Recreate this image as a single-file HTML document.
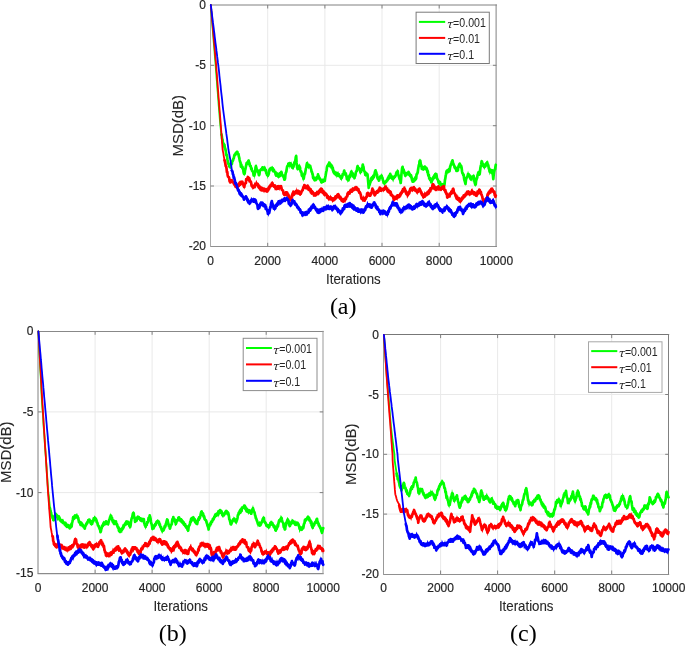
<!DOCTYPE html>
<html><head><meta charset="utf-8"><style>
html,body{margin:0;padding:0;background:#fff;width:685px;height:647px;overflow:hidden}
svg{display:block}
.g{stroke:#e9e9e9;stroke-width:1;fill:none}
.ax{fill:none;stroke:#707070;stroke-width:1}
.t{stroke:#808080;stroke-width:1}
.n{font-family:"Liberation Sans",Arial,sans-serif;font-size:13.2px;fill:#262626;stroke:#262626;stroke-width:0.2}
.xl{font-family:"Liberation Sans",Arial,sans-serif;font-size:14.6px;fill:#262626;stroke:#262626;stroke-width:0.1}
.l{font-family:"Liberation Sans",Arial,sans-serif;font-size:12.2px;fill:#262626}
.tau{font-family:"DejaVu Serif",serif;font-style:italic;font-size:11.5px;fill:#262626}
.p{font-family:"Liberation Serif","Times New Roman",serif;font-size:24px;fill:#000}
.lg{fill:#fff;stroke-width:1}
</style></head><body>
<svg width="685" height="647" viewBox="0 0 685 647">
<line x1="267.7" y1="5" x2="267.7" y2="246.3" class="g"/>
<line x1="324.9" y1="5" x2="324.9" y2="246.3" class="g"/>
<line x1="382" y1="5" x2="382" y2="246.3" class="g"/>
<line x1="439.2" y1="5" x2="439.2" y2="246.3" class="g"/>
<line x1="210.5" y1="65.3" x2="496.4" y2="65.3" class="g"/>
<line x1="210.5" y1="125.7" x2="496.4" y2="125.7" class="g"/>
<line x1="210.5" y1="186" x2="496.4" y2="186" class="g"/>
<line x1="210" y1="5" x2="496.9" y2="5" stroke="#808080"/>
<line x1="210" y1="246.5" x2="496.9" y2="246.5" stroke="#909090"/>
<line x1="210.5" y1="4.5" x2="210.5" y2="246.8" stroke="#aaaaaa"/>
<line x1="496.1" y1="4.5" x2="496.1" y2="246.8" stroke="#808080"/>
<text transform="translate(210.5 264.6) scale(0.91 1)" class="n" text-anchor="middle">0</text>
<line x1="267.7" y1="246.3" x2="267.7" y2="242.8" class="t"/>
<line x1="267.7" y1="5" x2="267.7" y2="8.5" class="t"/>
<text transform="translate(267.7 264.6) scale(0.91 1)" class="n" text-anchor="middle">2000</text>
<line x1="324.9" y1="246.3" x2="324.9" y2="242.8" class="t"/>
<line x1="324.9" y1="5" x2="324.9" y2="8.5" class="t"/>
<text transform="translate(324.9 264.6) scale(0.91 1)" class="n" text-anchor="middle">4000</text>
<line x1="382" y1="246.3" x2="382" y2="242.8" class="t"/>
<line x1="382" y1="5" x2="382" y2="8.5" class="t"/>
<text transform="translate(382 264.6) scale(0.91 1)" class="n" text-anchor="middle">6000</text>
<line x1="439.2" y1="246.3" x2="439.2" y2="242.8" class="t"/>
<line x1="439.2" y1="5" x2="439.2" y2="8.5" class="t"/>
<text transform="translate(439.2 264.6) scale(0.91 1)" class="n" text-anchor="middle">8000</text>
<text transform="translate(496.4 264.6) scale(0.91 1)" class="n" text-anchor="middle">10000</text>
<text transform="translate(206 9.1) scale(0.91 1)" class="n" text-anchor="end">0</text>
<line x1="210.5" y1="65.3" x2="214" y2="65.3" class="t"/>
<line x1="496.4" y1="65.3" x2="492.9" y2="65.3" class="t"/>
<text transform="translate(206 69.4) scale(0.91 1)" class="n" text-anchor="end">-5</text>
<line x1="210.5" y1="125.7" x2="214" y2="125.7" class="t"/>
<line x1="496.4" y1="125.7" x2="492.9" y2="125.7" class="t"/>
<text transform="translate(206 129.8) scale(0.91 1)" class="n" text-anchor="end">-10</text>
<line x1="210.5" y1="186" x2="214" y2="186" class="t"/>
<line x1="496.4" y1="186" x2="492.9" y2="186" class="t"/>
<text transform="translate(206 190.1) scale(0.91 1)" class="n" text-anchor="end">-15</text>
<text transform="translate(206 250.4) scale(0.91 1)" class="n" text-anchor="end">-20</text>
<path d="M210.8 5 L211.2 9.6 L211.5 14.2 L211.9 18.8 L212.3 23.3 L212.6 27.9 L213 32.5 L213.4 37.1 L213.7 41.7 L214.1 46.2 L214.5 50.8 L214.8 55.4 L215.2 60 L215.6 64.5 L215.9 69.1 L216.3 73.6 L216.6 78.2 L217 82.7 L217.3 87.3 L217.7 91.8 L218 96.4 L218.4 100.9 L218.7 105.5 L219.1 110 L219.5 115 L219.9 120 L220.3 125 L220.7 128.3 L221 131.7 L221.4 135" fill="none" stroke="#00ff00" stroke-width="1.8" stroke-linejoin="round" stroke-linecap="round"/>
<path d="M221.4 134.5 L221.8 135.8 L222.1 139.1 L222.5 139.2 L222.8 142.5 L223.2 143.8 L223.6 143.5 L224 145.4 L224.4 144.6 L224.8 147.6 L225.2 148.2 L225.6 149.9 L226 152.4 L226.3 155.2 L226.7 154.7 L227.1 156.6 L227.5 159.9 L228 163.1 L228.4 164.1 L228.8 164.1 L229.2 166.4 L229.6 164.2 L230 167.1 L230.4 166 L230.8 164.6 L231.1 163.6 L231.5 163.2 L231.9 163.8 L232.3 160.9 L232.6 161.2 L233 160.4 L233.4 158.7 L233.8 158.3 L234.2 155.9 L234.5 154.9 L234.9 154.4 L235.3 154.9 L235.7 153.2 L236.1 152.6 L236.5 153.1 L236.9 152.5 L237.3 151.8 L237.7 153 L238.1 154 L238.5 154 L238.8 156.3 L239.2 157.5 L239.6 159.8 L240 161.6 L240.5 162.5 L240.9 166.7 L241.3 164.5 L241.6 165.7 L242 167.1 L242.4 166.5 L242.8 168.8 L243.2 168.8 L243.5 171.9 L243.9 173.5 L244.3 174.2 L244.7 173.3 L245.1 169.8 L245.4 169.2 L245.8 167.1 L246.2 165.2 L246.6 163.1 L247 164 L247.4 164 L247.8 162.4 L248.2 162.7 L248.6 160.6 L249 162.3 L249.4 163.3 L249.8 165.5 L250.1 166.1 L250.5 165.7 L250.9 167.1 L251.2 169.1 L251.6 168.3 L252 170.8 L252.4 170.8 L252.8 171.6 L253.2 172.3 L253.6 175.3 L254 174.3 L254.4 175.5 L254.8 173.5 L255.2 172.4 L255.5 167.5 L255.9 166.1 L256.3 167.4 L256.7 169.4 L257.1 170.1 L257.4 171.2 L257.8 170.4 L258.2 171.8 L258.6 172.6 L259 175.2 L259.4 174.6 L259.8 171.4 L260.1 170.7 L260.5 170.1 L260.9 169.4 L261.3 169.4 L261.7 169.5 L262.1 168.3 L262.5 167.3 L262.9 168.4 L263.2 168 L263.6 168.4 L264 169.4 L264.4 168.4 L264.8 168.7 L265.1 169.8 L265.5 170.8 L265.8 169.7 L266.2 173 L266.6 173.5 L266.9 174.6 L267.3 175.2 L267.6 174.8 L268 175.6 L268.4 173.5 L268.8 173.8 L269.1 170.9 L269.5 169.6 L269.9 168.8 L270.3 168.6 L270.6 169 L271 168.1 L271.3 167.9 L271.7 168.2 L272 168 L272.4 168.7 L272.8 168.2 L273.1 171.2 L273.5 170.9 L273.9 170 L274.2 170.8 L274.6 171.6 L275 172.1 L275.4 171.9 L275.7 174.6 L276.1 175.5 L276.5 174.2 L276.8 174.5 L277.2 173.6 L277.5 173.9 L277.9 174.9 L278.2 174.9 L278.6 176.9 L279 174.5 L279.4 173.7 L279.8 176.1 L280.1 174.4 L280.5 172.9 L280.9 173.7 L281.3 171.8 L281.7 172.9 L282.1 175.1 L282.4 175.6 L282.8 175.9 L283.2 175.5 L283.6 176.7 L283.9 176.9 L284.3 179.6 L284.7 179.7 L285.1 178.4 L285.4 175 L285.8 172.7 L286.1 172.4 L286.5 170.9 L286.8 168.5 L287.2 166.3 L287.6 166.2 L287.9 165.9 L288.3 164.2 L288.7 164.9 L289 164.3 L289.4 163.2 L289.8 163.1 L290.2 163.7 L290.5 163.5 L290.9 164.7 L291.3 166 L291.6 165 L292 167 L292.3 167.7 L292.7 168.1 L293 166.9 L293.4 167 L293.8 165.4 L294.1 163.8 L294.4 162.3 L294.8 162 L295.1 161.3 L295.5 159.6 L295.8 157 L296.2 156 L296.6 162.9 L297.1 167.3 L297.5 168.7 L297.8 169.2 L298.2 168.5 L298.5 168.2 L298.9 167.1 L299.2 165.9 L299.6 167.5 L300 167.3 L300.3 170 L300.7 171.7 L301.1 171.2 L301.5 172.5 L301.8 175.4 L302.2 176 L302.6 175.5 L302.9 176.6 L303.3 178 L303.7 178.8 L304 177.1 L304.4 173.6 L304.8 174.3 L305.1 173.3 L305.5 170.9 L305.9 168.5 L306.3 167.7 L306.6 165 L307 163.2 L307.4 166.4 L307.8 165.6 L308.2 165.5 L308.6 167 L308.9 165.7 L309.3 167.2 L309.7 167.3 L310.1 165.7 L310.5 167.1 L310.8 168.5 L311.2 169.5 L311.6 171.8 L312 172.1 L312.3 173.8 L312.7 174.2 L313.1 177.8 L313.4 177.3 L313.8 178.9 L314.2 179.2 L314.5 180.1 L314.9 178.6 L315.3 180 L315.6 178.7 L316 178.7 L316.4 178.7 L316.8 177.1 L317.1 178.3 L317.5 177.4 L318 174.4 L318.4 177.4 L318.7 176.2 L319.1 177.7 L319.5 179.1 L319.9 179.2 L320.2 179.1 L320.6 180.3 L321 181 L321.3 182.3 L321.7 180.9 L322.1 182 L322.5 180.7 L322.9 180.5 L323.2 181.7 L323.6 180.6 L324 180.4 L324.4 180.7 L324.8 180.8 L325.2 177.5 L325.5 176.1 L325.9 173.8 L326.2 171.9 L326.6 170.5 L326.9 167.8 L327.3 166.1 L327.7 165.3 L328 166.1 L328.4 164.7 L328.7 164.6 L329.1 164.2 L329.5 162.7 L329.8 164.1 L330.2 165.8 L330.5 166 L330.9 164.5 L331.2 164.9 L331.6 166.4 L332 166.2 L332.4 167.5 L332.8 167.9 L333.1 170.5 L333.5 171.7 L333.9 172.9 L334.3 171.5 L334.7 174 L335.1 174 L335.5 172.5 L335.9 174.8 L336.2 175.1 L336.6 172.9 L337 175.2 L337.4 173.6 L337.8 174 L338.2 175.9 L338.5 175.9 L338.9 174.3 L339.3 175.6 L339.6 176.2 L340 176.2 L340.4 176.2 L340.8 177 L341.1 178.6 L341.5 177 L341.9 177.6 L342.3 176.3 L342.7 174.1 L343.1 174.1 L343.4 174.1 L343.8 172.8 L344.2 170.5 L344.6 172.4 L345 173 L345.4 174.8 L345.8 173.4 L346.1 175.1 L346.5 175.7 L346.9 179.2 L347.3 178.9 L347.7 179.7 L348.1 179.8 L348.4 180.4 L348.8 179.4 L349.2 176.9 L349.5 175.7 L349.9 177.3 L350.3 175.4 L350.7 175 L351 172.4 L351.4 171.5 L351.8 173.9 L352.2 173.7 L352.6 173.1 L352.9 176.3 L353.3 175.9 L353.7 176.9 L354.1 175.3 L354.5 178.2 L354.9 174.6 L355.3 175.7 L355.7 173.2 L356.1 171.7 L356.4 171.1 L356.8 171 L357.2 167.7 L357.6 166.1 L358 167.9 L358.4 167.7 L358.8 167.9 L359.1 168.7 L359.5 169 L359.9 170.1 L360.3 171 L360.7 171.6 L361.1 171.9 L361.4 169.5 L361.8 169.1 L362.1 167.1 L362.4 166.6 L362.8 164.6 L363.2 166.5 L363.5 167 L363.9 170.4 L364.3 171.1 L364.6 171.2 L365 173.3 L365.4 174.9 L365.7 172.6 L366.1 174.9 L366.4 173.9 L366.8 174.2 L367.1 175.4 L367.5 174.3 L367.9 178.6 L368.3 183 L368.7 187.8 L369.1 185 L369.4 185.5 L369.8 184.1 L370.1 182.9 L370.5 181.3 L370.8 180.1 L371.2 178.3 L371.6 178 L371.9 177.4 L372.3 179 L372.6 177.1 L373 176.4 L373.3 175.7 L373.7 177.5 L374.1 176.5 L374.4 174.8 L374.8 172.5 L375.1 171.2 L375.5 170.3 L375.9 171.9 L376.2 172 L376.6 174 L377 174.5 L377.4 177.7 L377.8 178.8 L378.1 178.7 L378.5 178.8 L378.9 180.6 L379.3 178.3 L379.7 178 L380.1 176.6 L380.4 177.3 L380.8 177.2 L381.2 176.9 L381.6 175.6 L382 177.8 L382.4 177.7 L382.8 179.8 L383.2 180.6 L383.6 182.9 L384 183.1 L384.4 182.5 L384.8 182.7 L385.2 181.9 L385.6 182.3 L385.9 181.5 L386.3 181.6 L386.7 180.7 L387.1 180.2 L387.5 180.2 L387.9 178.2 L388.3 177.5 L388.6 178.9 L389 175.9 L389.4 177 L389.8 176.3 L390.2 173.9 L390.6 176.7 L390.9 177.4 L391.3 177 L391.6 177.8 L392 178.5 L392.3 176.9 L392.7 178.5 L393.1 177.9 L393.5 178.5 L393.9 177.9 L394.2 177.5 L394.6 176.3 L395 176.7 L395.4 175.6 L395.8 175.2 L396.2 173.3 L396.6 172.2 L396.9 172.1 L397.3 172.3 L397.7 171 L398.1 174.4 L398.4 174.9 L398.8 176.3 L399.2 177.5 L399.6 178.9 L399.9 179.6 L400.3 179.4 L400.7 183 L401.1 179.1 L401.4 174.7 L401.8 171 L402.2 167.7 L402.6 166.8 L402.9 169.8 L403.3 169.2 L403.6 169.6 L404 171.1 L404.4 173.4 L404.7 172.8 L405.1 175.3 L405.5 175.8 L405.9 174.1 L406.3 173.6 L406.6 173.6 L407 174 L407.4 174.1 L407.8 173.4 L408.2 173.2 L408.6 172 L409 172.8 L409.4 173.6 L409.8 175.6 L410.2 174.8 L410.6 176.1 L411 175.3 L411.3 176.4 L411.7 177.9 L412 180 L412.4 180.9 L412.7 181.7 L413.1 181.5 L413.5 181.5 L413.9 180.7 L414.3 180.1 L414.6 178.5 L415 180.2 L415.4 177.4 L415.8 179.2 L416.2 178.4 L416.6 174.2 L417 174 L417.3 173.6 L417.7 172.6 L418.1 169.5 L418.5 167.1 L418.8 165.1 L419.2 165.5 L419.5 161.4 L419.9 160.6 L420.3 160.8 L420.7 163.4 L421 166.2 L421.4 165.2 L421.8 168.8 L422.2 167.9 L422.6 169.1 L423 168.7 L423.4 167.3 L423.7 169.4 L424.1 168.3 L424.5 167 L424.9 167 L425.3 168.6 L425.6 168.6 L426 168.3 L426.3 167.9 L426.7 168.6 L427.1 169.7 L427.4 172.4 L427.8 171 L428.1 174.4 L428.5 175.8 L428.8 174.8 L429.2 178.4 L429.6 178.4 L429.9 179.5 L430.3 178.3 L430.6 179.2 L431 179.9 L431.3 182.3 L431.7 181.7 L432.1 180.3 L432.5 179.8 L432.9 178.6 L433.3 177.2 L433.7 176.6 L434.1 178.1 L434.5 175.8 L434.8 177.2 L435.2 174.5 L435.5 173.9 L435.9 174 L436.3 174.1 L436.6 175.6 L437 178.4 L437.4 179.2 L437.8 179.9 L438.1 180.4 L438.5 182.2 L438.9 183.3 L439.3 182.6 L439.6 183.5 L440 182 L440.3 184.5 L440.7 184.1 L441 185.4 L441.4 185.5 L441.8 184.6 L442.1 184.1 L442.5 186.9 L442.8 184.7 L443.2 185.9 L443.5 185.7 L443.9 185.8 L444.3 185.1 L444.6 183.7 L445 179.6 L445.3 178.7 L445.7 175.6 L446 174.3 L446.4 171.8 L446.8 170.8 L447.2 170.5 L447.6 170.3 L447.9 172.1 L448.3 170.6 L448.7 169.5 L449.1 171.2 L449.5 171.2 L449.9 168.5 L450.2 166.4 L450.6 165.5 L451 164.1 L451.4 163.8 L451.8 161.9 L452.1 161.3 L452.5 160.3 L452.9 162.3 L453.2 164.3 L453.6 164.9 L453.9 165 L454.3 166 L454.6 167.4 L455 168 L455.4 168.2 L455.7 167.6 L456.1 168.5 L456.4 170.9 L456.8 168.6 L457.1 170 L457.5 170.7 L457.9 170.3 L458.2 167.3 L458.6 166.4 L458.9 165.3 L459.3 164.7 L459.6 163.8 L460 164.3 L460.4 165.5 L460.8 167.1 L461.2 166.1 L461.6 167.6 L462 171.2 L462.4 173.3 L462.8 173.3 L463.2 175 L463.6 174.5 L463.9 177 L464.3 179.9 L464.7 181 L465.1 182.4 L465.5 184 L465.9 180.5 L466.2 178.8 L466.6 177.6 L466.9 177.4 L467.3 176.6 L467.6 176 L468 174.1 L468.4 174.5 L468.7 175.6 L469.1 175.4 L469.4 176.4 L469.8 175.5 L470.1 178.4 L470.5 177.5 L470.9 179.4 L471.3 178.4 L471.7 177.3 L472.1 176.6 L472.4 176.8 L472.8 177.8 L473.2 177.8 L473.6 175.9 L474 177.5 L474.3 180.6 L474.7 182.5 L475 183.6 L475.4 184.9 L475.8 184.2 L476.1 180.5 L476.5 179.6 L476.8 178.2 L477.2 177.9 L477.5 175.1 L477.9 174 L478.3 172.8 L478.6 172.2 L479 172.4 L479.3 174.7 L479.7 174 L480.1 170.5 L480.5 167.2 L480.8 166.3 L481.2 164.5 L481.6 161.4 L482 161.7 L482.3 163.7 L482.7 165.3 L483 164 L483.4 164.2 L483.7 165.9 L484.1 167 L484.5 167.2 L484.9 165.2 L485.3 166.5 L485.6 165.8 L486 164.5 L486.4 163.1 L486.8 164.8 L487.2 162.3 L487.6 165.1 L488 164.6 L488.4 165.8 L488.8 168.6 L489.2 168.5 L489.6 171.7 L490 170.5 L490.3 169.7 L490.7 170 L491 170.7 L491.4 171.7 L491.7 172.7 L492.1 170.4 L492.5 173.2 L492.9 174.8 L493.3 179.1 L493.7 174.7 L494 172.5 L494.4 170.6 L494.7 169.6 L495.1 169.2 L495.4 167.2 L495.8 164.8" fill="none" stroke="#00ff00" stroke-width="2.7" stroke-linejoin="round" stroke-linecap="round"/>
<path d="M221.4 134.9 L222 136.6 L222.6 139.8 L223.2 142.7 L223.8 143.2 L224.4 144 L225.2 148.1 L225.8 150.5 L226.5 153.1 L227.1 155.2 L227.8 158.7 L228.4 161.9 L228.9 162.9 L229.4 163.4 L229.9 164.4 L230.4 166 L230.9 164.7 L231.4 163.7 L232 161.9 L232.5 159.8 L233 158.5 L233.5 155.9 L234.1 154.9 L234.6 153.4 L235.2 152.4 L235.7 151.9 L236.2 151.2 L236.7 150.3 L237.2 150.9 L237.7 150.6 L238.3 153.7 L239 155.7 L239.6 156.5 L240.2 160 L240.9 163.1 L241.4 164.9 L242 166 L242.6 167.5 L243.2 168.5 L243.7 171.1 L244.3 172.3 L244.9 169.7 L245.4 166.8 L246 164.5 L246.6 161.3 L247.2 160.6 L247.8 160.3 L248.4 159.9 L249 159 L249.5 160.9 L250 162 L250.5 163 L251 164.4 L251.5 166.1 L252 168.6 L252.6 169.5 L253.2 171 L253.8 172.6 L254.4 174.8 L254.9 171.3 L255.4 168.6 L255.9 163.8 L256.4 164.8 L256.9 167 L257.4 169.3 L258 169.8 L258.5 170.9 L259 171.5 L259.6 170 L260.1 168.9 L260.7 168.3 L261.3 167.4 L261.8 167.4 L262.3 166.8 L262.9 168 L263.4 166.5 L263.9 165.9 L264.4 165.5 L264.9 166.6 L265.4 166.3 L265.9 168.6 L266.5 171.1 L267 172 L267.5 174.3 L268 173.7 L268.6 172.2 L269.3 170.2 L269.9 167.9 L270.4 167.7 L270.9 167.3 L271.4 167 L271.9 166.5 L272.4 165.6 L272.9 167.8 L273.5 167.5 L274 167.8 L274.5 169.4 L275 171.1 L275.6 172.1 L276.1 173 L276.6 173.1 L277.1 172.5 L277.6 173.1 L278.1 173.8 L278.6 174.6 L279.1 174.4 L279.6 173 L280.1 172.6 L280.7 171.7 L281.2 171.5 L281.7 171.1 L282.2 172.4 L282.7 174.1 L283.2 175.2 L283.7 176 L284.2 176.7 L284.7 177.3 L285.2 173.9 L285.7 169.6 L286.2 169.6 L286.7 166.2 L287.2 162.8 L287.7 162.4 L288.3 162.7 L288.8 162.1 L289.3 161.8 L289.8 163.4 L290.4 163.3 L290.9 161.8 L291.4 161.5 L291.9 163.6 L292.4 163.7 L292.9 163.7 L293.4 166.4 L294 162.7 L294.5 161.2 L295.1 158.4 L295.6 156.3 L296.2 154.1 L297.1 165.7 L297.6 166.6 L298.1 166 L298.6 165.8 L299.1 163.3 L299.6 164.5 L300.1 165.4 L300.7 168.2 L301.2 170.4 L301.7 172.1 L302.2 174 L302.8 176.6 L303.3 176 L303.8 174.3 L304.4 171.8 L304.9 170.9 L305.4 169.4 L305.9 167.8 L306.5 165.1 L307 162 L307.5 161 L308 161.7 L308.6 163.9 L309.1 163.3 L309.6 164 L310.1 165.2 L310.6 167.4 L311.2 168.9 L311.7 170.4 L312.2 171.3 L312.7 170.5 L313.3 174 L313.8 175.5 L314.3 177.6 L314.9 175.5 L315.4 177.5 L315.9 177.6 L316.4 177.6 L317 176.5 L317.5 176.2 L318 173.9 L318.5 174.6 L319.1 175.5 L319.6 175.8 L320.1 177.4 L320.6 177 L321.2 178.4 L321.7 179.3 L322.2 177.7 L322.7 179.2 L323.2 178.7 L323.8 178.2 L324.3 176.9 L324.8 177.2 L325.3 175 L325.8 173.1 L326.3 169.9 L326.8 167.3 L327.3 163.8 L327.9 162.6 L328.5 161.2 L329.1 161.5 L329.6 162.9 L330.1 164.1 L330.6 165.2 L331.1 165.3 L331.6 165.6 L332.1 166.5 L332.6 167 L333.1 167.8 L333.7 168.7 L334.2 169.6 L334.7 171 L335.2 172.1 L335.7 172.2 L336.2 173.1 L336.8 172.6 L337.3 171.8 L337.8 172.1 L338.3 171.1 L338.9 173.3 L339.4 173.9 L339.9 174.6 L340.4 175.9 L341 175.8 L341.5 177.2 L342 175.8 L342.5 174 L343.1 170.3 L343.6 170.2 L344.1 170.1 L344.6 169.4 L345.1 171.6 L345.6 173.3 L346.1 173.7 L346.7 175.3 L347.2 176.5 L347.7 179.4 L348.2 176.9 L348.8 176.3 L349.3 173 L349.8 174 L350.3 172.5 L350.9 172.2 L351.4 170.6 L351.9 169.1 L352.4 171.5 L352.9 173.4 L353.5 174.2 L354 174.8 L354.5 175.2 L355 173.6 L355.5 172.7 L356.1 171 L356.6 169 L357.1 167.4 L357.6 164.5 L358.1 165.6 L358.6 167.3 L359.1 168.5 L359.7 169.4 L360.2 170.5 L360.7 170.7 L361.2 169 L361.8 167.2 L362.3 164.9 L362.8 164.5 L363.4 166.3 L363.9 168.7 L364.4 170.7 L365 173.4 L365.5 172.6 L366 172.4 L366.5 171.9 L367 172.5 L367.5 172 L368.1 180.2 L368.7 184.6 L369.2 184 L369.7 180.5 L370.2 179.5 L370.7 180.1 L371.2 177.1 L371.7 176.9 L372.2 174.9 L372.7 177 L373.2 176.6 L373.7 175.2 L374.3 171.8 L374.9 171.5 L375.5 170.3 L376 171.1 L376.5 172.3 L377 173.1 L377.5 175.6 L378 176.6 L378.5 177.7 L379 178 L379.5 177.9 L380.1 176.7 L380.6 176.2 L381.1 172.9 L381.6 174.1 L382.2 176.4 L382.8 176 L383.4 179.7 L384 182.2 L384.5 182.2 L385 181 L385.6 180.3 L386.1 179 L386.6 178.7 L387.1 177.8 L387.6 177.3 L388.1 176.1 L388.6 175.5 L389.2 173.4 L389.7 173.5 L390.2 174.3 L390.7 174.8 L391.2 173.8 L391.7 174.7 L392.2 174.7 L392.7 176.4 L393.2 176.8 L393.7 176.7 L394.2 175.2 L394.8 175.2 L395.3 174.7 L395.8 173.7 L396.4 172.6 L397.1 171.1 L397.7 168.6 L398.2 172.1 L398.7 173.9 L399.2 174.6 L399.7 176.9 L400.2 179.2 L400.7 179.6 L401.2 175.1 L401.7 170.9 L402.2 165.5 L402.8 166.9 L403.4 169.2 L403.9 169.5 L404.5 171 L405.1 171.1 L405.6 173 L406.1 172.1 L406.6 171.8 L407.2 171.4 L407.7 171.7 L408.2 171.1 L408.8 170.9 L409.4 172.2 L410 173.2 L410.6 173.8 L411.1 175.9 L411.6 176.1 L412.1 176.9 L412.6 178.7 L413.1 178.1 L413.6 178.9 L414.1 178.5 L414.6 176.9 L415.2 175.9 L415.7 175.3 L416.2 174.4 L416.8 171.8 L417.5 170.1 L418.1 167.5 L418.7 165 L419.3 162 L419.9 158.2 L420.5 159.6 L421.2 162.5 L421.8 166 L422.3 166.2 L422.8 166.8 L423.4 166.6 L423.9 165.3 L424.4 165.3 L424.9 165.5 L425.5 165 L426.1 167.4 L426.7 166.3 L427.2 167.7 L427.7 169.8 L428.2 171.5 L428.7 173.6 L429.2 175 L429.7 176.6 L430.2 177.1 L430.7 177.9 L431.2 178.6 L431.7 178.8 L432.3 178.4 L432.9 177.1 L433.5 174.3 L434.1 173.7 L434.7 172.9 L435.3 173 L435.9 172.6 L436.4 174.2 L436.9 174.8 L437.4 176.3 L437.9 178.3 L438.4 178.4 L438.9 180 L439.4 180.4 L439.9 181.5 L440.4 182.1 L440.9 182.8 L441.4 183 L441.9 182.9 L442.4 183.5 L442.9 183.5 L443.4 182.6 L443.9 183.7 L444.4 182.4 L444.9 180.3 L445.4 175.8 L445.9 172.8 L446.4 170.6 L446.9 171 L447.4 170.5 L447.9 169.4 L448.5 169.1 L449 167.2 L449.5 168.9 L450 167.1 L450.5 164.6 L451 163.6 L451.5 161.1 L452 159.8 L452.5 159.1 L453 161.3 L453.5 160.3 L454 163.8 L454.5 162.7 L455 164.7 L455.5 166.3 L456 166.3 L456.5 167.7 L457 167.8 L457.5 168.2 L458 167.2 L458.5 165.4 L459 164.5 L459.5 162.5 L460 161.9 L460.6 163.1 L461.2 164.6 L461.8 168.3 L462.4 170.4 L462.9 171.4 L463.4 174 L463.9 174.6 L464.5 176.6 L465 177.5 L465.5 180 L466 177.9 L466.5 177.2 L467 174.9 L467.5 172.9 L468 170.6 L468.5 172.5 L469 173.5 L469.5 172.8 L470 174.5 L470.5 176.6 L471 176.4 L471.5 176.8 L472.1 176.8 L472.6 176.2 L473.1 175.8 L473.6 173.4 L474.2 177.2 L474.8 180.8 L475.4 183 L475.9 182.4 L476.4 179.8 L476.9 176.9 L477.4 173.7 L477.9 171.6 L478.5 171.4 L479.1 170.9 L479.7 172.3 L480.3 167.7 L481 163.8 L481.6 159 L482.1 161.4 L482.6 159.8 L483.1 162.7 L483.6 163.2 L484.1 164.8 L484.6 164.6 L485.1 163.8 L485.6 162.9 L486.2 162.9 L486.7 161.2 L487.2 159.7 L487.8 162.1 L488.4 163.9 L489 168.3 L489.6 169.7 L490.1 169 L490.6 169.5 L491.1 168.8 L491.6 170 L492.1 170.6 L492.7 172.8 L493.3 175.6 L493.8 171.6 L494.3 170.4 L494.8 166.1 L495.3 164.4 L495.8 161.9 L495.8 164.7 L495.3 167.7 L494.8 172.7 L494.3 173.6 L493.8 176.2 L493.3 179.4 L492.7 178.6 L492.1 174.6 L491.6 173.4 L491.1 174.4 L490.6 173.3 L490.1 173.8 L489.6 175.5 L489 171.9 L488.4 168.6 L487.8 166.1 L487.2 164.4 L486.7 165.2 L486.2 165.9 L485.6 166.3 L485.1 167.2 L484.6 169.7 L484.1 169.5 L483.6 167 L483.1 167.3 L482.6 167 L482.1 164.9 L481.6 162.7 L481 167.7 L480.3 171.3 L479.7 175.6 L479.1 175.6 L478.5 175.3 L477.9 176.4 L477.4 178.4 L476.9 180.2 L476.4 183.8 L475.9 185.3 L475.4 187.1 L474.8 185.1 L474.2 180.7 L473.6 178.4 L473.1 178.6 L472.6 179.9 L472.1 182.1 L471.5 180.8 L471 180.1 L470.5 180.7 L470 178.2 L469.5 178.4 L469 176.9 L468.5 177.4 L468 174.6 L467.5 176.8 L467 179.8 L466.5 181 L466 183.7 L465.5 183.9 L465 181.7 L464.5 180.1 L463.9 178.7 L463.4 178.1 L462.9 176.7 L462.4 174.6 L461.8 171.2 L461.2 170 L460.6 167.7 L460 165.2 L459.5 166.7 L459 168.5 L458.5 169.2 L458 170.4 L457.5 172.4 L457 171.9 L456.5 171.4 L456 170.6 L455.5 169.3 L455 170.4 L454.5 168.8 L454 167 L453.5 165.4 L453 165.6 L452.5 162.6 L452 164 L451.5 165.1 L451 168.8 L450.5 168.9 L450 170.4 L449.5 172.8 L449 172.7 L448.5 172.5 L447.9 172.4 L447.4 173.6 L446.9 175.3 L446.4 176 L445.9 178.1 L445.4 180.9 L444.9 183.9 L444.4 185.2 L443.9 188 L443.4 187.2 L442.9 186.8 L442.4 187.5 L441.9 186.3 L441.4 186.8 L440.9 186.7 L440.4 185.4 L439.9 185.3 L439.4 183.6 L438.9 184.2 L438.4 181.6 L437.9 181.1 L437.4 180.2 L436.9 179.4 L436.4 179.4 L435.9 176.2 L435.3 177.4 L434.7 176.8 L434.1 178.4 L433.5 179.7 L432.9 180.5 L432.3 182.4 L431.7 183.2 L431.2 182.8 L430.7 181.8 L430.2 183.1 L429.7 181 L429.2 180.9 L428.7 179.3 L428.2 175.2 L427.7 172.5 L427.2 171.9 L426.7 170.4 L426.1 171.3 L425.5 170.5 L424.9 169.7 L424.4 169.4 L423.9 169.3 L423.4 171 L422.8 170.5 L422.3 169.8 L421.8 169.4 L421.2 167.3 L420.5 164.7 L419.9 161.7 L419.3 165.1 L418.7 168.3 L418.1 171.1 L417.5 173.5 L416.8 176.1 L416.2 178.5 L415.7 179.3 L415.2 180.3 L414.6 182.7 L414.1 182.1 L413.6 182.6 L413.1 182.7 L412.6 181.7 L412.1 180.6 L411.6 180.9 L411.1 178.8 L410.6 178.5 L410 177.2 L409.4 177.2 L408.8 175.8 L408.2 175.6 L407.7 175.8 L407.2 174.6 L406.6 175.9 L406.1 176 L405.6 176.6 L405.1 177.8 L404.5 175.3 L403.9 173 L403.4 172.4 L402.8 171.7 L402.2 170 L401.7 173.8 L401.2 180.2 L400.7 184.3 L400.2 182.4 L399.7 183.1 L399.2 179.8 L398.7 179 L398.2 175.1 L397.7 173.8 L397.1 174.2 L396.4 176.4 L395.8 177.4 L395.3 177.9 L394.8 178.6 L394.2 179 L393.7 180.8 L393.2 182.6 L392.7 181.2 L392.2 180.2 L391.7 178.2 L391.2 177.8 L390.7 178.6 L390.2 177.9 L389.7 179.5 L389.2 178.7 L388.6 178.7 L388.1 181.7 L387.6 180.7 L387.1 182.5 L386.6 183.6 L386.1 182.5 L385.6 184.3 L385 184.8 L384.5 186 L384 185.8 L383.4 183.4 L382.8 182 L382.2 180.2 L381.6 178 L381.1 178.3 L380.6 179.3 L380.1 181.5 L379.5 180.8 L379 181.2 L378.5 181.9 L378 180.1 L377.5 178.7 L377 177.2 L376.5 175.8 L376 174.9 L375.5 173.4 L374.9 175.9 L374.3 177 L373.7 179.8 L373.2 179.8 L372.7 181.2 L372.2 181.3 L371.7 180.7 L371.2 182.9 L370.7 183.1 L370.2 184.6 L369.7 185.9 L369.2 187.6 L368.7 189 L368.1 183.6 L367.5 176.4 L367 176 L366.5 175.4 L366 176.8 L365.5 176.5 L365 176.2 L364.4 175.4 L363.9 171.7 L363.4 170.9 L362.8 167.6 L362.3 169.3 L361.8 170.9 L361.2 172.4 L360.7 174.9 L360.2 174.3 L359.7 174 L359.1 172.3 L358.6 170.6 L358.1 169.6 L357.6 168.6 L357.1 170.3 L356.6 174.1 L356.1 174.3 L355.5 177.1 L355 178.9 L354.5 179.4 L354 178.2 L353.5 178 L352.9 176.9 L352.4 175.8 L351.9 174.7 L351.4 174.1 L350.9 175.6 L350.3 176.4 L349.8 177 L349.3 178.9 L348.8 179.7 L348.2 181.5 L347.7 183.1 L347.2 180.4 L346.7 178.8 L346.1 178.1 L345.6 176.3 L345.1 176.8 L344.6 173.2 L344.1 173.6 L343.6 174.1 L343.1 176.4 L342.5 178.4 L342 179.3 L341.5 181.6 L341 180.2 L340.4 179.1 L339.9 178.4 L339.4 177.7 L338.9 177.2 L338.3 176.8 L337.8 175.2 L337.3 176.5 L336.8 178.4 L336.2 176.1 L335.7 176.4 L335.2 175.6 L334.7 175 L334.2 173.9 L333.7 172.6 L333.1 173.8 L332.6 171.7 L332.1 170.9 L331.6 169.9 L331.1 168.5 L330.6 169.1 L330.1 167.3 L329.6 168.2 L329.1 164.8 L328.5 165.6 L327.9 165.6 L327.3 167 L326.8 171.2 L326.3 173.4 L325.8 176.8 L325.3 178.2 L324.8 180.6 L324.3 181 L323.8 181.3 L323.2 183.1 L322.7 183.2 L322.2 183.3 L321.7 183.9 L321.2 183.3 L320.6 181.5 L320.1 181.4 L319.6 179.9 L319.1 179.1 L318.5 178.7 L318 177.7 L317.5 180.3 L317 180.6 L316.4 181.3 L315.9 181.4 L315.4 181.1 L314.9 180.7 L314.3 181.7 L313.8 180.4 L313.3 178.2 L312.7 176 L312.2 175.1 L311.7 174.3 L311.2 172.4 L310.6 171.1 L310.1 168.3 L309.6 167.5 L309.1 167.2 L308.6 169.7 L308 167.8 L307.5 166.8 L307 165.8 L306.5 168.8 L305.9 172.6 L305.4 173.1 L304.9 175.3 L304.4 177.1 L303.8 179.4 L303.3 182 L302.8 180.4 L302.2 178.3 L301.7 175.6 L301.2 173.8 L300.7 171.4 L300.1 169.2 L299.6 167.7 L299.1 168.4 L298.6 169.4 L298.1 170.1 L297.6 170.3 L297.1 169.5 L296.2 157 L295.6 162 L295.1 161.8 L294.5 164.2 L294 166.8 L293.4 170 L292.9 169.5 L292.4 168.4 L291.9 168.1 L291.4 165.8 L290.9 166 L290.4 166.4 L289.8 169.2 L289.3 167 L288.8 166.3 L288.3 166.6 L287.7 167.1 L287.2 167.2 L286.7 170.7 L286.2 173.9 L285.7 175 L285.2 177.1 L284.7 180.5 L284.2 180.1 L283.7 180.3 L283.2 178.9 L282.7 178 L282.2 176.3 L281.7 175.1 L281.2 176.5 L280.7 176.2 L280.1 176.9 L279.6 176.7 L279.1 177.5 L278.6 178.9 L278.1 177.4 L277.6 177.6 L277.1 176.4 L276.6 176.5 L276.1 177.2 L275.6 175.9 L275 174.4 L274.5 174.3 L274 172.2 L273.5 172.3 L272.9 171.5 L272.4 170.9 L271.9 170.8 L271.4 170.6 L270.9 172.3 L270.4 170.5 L269.9 171.9 L269.3 175.4 L268.6 176.7 L268 177.4 L267.5 179.3 L267 175.5 L266.5 174.4 L265.9 172.9 L265.4 172 L264.9 171.6 L264.4 169.7 L263.9 170.1 L263.4 171 L262.9 171.7 L262.3 170.5 L261.8 170.8 L261.3 170.8 L260.7 172.3 L260.1 173.1 L259.6 174.1 L259 175 L258.5 174.3 L258 175.8 L257.4 172.9 L256.9 170.5 L256.4 170.7 L255.9 167.6 L255.4 171.8 L254.9 175.1 L254.4 179.9 L253.8 176.2 L253.2 174.8 L252.6 173.2 L252 172.7 L251.5 170 L251 167.7 L250.5 166.5 L250 166.6 L249.5 164.8 L249 162.8 L248.4 163.8 L247.8 163.6 L247.2 163.7 L246.6 165.4 L246 168.7 L245.4 171 L244.9 173 L244.3 176.5 L243.7 174.3 L243.2 172.5 L242.6 170.7 L242 169.1 L241.4 169.5 L240.9 166.3 L240.2 163.3 L239.6 160.7 L239 159.1 L238.3 157.7 L237.7 153.9 L237.2 154.6 L236.7 154.5 L236.2 155 L235.7 155.6 L235.2 156.2 L234.6 158 L234.1 158.9 L233.5 160.3 L233 161.8 L232.5 164 L232 166.7 L231.4 166.7 L230.9 169.3 L230.4 168.8 L229.9 168.6 L229.4 167 L228.9 166.5 L228.4 165.8 L227.8 162.4 L227.1 158.8 L226.5 156.3 L225.8 154.7 L225.2 151.4 L224.4 149.2 L223.8 149.4 L223.2 146.6 L222.6 143.3 L222 140.2 L221.4 138.2Z" fill="#00ff00"/>
<path d="M210.8 5 L211.2 9.2 L211.6 13.5 L211.9 17.7 L212.3 21.9 L212.7 26.2 L213.1 30.4 L213.4 34.6 L213.8 38.8 L214.2 43.1 L214.6 47.3 L214.9 51.5 L215.3 55.8 L215.7 60 L216.1 64.5 L216.4 69.1 L216.8 73.6 L217.1 78.2 L217.5 82.7 L217.8 87.3 L218.2 91.8 L218.5 96.4 L218.9 100.9 L219.2 105.5 L219.6 110 L220 115 L220.4 120.1 L220.8 125.1 L221.2 130.7 L221.7 136.3 L222.1 142.9 L222.6 149.5 L223 151.6 L223.4 153.7 L223.7 155.8 L224.1 157.9 L224.5 160" fill="none" stroke="#ff0000" stroke-width="1.8" stroke-linejoin="round" stroke-linecap="round"/>
<path d="M224.5 160.2 L224.9 161.4 L225.3 163.3 L225.7 166 L226.1 166.4 L226.5 168.2 L226.9 172.1 L227.3 171.9 L227.6 175 L228 176.6 L228.4 177 L228.8 177.1 L229.2 178 L229.6 181.4 L230 180.2 L230.4 182.4 L230.8 182.2 L231.2 180.7 L231.6 181.5 L232 180.4 L232.4 181.2 L232.8 181.9 L233.2 182.3 L233.6 182.5 L234 183.9 L234.4 184.1 L234.8 184.1 L235.1 184.6 L235.5 186.7 L235.9 185.7 L236.3 187.1 L236.6 184.7 L237 187.6 L237.4 185.9 L237.7 186.4 L238.1 185.4 L238.5 185.4 L238.9 183.6 L239.2 184.8 L239.6 182.7 L240 182.8 L240.4 181.9 L240.8 182.7 L241.2 182.9 L241.6 182 L242 183.6 L242.4 181.8 L242.8 184 L243.2 183.6 L243.5 185.4 L243.9 186.6 L244.3 187 L244.7 183.9 L245.1 183.3 L245.5 183.2 L245.9 183.2 L246.2 179.2 L246.6 179.8 L247 178.8 L247.4 178 L247.8 177.1 L248.2 179.1 L248.6 178.5 L248.9 180.4 L249.3 178.2 L249.7 181.5 L250.1 180.9 L250.5 181.8 L250.9 181.9 L251.2 183.3 L251.6 185.7 L252 186.5 L252.4 185.9 L252.8 187.4 L253.2 186.4 L253.5 186.2 L253.9 185.8 L254.2 185.7 L254.6 187.2 L254.9 186.9 L255.3 185.8 L255.6 184.5 L256 184.1 L256.3 184.6 L256.7 184.5 L257.1 184.6 L257.4 184.8 L257.8 184 L258.2 185.9 L258.5 187.1 L258.9 187.4 L259.3 185.9 L259.6 188.3 L260 187.7 L260.4 187.3 L260.7 189.9 L261.1 189.1 L261.5 189.5 L261.9 187.8 L262.2 190 L262.6 190.4 L263 190.5 L263.3 190.1 L263.7 190.5 L264.1 190.5 L264.4 189.9 L264.8 189.5 L265.2 190.7 L265.5 190.7 L265.9 191 L266.3 189.3 L266.7 191.4 L267 190.1 L267.4 191.4 L267.8 188.5 L268.1 190.5 L268.5 189.5 L268.8 187.4 L269.2 188.7 L269.5 186.4 L269.9 185.8 L270.3 186.1 L270.6 184.9 L271 185.2 L271.3 186 L271.7 184.8 L272 184.4 L272.4 183 L272.8 184.6 L273.1 185.2 L273.5 185.3 L273.9 186.6 L274.2 186.7 L274.6 186 L275 185.5 L275.4 187.7 L275.7 188.7 L276.1 187.7 L276.5 188.4 L276.9 189 L277.2 188.8 L277.6 186.3 L278 187.7 L278.4 186.2 L278.7 186.4 L279.1 188.4 L279.5 187.1 L279.9 187.6 L280.2 187.1 L280.6 186.6 L281 186.1 L281.4 187.5 L281.8 189.9 L282.2 190.1 L282.6 190.1 L282.9 190.4 L283.3 191.9 L283.7 194.1 L284.1 194.2 L284.5 194.7 L284.9 195 L285.3 192.8 L285.6 194.3 L286 192.3 L286.4 194.5 L286.8 192.4 L287.2 192.5 L287.6 195.3 L288 194.3 L288.4 194.7 L288.8 197.5 L289.1 197.4 L289.5 199 L289.9 198.3 L290.3 199.4 L290.7 200 L291.1 197.9 L291.5 198.5 L291.9 195.4 L292.2 196.5 L292.6 193.7 L293 194.1 L293.4 191.7 L293.8 192.1 L294.1 194.3 L294.5 192.7 L294.9 193.6 L295.2 191.9 L295.6 192 L296 191.2 L296.4 192.4 L296.7 193.2 L297.1 192 L297.5 191.8 L297.8 193.5 L298.2 193.5 L298.6 193 L299 191.3 L299.3 193.1 L299.7 192.7 L300.1 194.3 L300.4 192.7 L300.8 193.7 L301.2 192.7 L301.6 191.1 L302 190.7 L302.4 190.3 L302.7 190.2 L303.1 188.1 L303.5 186.8 L303.9 187.8 L304.3 185.1 L304.6 187.5 L305 187.1 L305.4 186.8 L305.8 186.5 L306.1 187.5 L306.5 188 L306.9 187.6 L307.2 187.7 L307.6 185.6 L308 186.9 L308.4 186.8 L308.8 189.7 L309.1 190 L309.5 188.2 L309.9 190 L310.3 190.5 L310.7 189.3 L311.1 190.7 L311.4 192.2 L311.8 192.2 L312.2 191.5 L312.5 193.3 L312.9 192.3 L313.3 193.4 L313.7 193.4 L314 195.5 L314.4 194.8 L314.8 195.2 L315.1 194.7 L315.5 193.7 L315.8 195.3 L316.2 194.4 L316.6 194.3 L316.9 192.9 L317.3 192.4 L317.6 193.5 L318 194.2 L318.4 193.6 L318.8 191.8 L319.2 190.7 L319.6 191.4 L319.9 192 L320.3 189.4 L320.7 190.7 L321.1 188.5 L321.5 189.3 L321.8 189 L322.2 190.1 L322.5 190.8 L322.9 192.9 L323.2 193.3 L323.6 191.4 L324 192.2 L324.3 194.5 L324.7 192.7 L325 193.5 L325.4 194.2 L325.8 193.6 L326.1 194.4 L326.5 195.2 L326.9 195.5 L327.2 197.6 L327.6 195.9 L328 196.1 L328.4 198.6 L328.7 197.6 L329.1 199.1 L329.5 198.6 L329.8 199.1 L330.2 197.8 L330.5 197.4 L330.9 199.3 L331.2 198.6 L331.6 198.9 L332 199.4 L332.3 199.7 L332.7 198.4 L333 198.7 L333.4 200.5 L333.7 199.4 L334.1 198.8 L334.5 199.4 L334.8 197.8 L335.2 198.9 L335.6 196.3 L336 198.2 L336.3 197 L336.7 196 L337.1 197.3 L337.4 194.8 L337.8 194.3 L338.2 194.2 L338.6 196.1 L338.9 197.1 L339.3 197.3 L339.7 197 L340.1 198.6 L340.4 196.9 L340.8 197.9 L341.2 199.3 L341.6 200.7 L341.9 200.2 L342.3 200.8 L342.7 201.4 L343.1 200.1 L343.4 201.6 L343.8 200.8 L344.1 199.4 L344.5 199.4 L344.8 200.5 L345.2 198.9 L345.6 197.7 L345.9 199.1 L346.3 197.4 L346.6 196.6 L347 196.3 L347.3 196.3 L347.7 193.3 L348.1 193.5 L348.4 192.4 L348.8 193 L349.2 192.9 L349.5 193.6 L349.9 192.7 L350.3 192 L350.7 191.2 L351 191.3 L351.4 190 L351.8 191.5 L352.1 191 L352.5 190.9 L352.8 188.6 L353.2 189.9 L353.5 189.9 L353.9 188.9 L354.3 189.8 L354.6 189.6 L355 188.8 L355.3 188.8 L355.7 188 L356.1 189.1 L356.5 187.3 L356.9 189.4 L357.2 189.8 L357.6 189.9 L358 189.3 L358.4 189 L358.8 191 L359.2 192.6 L359.6 191.9 L360 192.6 L360.4 193.6 L360.7 194.1 L361.1 196.8 L361.5 198.6 L361.9 199 L362.3 198 L362.7 199.3 L363.1 197.8 L363.4 200.4 L363.8 199.1 L364.2 198.5 L364.6 200.7 L365 199.5 L365.4 199 L365.7 197.3 L366.1 197.5 L366.4 196.9 L366.8 196.7 L367.1 193.4 L367.5 194.8 L367.9 192.9 L368.2 193.5 L368.6 195 L368.9 194.4 L369.3 194.7 L369.6 195.6 L370 194.9 L370.4 195.6 L370.8 193 L371.2 193.9 L371.6 192.9 L372 191.1 L372.4 188.7 L372.8 191.5 L373.1 189.9 L373.5 192 L373.8 192.3 L374.2 191.9 L374.5 194.2 L374.9 195.1 L375.3 194.2 L375.7 193.2 L376.1 193 L376.4 192.8 L376.8 191.3 L377.2 192.7 L377.6 192.6 L378 191.6 L378.4 191.6 L378.9 189.3 L379.3 190.8 L379.7 187.6 L380.1 189 L380.4 188 L380.8 189.1 L381.2 189.9 L381.5 190.1 L381.9 189.5 L382.3 189.3 L382.7 188.9 L383 189.7 L383.4 189.4 L383.8 188.7 L384.2 189.8 L384.5 188.6 L384.9 187.9 L385.3 186.7 L385.7 188.6 L386.1 187.5 L386.5 188.1 L386.9 189.3 L387.2 190.1 L387.6 191.3 L388 191.1 L388.4 192 L388.8 192.4 L389.2 192.3 L389.6 192.7 L389.9 191.2 L390.3 192.1 L390.7 192 L391.1 195 L391.5 195.1 L391.9 195.5 L392.3 195.2 L392.7 196.2 L393.1 196.3 L393.5 198.5 L393.9 200.3 L394.3 198 L394.7 197 L395.1 197.1 L395.4 197.4 L395.8 198.8 L396.2 198.3 L396.6 197 L397 195.7 L397.4 195.5 L397.7 195.4 L398.1 197 L398.5 195.8 L398.9 197.1 L399.2 196.6 L399.6 196 L400 194.8 L400.3 195.6 L400.7 193.3 L401.1 192.6 L401.5 193.4 L401.8 192.6 L402.2 191 L402.6 190.6 L403 189.2 L403.4 191.3 L403.7 190.1 L404.1 190.2 L404.5 189.6 L404.9 188.9 L405.2 190.8 L405.6 190.7 L406 192.9 L406.4 193.9 L406.8 192.7 L407.1 193.3 L407.5 194.8 L407.9 195.2 L408.3 193.8 L408.7 191.9 L409.1 193.6 L409.4 192.7 L409.8 190.9 L410.2 188.9 L410.6 190.7 L411 189.4 L411.4 187.9 L411.8 188.5 L412.1 189.2 L412.5 189.8 L412.9 188.5 L413.3 188.8 L413.7 187.3 L414.1 187.9 L414.5 190.4 L414.9 189.3 L415.2 188.9 L415.6 190.8 L416 189.9 L416.4 190.6 L416.8 191.9 L417.2 191.9 L417.6 191.8 L418 191.7 L418.4 190.6 L418.7 189.1 L419.1 190.8 L419.5 188.5 L419.9 189.4 L420.3 190.1 L420.7 191.7 L421.1 192.7 L421.4 192.1 L421.8 194.2 L422.2 195.2 L422.6 195.4 L423 195.2 L423.4 197.3 L423.8 196.1 L424.2 194.3 L424.6 194.6 L424.9 196.6 L425.3 194.1 L425.7 194.3 L426.1 195.3 L426.5 195.1 L426.9 194.2 L427.3 194.2 L427.6 191.8 L428 191.7 L428.4 194 L428.8 193.2 L429.2 190.6 L429.6 190 L429.9 189.9 L430.3 191.3 L430.7 188.4 L431 189.1 L431.4 189.2 L431.8 187.7 L432.2 187.8 L432.5 185.2 L432.9 184.2 L433.3 184.3 L433.7 187 L434.1 185.6 L434.4 188.8 L434.8 188.5 L435.2 187.5 L435.6 189.9 L436 188.5 L436.4 189.1 L436.9 187.4 L437.3 188.9 L437.7 188.8 L438.1 189 L438.4 186.3 L438.8 189 L439.2 188.2 L439.5 189.2 L439.9 188.3 L440.3 188.8 L440.7 188.8 L441 189.6 L441.4 187.5 L441.8 187.3 L442.1 188.6 L442.5 187.7 L442.8 187.8 L443.2 186.5 L443.5 188.5 L443.9 186.2 L444.3 189.5 L444.6 190.4 L445 190.3 L445.4 190.2 L445.8 192.7 L446.1 192.3 L446.5 193.9 L446.9 193.9 L447.2 197.4 L447.6 197 L448 196.1 L448.3 195 L448.7 196.5 L449 196.5 L449.4 196.2 L449.7 193.6 L450.1 194 L450.5 193.3 L450.9 194.1 L451.3 191.7 L451.6 192.6 L452 193.1 L452.4 192 L452.8 189.2 L453.2 188.8 L453.6 189.8 L453.9 192.4 L454.3 192.9 L454.7 193.6 L455.1 194.2 L455.4 194.9 L455.8 196.4 L456.2 197.3 L456.6 198.5 L457 198.3 L457.3 198.9 L457.7 199.6 L458.1 199.8 L458.5 199.8 L458.9 198.1 L459.2 200.4 L459.6 201.3 L460 200.4 L460.4 201.3 L460.8 198.9 L461.1 200.8 L461.5 198.9 L461.9 199.3 L462.2 197.5 L462.6 197.3 L463 197 L463.4 196.5 L463.8 195.3 L464.1 195.8 L464.5 196.9 L464.9 195.5 L465.3 195.8 L465.7 194.8 L466 194.5 L466.4 194.5 L466.8 193.3 L467.2 191.9 L467.6 191.9 L467.9 192.5 L468.3 191.4 L468.7 192.1 L469.1 194.2 L469.4 194.4 L469.8 192.7 L470.2 193.8 L470.5 193.7 L470.9 193.8 L471.2 193.3 L471.6 192.4 L471.9 190.9 L472.3 192.9 L472.7 191.6 L473 192.8 L473.4 192.3 L473.8 193 L474.1 194.5 L474.5 192.4 L474.9 193.7 L475.3 194.3 L475.6 194.3 L476 195.7 L476.4 193.8 L476.7 194.9 L477.1 193.9 L477.5 194.3 L477.9 191.3 L478.2 191.3 L478.6 191.2 L479 192.7 L479.3 189.6 L479.7 190 L480.1 192 L480.4 193.6 L480.8 191.8 L481.1 193.3 L481.5 194.8 L481.8 195.5 L482.2 196.3 L482.6 198.6 L483 199.4 L483.4 201.7 L483.8 200.5 L484.1 202.1 L484.5 200.2 L484.8 199.9 L485.2 201.6 L485.5 200.2 L485.9 199.6 L486.3 199 L486.7 198.1 L487.1 197.6 L487.4 195.7 L487.8 194.2 L488.2 193.4 L488.6 192.5 L489 192.8 L489.4 191.6 L489.7 191 L490.1 191.6 L490.4 192.4 L490.8 191 L491.1 189.3 L491.5 190.2 L491.9 188.8 L492.2 188.9 L492.6 189.9 L492.9 190.6 L493.3 191.8 L493.6 191.4 L494 192.6 L494.4 191.7 L494.7 195.2 L495.1 194.4 L495.4 196.9 L495.8 195.5" fill="none" stroke="#ff0000" stroke-width="2.7" stroke-linejoin="round" stroke-linecap="round"/>
<path d="M224.5 157.8 L225 160.8 L225.5 163.3 L226 165 L226.5 166.5 L227.1 169.1 L227.8 172 L228.4 174.8 L228.9 176.5 L229.4 178.1 L229.9 178.5 L230.4 179.5 L230.9 179.1 L231.4 178.9 L231.9 178.7 L232.4 178.7 L232.9 180.4 L233.4 181.4 L233.9 182.1 L234.4 182.4 L234.9 182.3 L235.4 182.9 L236 184.2 L236.5 184.6 L237 186 L237.5 185.6 L238 183.9 L238.6 183.9 L239.1 182.7 L239.6 182.8 L240.2 182.8 L240.8 181.2 L241.4 181 L242 180.3 L242.6 181.4 L243.2 183.4 L243.7 184 L244.3 184.8 L244.8 183.6 L245.3 182 L245.9 179.9 L246.4 178.5 L246.9 177.4 L247.4 175.2 L248 176 L248.6 175.9 L249.1 176.7 L249.7 177.5 L250.2 179.7 L250.7 178.8 L251.2 180.8 L251.8 182.8 L252.3 184.5 L252.8 186.1 L253.4 185 L253.9 184.1 L254.5 182 L255 182.7 L255.6 182.2 L256.1 180 L256.7 180.8 L257.2 182.3 L257.8 182.8 L258.4 184.2 L258.9 184.5 L259.4 185 L260 187.1 L260.5 187.4 L261.1 186.8 L261.6 187.6 L262.1 187.4 L262.6 187 L263.2 187.5 L263.7 186.9 L264.2 187.7 L264.8 186.9 L265.3 187.7 L265.8 188.3 L266.3 187.9 L266.9 188 L267.4 188.4 L267.9 188 L268.4 186.7 L268.9 185.9 L269.4 186.7 L269.9 185.6 L270.4 184.6 L270.9 181.8 L271.4 182.6 L271.9 181.2 L272.4 181 L272.9 182.3 L273.5 183.7 L274 183.9 L274.5 184.7 L275 184.1 L275.6 186.5 L276.1 186.1 L276.6 186.4 L277.2 185.5 L277.7 185.7 L278.3 186.2 L278.8 185.7 L279.4 185.2 L279.9 184.7 L280.5 184.9 L281 184.9 L281.5 186.5 L282 187.4 L282.6 189.8 L283.1 190.8 L283.6 192.2 L284.1 192.1 L284.6 192 L285.1 191.7 L285.6 191.5 L286.2 191.3 L286.7 191.3 L287.2 192.4 L287.7 192.3 L288.2 194 L288.8 194.7 L289.3 194.9 L289.8 195.5 L290.3 195.6 L290.8 197.5 L291.3 196 L291.9 192.1 L292.4 191.7 L292.9 191.7 L293.4 191.9 L293.9 192.7 L294.5 191.5 L295 191.2 L295.5 189.5 L296 190.3 L296.6 187.1 L297.1 189.4 L297.6 189.1 L298.2 190.7 L298.7 188.8 L299.2 190 L299.7 191.5 L300.3 191.7 L300.8 191.6 L301.3 189.8 L301.8 189.6 L302.4 189 L302.9 187.2 L303.4 186.6 L303.9 185.2 L304.4 185.1 L305 184 L305.5 184.3 L306 186.2 L306.5 185.5 L307.1 185.9 L307.6 184.9 L308.1 186 L308.6 185.7 L309.1 186.2 L309.7 188.3 L310.2 189 L310.7 190.6 L311.2 190 L311.8 190.9 L312.3 190.1 L312.8 190.5 L313.3 191.2 L313.9 192.3 L314.4 192.6 L314.9 192.7 L315.4 192 L315.9 191.8 L316.5 190.3 L317 191.3 L317.5 190.6 L318 190.4 L318.5 189.8 L319 190.2 L319.6 189.4 L320.1 189.4 L320.6 189.3 L321.1 187.9 L321.6 189.3 L322.2 189.6 L322.7 189.7 L323.2 190.7 L323.8 189.6 L324.3 192.4 L324.9 192.6 L325.4 192 L325.9 191.6 L326.5 193.2 L327 193.6 L327.5 193.4 L328 195.1 L328.6 195.2 L329.1 195.9 L329.6 196.4 L330.1 195.7 L330.6 194.6 L331.1 196.1 L331.6 196.8 L332.1 197.2 L332.6 198.6 L333.1 198.1 L333.6 197.4 L334.1 197.1 L334.6 196 L335.2 195.9 L335.7 195.9 L336.2 195.1 L336.7 194.3 L337.3 194.1 L337.8 194 L338.3 193.9 L338.9 193.2 L339.4 194.2 L340 194.4 L340.5 196.3 L341.1 197 L341.6 197.5 L342.2 197.4 L342.7 198.2 L343.2 197.4 L343.7 198.1 L344.2 198.8 L344.7 198.5 L345.2 197.7 L345.7 196.7 L346.2 196.4 L346.7 192.8 L347.2 193.6 L347.7 191.9 L348.2 192.6 L348.8 191.1 L349.3 188.4 L349.8 190.2 L350.3 188.8 L350.9 188.4 L351.4 188.8 L351.9 189 L352.5 186.8 L353 188.5 L353.5 187.8 L354.1 186.8 L354.6 186.2 L355.2 185.4 L355.7 186.4 L356.2 185.4 L356.7 187.1 L357.2 187.4 L357.8 187.3 L358.3 188.6 L358.8 189.5 L359.3 190.3 L359.8 191.3 L360.4 192 L360.9 194 L361.4 194.5 L361.9 196.4 L362.4 196.7 L362.9 197.5 L363.4 194.7 L364 197.1 L364.5 197.7 L365 196.9 L365.5 197 L366 195.5 L366.5 193.5 L367 194.2 L367.5 192.3 L368 192.3 L368.5 193 L369 192.4 L369.5 193.6 L370 193.5 L370.6 192.5 L371.2 191.1 L371.8 189.8 L372.4 187.8 L372.9 189 L373.4 189.3 L373.9 189.1 L374.4 192.7 L374.9 193.9 L375.4 192.7 L375.9 191.7 L376.4 190.8 L377 189.3 L377.5 189.7 L378 189.5 L378.6 189.2 L379.1 188.4 L379.7 188.2 L380.2 186.9 L380.8 187.5 L381.3 188 L381.8 188.6 L382.3 188.1 L382.9 188.6 L383.4 187.7 L384 187.5 L384.7 187.2 L385.3 186.2 L385.8 184.2 L386.3 184.8 L386.9 186.6 L387.4 187.5 L387.9 188.4 L388.4 188.9 L388.9 187 L389.4 189.9 L389.9 189.2 L390.5 191.3 L391 192.4 L391.5 192.3 L392.1 193.7 L392.7 194 L393.3 195.6 L393.9 195.9 L394.4 196.5 L394.9 195.2 L395.4 196.3 L396 196.2 L396.5 195.7 L397 196.2 L397.5 195.7 L398.1 195 L398.6 194.2 L399.1 193.2 L399.6 193.3 L400.2 192 L400.7 191.8 L401.2 191.5 L401.8 190.6 L402.3 189.7 L402.9 188.8 L403.4 186.5 L404 186.6 L404.5 186.5 L405 185.8 L405.5 188 L406 190.1 L406.5 191.5 L407 193.6 L407.5 192.9 L408 192.3 L408.5 191.5 L409.1 189.4 L409.6 188.6 L410.1 187 L410.6 186.9 L411.1 188.2 L411.6 187.6 L412.1 186.8 L412.7 186.7 L413.2 186.3 L413.7 185.8 L414.2 185.7 L414.7 186.2 L415.2 187.2 L415.8 187.7 L416.3 189 L416.8 190.1 L417.3 189.9 L417.8 190.9 L418.4 189.2 L418.9 188.5 L419.4 187.9 L419.9 187.8 L420.4 188.8 L420.9 189.7 L421.4 190.6 L422 191.6 L422.5 193.8 L423 194.9 L423.5 194.8 L424 193.2 L424.6 191.1 L425.1 192.3 L425.6 192.6 L426.1 191.7 L426.6 192.5 L427.1 191.6 L427.6 191.3 L428.2 191 L428.7 190.2 L429.2 188.7 L429.7 186.9 L430.3 187.2 L430.8 187.3 L431.3 185.5 L431.8 184.1 L432.4 184 L432.9 184.3 L433.4 184.8 L433.9 184.9 L434.4 185.4 L435 185.6 L435.5 186 L436 187.1 L436.6 187.4 L437.1 187.2 L437.7 186.5 L438.2 186.6 L438.8 187.1 L439.3 186.1 L439.8 186.4 L440.3 187.2 L440.9 187.4 L441.4 187.5 L441.9 185.2 L442.4 186.5 L442.9 185.8 L443.4 187.4 L443.9 186.5 L444.4 187.6 L445 189.5 L445.5 190 L446 190.7 L446.5 192.5 L447.1 194 L447.6 193.7 L448.1 195.5 L448.6 194.7 L449.1 193.7 L449.6 193.6 L450.1 192.9 L450.6 191.9 L451.1 191.1 L451.6 190.1 L452.2 189.8 L452.7 189.6 L453.2 189.1 L453.7 189.7 L454.2 190.6 L454.7 193 L455.2 193.2 L455.7 192.9 L456.2 193.7 L456.7 194.8 L457.3 195.7 L457.8 194 L458.4 196.5 L458.9 197.5 L459.5 198.4 L460 197.7 L460.5 198.6 L461 199.8 L461.5 199.3 L462 197.7 L462.5 196.5 L463 195.2 L463.5 195.7 L464.1 195.2 L464.6 192.4 L465.2 193.3 L465.7 191.8 L466.3 191.3 L466.8 190.3 L467.3 191.8 L467.8 191.7 L468.3 190.7 L468.8 190.5 L469.3 190.7 L469.8 191.3 L470.3 192 L470.8 190.8 L471.3 188.6 L471.8 188.9 L472.3 187.9 L472.8 190.2 L473.4 191.8 L473.9 191.4 L474.4 190.9 L474.9 191.8 L475.5 191.9 L476 192.6 L476.5 191.3 L477.1 189.6 L477.6 190.7 L478.1 191.3 L478.6 190.7 L479.2 190.2 L479.7 188.6 L480.2 190.4 L480.7 191.3 L481.2 192.2 L481.7 193.5 L482.2 193.8 L482.8 196.6 L483.4 199.4 L483.9 199.1 L484.4 198.5 L484.9 198.2 L485.4 197.8 L485.9 197 L486.4 196.2 L486.9 193.3 L487.4 194 L488 192.6 L488.5 192.6 L489 191.8 L489.5 190.2 L490 189.3 L490.5 188.2 L491 187.1 L491.5 187.7 L492 188.6 L492.5 187.1 L493 189.2 L493.5 189.5 L494 190 L494.6 191.9 L495.2 192.8 L495.8 194.7 L495.8 198.2 L495.2 197.1 L494.6 195.4 L494 194.1 L493.5 194 L493 192.6 L492.5 191 L492 191.8 L491.5 192 L491 194.4 L490.5 191.9 L490 195 L489.5 194.2 L489 195.7 L488.5 196.3 L488 196.9 L487.4 197.1 L486.9 198.8 L486.4 199.4 L485.9 200.7 L485.4 201 L484.9 202.4 L484.4 202.5 L483.9 203.5 L483.4 202.2 L482.8 200.6 L482.2 198 L481.7 197.9 L481.2 196.2 L480.7 194.1 L480.2 195 L479.7 192.9 L479.2 193.9 L478.6 194 L478.1 195.1 L477.6 196.5 L477.1 197.5 L476.5 196.9 L476 196.2 L475.5 195.6 L474.9 196.2 L474.4 194.5 L473.9 194.6 L473.4 195.3 L472.8 194.4 L472.3 195 L471.8 193.1 L471.3 194.7 L470.8 195.2 L470.3 195.6 L469.8 194.9 L469.3 196.9 L468.8 194.5 L468.3 194.8 L467.8 195.1 L467.3 195.6 L466.8 194.5 L466.3 196.3 L465.7 196.3 L465.2 197.1 L464.6 197.9 L464.1 199 L463.5 199.7 L463 199.5 L462.5 200.6 L462 201.1 L461.5 202.1 L461 202.8 L460.5 204.7 L460 202.2 L459.5 202.4 L458.9 201.3 L458.4 200.8 L457.8 199 L457.3 199.9 L456.7 199.6 L456.2 197.3 L455.7 196.6 L455.2 197.4 L454.7 195.9 L454.2 194.2 L453.7 193.6 L453.2 192.2 L452.7 192.6 L452.2 194.3 L451.6 194.5 L451.1 195 L450.6 197.3 L450.1 198 L449.6 197.2 L449.1 197.4 L448.6 198.3 L448.1 198.6 L447.6 198.9 L447.1 198.8 L446.5 197.5 L446 195.2 L445.5 194.6 L445 192.9 L444.4 192.6 L443.9 190.5 L443.4 190.9 L442.9 190.1 L442.4 190.1 L441.9 190.3 L441.4 191 L440.9 191.5 L440.3 190.1 L439.8 190.4 L439.3 190.6 L438.8 190.7 L438.2 190.5 L437.7 189.8 L437.1 191.4 L436.6 190.7 L436 191.6 L435.5 190.1 L435 189.3 L434.4 189 L433.9 188.5 L433.4 189 L432.9 188 L432.4 187.2 L431.8 188 L431.3 190 L430.8 192.1 L430.3 192.4 L429.7 194.1 L429.2 193.2 L428.7 193.5 L428.2 195.6 L427.6 195.6 L427.1 195.5 L426.6 196.1 L426.1 196.2 L425.6 196.7 L425.1 196.8 L424.6 196.3 L424 197.2 L423.5 198.5 L423 199.2 L422.5 197 L422 195 L421.4 195.3 L420.9 195 L420.4 193 L419.9 191.1 L419.4 192.1 L418.9 192.7 L418.4 193.2 L417.8 193.6 L417.3 195.3 L416.8 193.9 L416.3 193.4 L415.8 191 L415.2 191.2 L414.7 189.9 L414.2 190.1 L413.7 190.3 L413.2 190.2 L412.7 192.1 L412.1 192.2 L411.6 190.7 L411.1 191.1 L410.6 191.4 L410.1 191.9 L409.6 191.5 L409.1 193.4 L408.5 195 L408 196.7 L407.5 198.6 L407 198.3 L406.5 195.2 L406 194.3 L405.5 191.9 L405 190.9 L404.5 190 L404 191 L403.4 192 L402.9 192.2 L402.3 194 L401.8 195 L401.2 195.2 L400.7 196.2 L400.2 197.9 L399.6 197.4 L399.1 196.7 L398.6 199.1 L398.1 197.9 L397.5 201.2 L397 199.1 L396.5 200.3 L396 199.7 L395.4 199.4 L394.9 199.6 L394.4 200.1 L393.9 199.8 L393.3 199.4 L392.7 198.1 L392.1 198.1 L391.5 196.2 L391 195.9 L390.5 196.2 L389.9 195.9 L389.4 193.6 L388.9 192.4 L388.4 192.9 L387.9 192.2 L387.4 192.3 L386.9 190 L386.3 190.2 L385.8 189.5 L385.3 189.9 L384.7 190.3 L384 191.1 L383.4 192.6 L382.9 191.8 L382.3 191 L381.8 191.9 L381.3 192.2 L380.8 192.1 L380.2 192.1 L379.7 191 L379.1 192.8 L378.6 192.5 L378 193.7 L377.5 193.4 L377 194 L376.4 194.5 L375.9 195.7 L375.4 196.1 L374.9 197 L374.4 196.1 L373.9 196.5 L373.4 195.2 L372.9 192.4 L372.4 191.3 L371.8 195.1 L371.2 195.3 L370.6 196.1 L370 196.9 L369.5 197.3 L369 196.3 L368.5 196.7 L368 196 L367.5 196.4 L367 199.8 L366.5 199.6 L366 199.3 L365.5 199.8 L365 200.6 L364.5 201.1 L364 199.9 L363.4 199.9 L362.9 201.2 L362.4 202.1 L361.9 200 L361.4 197.7 L360.9 197.4 L360.4 198.2 L359.8 195 L359.3 193.8 L358.8 193.3 L358.3 193.2 L357.8 191.7 L357.2 191.3 L356.7 190.5 L356.2 191.4 L355.7 190.2 L355.2 190.2 L354.6 190.6 L354.1 190.9 L353.5 191.1 L353 192.2 L352.5 192.8 L351.9 192.6 L351.4 192.1 L350.9 192.2 L350.3 193.1 L349.8 193.5 L349.3 194.4 L348.8 194.9 L348.2 196 L347.7 196.7 L347.2 196.7 L346.7 198.5 L346.2 199.6 L345.7 200.9 L345.2 203.5 L344.7 201.6 L344.2 202.6 L343.7 201.8 L343.2 201.4 L342.7 202.1 L342.2 201.5 L341.6 201.2 L341.1 200.1 L340.5 199.2 L340 198.1 L339.4 197.7 L338.9 198.2 L338.3 198.4 L337.8 198 L337.3 197.7 L336.7 197.8 L336.2 199.1 L335.7 201.1 L335.2 199.3 L334.6 200.1 L334.1 201.4 L333.6 200.8 L333.1 201.6 L332.6 202.6 L332.1 202.9 L331.6 200.4 L331.1 200.1 L330.6 199.7 L330.1 200.5 L329.6 200.1 L329.1 200.2 L328.6 201.6 L328 198.5 L327.5 197.4 L327 197 L326.5 197.1 L325.9 196.8 L325.4 195.6 L324.9 196.2 L324.3 197 L323.8 195.2 L323.2 193.9 L322.7 193.7 L322.2 193.5 L321.6 193.6 L321.1 192.7 L320.6 192.9 L320.1 193 L319.6 193.4 L319 193.5 L318.5 193.3 L318 194.8 L317.5 194.4 L317 194.8 L316.5 194.8 L315.9 195.4 L315.4 196.4 L314.9 196.5 L314.4 196 L313.9 195.7 L313.3 194.8 L312.8 194.4 L312.3 194.2 L311.8 194.8 L311.2 194.9 L310.7 194.2 L310.2 193.4 L309.7 193.2 L309.1 190.8 L308.6 190 L308.1 188.8 L307.6 190.9 L307.1 189.5 L306.5 189.3 L306 189.7 L305.5 189.1 L305 189.7 L304.4 188.8 L303.9 188.4 L303.4 190.5 L302.9 190.3 L302.4 192.2 L301.8 193.3 L301.3 194.5 L300.8 195.7 L300.3 195.9 L299.7 195.3 L299.2 193.9 L298.7 194 L298.2 195.1 L297.6 193 L297.1 193.3 L296.6 192 L296 193.4 L295.5 193.7 L295 195.1 L294.5 195.7 L293.9 195.7 L293.4 196.3 L292.9 195.2 L292.4 196.3 L291.9 197.2 L291.3 199.8 L290.8 200.9 L290.3 201.9 L289.8 200.7 L289.3 199.6 L288.8 197.6 L288.2 198.5 L287.7 196.8 L287.2 195.9 L286.7 195.3 L286.2 196.2 L285.6 195.6 L285.1 196.1 L284.6 196.1 L284.1 196.6 L283.6 195.7 L283.1 195.3 L282.6 193 L282 191.4 L281.5 189.8 L281 188.8 L280.5 189.6 L279.9 188.4 L279.4 190.9 L278.8 189.9 L278.3 189.8 L277.7 189.2 L277.2 188.9 L276.6 189.3 L276.1 190.6 L275.6 189.7 L275 191 L274.5 188.8 L274 187.4 L273.5 186.6 L272.9 186.1 L272.4 185.6 L271.9 185.6 L271.4 186.6 L270.9 186.6 L270.4 188.2 L269.9 188.8 L269.4 189.5 L268.9 190.1 L268.4 191.2 L267.9 191 L267.4 192.8 L266.9 192.3 L266.3 192.5 L265.8 191.6 L265.3 192.5 L264.8 191.2 L264.2 193.3 L263.7 192.7 L263.2 191 L262.6 191.1 L262.1 191.3 L261.6 191.2 L261.1 192.3 L260.5 190.4 L260 191.1 L259.4 189.3 L258.9 189 L258.4 189 L257.8 186.8 L257.2 187 L256.7 184.6 L256.1 185.4 L255.6 187 L255 187.8 L254.5 187.3 L253.9 189.1 L253.4 188.9 L252.8 190.3 L252.3 188.2 L251.8 186.6 L251.2 185.1 L250.7 183.7 L250.2 183.4 L249.7 181.7 L249.1 181.1 L248.6 180.1 L248 179.7 L247.4 179.1 L246.9 180.9 L246.4 182.6 L245.9 183.3 L245.3 185.9 L244.8 186.6 L244.3 189.7 L243.7 187.8 L243.2 187.8 L242.6 184.9 L242 184.1 L241.4 185.4 L240.8 185.9 L240.2 186 L239.6 187.2 L239.1 186.9 L238.6 187.8 L238 187.7 L237.5 190.1 L237 189.5 L236.5 188.9 L236 188 L235.4 187.8 L234.9 186 L234.4 186.7 L233.9 185.6 L233.4 185.9 L232.9 184.6 L232.4 182.8 L231.9 183 L231.4 182.6 L230.9 183.1 L230.4 183.1 L229.9 184.3 L229.4 182 L228.9 180.4 L228.4 179 L227.8 175.7 L227.1 173.2 L226.5 171 L226 168.4 L225.5 167.5 L225 163.5 L224.5 161.8Z" fill="#ff0000"/>
<path d="M210.8 5 L211.2 7.9 L211.5 10.7 L211.9 13.6 L212.2 16.5 L212.6 19.4 L212.9 22.2 L213.3 25.1 L213.7 28 L214 30.8 L214.4 33.7 L214.7 36.6 L215.1 39.5 L215.4 42.3 L215.8 45.2 L216.2 48.1 L216.5 50.9 L216.9 53.8 L217.2 56.7 L217.6 59.6 L217.9 62.4 L218.3 65.3 L218.7 68.7 L219.1 72.2 L219.4 75.6 L219.8 79.1 L220.2 82.5 L220.6 85.9 L220.9 89.4 L221.3 92.8 L221.7 96.2 L222.1 99.7 L222.4 103.1 L222.8 106.6 L223.2 110 L223.6 113 L224 116 L224.4 119.1 L224.8 122.1 L225.2 125.1 L225.6 127.9 L226 130.6 L226.3 133.4 L226.7 136.1 L227.1 138.9 L227.5 142.4 L228 146 L228.4 149.5 L228.8 151.6 L229.2 153.7 L229.6 155.8 L230 157.9 L230.4 160 L230.8 163.1 L231.3 166.1 L231.7 169.2" fill="none" stroke="#0000ff" stroke-width="1.8" stroke-linejoin="round" stroke-linecap="round"/>
<path d="M231.7 170.4 L232.1 170.8 L232.5 171.6 L232.9 174.2 L233.3 174.8 L233.7 177.9 L234.1 177.4 L234.5 179 L234.9 180.9 L235.3 183.6 L235.7 182.7 L236.1 183.8 L236.5 184.7 L236.9 186 L237.3 187.4 L237.7 188.6 L238.1 190.5 L238.5 190.2 L238.8 191.2 L239.2 191.8 L239.6 193.7 L240 194.4 L240.4 193.3 L240.8 195.2 L241.2 193.5 L241.6 196 L242 195 L242.4 196.4 L242.8 196.4 L243.1 197.1 L243.5 197.6 L243.9 199.6 L244.3 197.8 L244.7 198.5 L245.1 197.6 L245.5 197.5 L245.9 196.3 L246.3 197 L246.7 198.2 L247.1 200 L247.4 200.4 L247.8 199.5 L248.2 202.4 L248.6 202.3 L249 202 L249.4 202.2 L249.8 201.7 L250.1 203.1 L250.5 201.9 L250.9 200.8 L251.2 200.2 L251.6 200 L252 199.5 L252.4 199.8 L252.7 201.2 L253.1 201.3 L253.4 201.1 L253.8 201.7 L254.1 201.1 L254.5 199.5 L254.8 199.4 L255.2 199.8 L255.5 200.2 L255.9 201.1 L256.3 203.1 L256.7 203.6 L257.1 204.3 L257.4 204.9 L257.8 208.3 L258.2 208.8 L258.6 206.9 L259 205.5 L259.4 207.7 L259.8 204.9 L260.1 206.1 L260.5 203.3 L260.9 204.3 L261.3 202.9 L261.7 204.7 L262 203.2 L262.4 202.8 L262.7 203.3 L263.1 205.4 L263.5 206.1 L263.8 205.3 L264.2 205.7 L264.5 204.7 L264.9 204.9 L265.3 205.2 L265.7 208.8 L266 206.8 L266.4 209.4 L266.8 209.4 L267.2 209.8 L267.6 211.4 L267.9 213.8 L268.3 212.6 L268.7 213.2 L269.1 213.1 L269.5 211.6 L269.9 209.6 L270.2 207.1 L270.6 207.6 L271 203.8 L271.4 202.5 L271.8 201.1 L272.2 203.1 L272.6 204.1 L273 205.5 L273.4 207.1 L273.8 208.7 L274.2 208.6 L274.6 206.8 L274.9 208.7 L275.3 205.7 L275.7 206.1 L276 205 L276.4 205.9 L276.8 205.9 L277.1 203.5 L277.5 203.4 L277.9 204.6 L278.2 203.6 L278.6 201.3 L279 202.9 L279.3 203.1 L279.7 201.8 L280.1 200.9 L280.5 202.3 L280.8 201.2 L281.2 200.5 L281.6 200.5 L281.9 201 L282.3 200.1 L282.7 200.6 L283 200.8 L283.4 200.6 L283.7 199.9 L284.1 200.8 L284.5 198.4 L284.8 198.9 L285.2 200.4 L285.5 200 L285.9 199.9 L286.2 199.2 L286.6 198.2 L287 199.7 L287.3 199.8 L287.7 199.2 L288.1 200.4 L288.5 200.6 L288.8 203.7 L289.2 202.8 L289.6 203.8 L289.9 205 L290.3 204.4 L290.7 205.5 L291 205.1 L291.4 204.3 L291.7 203.9 L292.1 201.5 L292.4 200.3 L292.8 201.4 L293.2 201.6 L293.6 201.1 L294 201.5 L294.4 201.4 L294.7 203.9 L295.1 203.3 L295.5 204.8 L295.9 203.8 L296.3 204.3 L296.6 205.3 L297 206.5 L297.4 207.4 L297.8 206.4 L298.1 207.9 L298.5 207.5 L298.9 209.4 L299.2 209.6 L299.6 209.5 L300 209.6 L300.3 210 L300.7 212.6 L301 213 L301.4 212.2 L301.7 212.3 L302.1 213.3 L302.5 215.5 L302.8 212.7 L303.2 214.9 L303.6 214 L304 214.1 L304.3 214 L304.7 213.5 L305.1 213.9 L305.4 212.4 L305.8 214.9 L306.2 212.1 L306.5 211.9 L306.9 213.2 L307.3 212.8 L307.6 213 L308 212.3 L308.4 212.7 L308.8 209.8 L309.1 209.3 L309.5 209.7 L309.9 210.8 L310.2 208.4 L310.6 208.9 L311 209.1 L311.4 206.7 L311.7 207.3 L312.1 207.9 L312.5 206.8 L312.8 205.2 L313.2 204.9 L313.6 204.8 L313.9 207.4 L314.2 207.3 L314.6 207.5 L314.9 206.8 L315.3 208.6 L315.6 208.4 L316 209.8 L316.4 209 L316.7 211 L317.1 210.9 L317.4 210.7 L317.8 211.5 L318.1 212.7 L318.5 211.7 L318.8 212.8 L319.2 209.7 L319.6 212.2 L319.9 211.5 L320.3 210.6 L320.7 211.5 L321.1 209.2 L321.4 209.6 L321.8 210.5 L322.2 210.7 L322.5 209.1 L322.9 210.8 L323.3 209.6 L323.6 207.7 L324 207.8 L324.3 207.5 L324.7 208.8 L325 208 L325.4 207.6 L325.8 208.1 L326.1 206.8 L326.5 209.2 L326.8 208.8 L327.2 207.8 L327.5 207.4 L327.9 206.8 L328.3 207.8 L328.6 207.1 L329 209 L329.4 209 L329.8 208.4 L330.1 208.7 L330.5 206.5 L330.9 206.8 L331.2 207.5 L331.6 206.9 L332 207.7 L332.3 209.3 L332.7 208.8 L333.1 209.1 L333.5 206.9 L333.8 206.8 L334.2 206.2 L334.6 206.8 L334.9 206.1 L335.3 207.5 L335.7 207.2 L336 208.7 L336.4 208.8 L336.7 209.3 L337.1 208.8 L337.4 210.5 L337.8 210.8 L338.2 211.2 L338.5 210.9 L338.9 211.3 L339.2 211.2 L339.6 210.8 L339.9 212.5 L340.3 213.3 L340.7 211.5 L341.1 213 L341.4 212.6 L341.8 212 L342.2 211.3 L342.6 209.8 L342.9 208.4 L343.3 208.1 L343.7 209 L344.1 209.2 L344.4 206.1 L344.8 205.2 L345.2 205.8 L345.6 205.6 L345.9 206.2 L346.3 204.6 L346.6 206.7 L347 205 L347.3 206.6 L347.7 204.7 L348.1 204.5 L348.4 204 L348.8 206.2 L349.1 205 L349.5 205.5 L349.8 203.1 L350.2 204.4 L350.6 205.4 L350.9 206.5 L351.3 206.7 L351.7 204.6 L352 205.8 L352.4 208 L352.8 207 L353.2 208.6 L353.5 206.9 L353.9 206.6 L354.2 209.5 L354.6 207.6 L354.9 208.7 L355.3 208.3 L355.6 209.1 L356 210.4 L356.4 210.6 L356.7 210.6 L357.1 208.9 L357.4 210.7 L357.8 208.5 L358.1 209.9 L358.4 211.7 L358.8 209.8 L359.2 210.1 L359.5 210.8 L359.9 209.8 L360.2 211.3 L360.6 211.2 L360.9 209.5 L361.3 212.1 L361.7 209.6 L362 211.5 L362.4 210.5 L362.7 209.9 L363.1 209.7 L363.4 212.6 L363.8 212 L364.2 210.3 L364.5 210.6 L364.9 210.5 L365.3 209.7 L365.6 207.8 L366 206.3 L366.4 206.4 L366.8 207.1 L367.1 205.7 L367.5 204.8 L367.9 205.6 L368.2 204.5 L368.6 205.2 L369 206.3 L369.4 204.6 L369.7 206.9 L370.1 204.6 L370.5 206.4 L370.8 206.8 L371.2 205.7 L371.6 207.7 L372 205.8 L372.4 204.7 L372.8 205 L373.1 205.1 L373.5 204.3 L373.9 202.6 L374.3 202.5 L374.7 204.9 L375 203.7 L375.4 204.6 L375.8 206.9 L376.1 207.6 L376.5 208.2 L376.9 206.6 L377.3 206.7 L377.6 209.5 L378 209.6 L378.4 209.8 L378.9 209.7 L379.3 211.9 L379.7 212.2 L380.1 213.1 L380.4 214.2 L380.8 211.8 L381.2 211.2 L381.5 213 L381.9 211.1 L382.3 211.3 L382.7 211.9 L383 213.4 L383.4 211.3 L383.8 211.5 L384.1 212.2 L384.5 211.5 L384.9 212.5 L385.2 213.6 L385.6 212.7 L386 214.4 L386.4 212.8 L386.7 212.8 L387.1 214.6 L387.5 213.4 L387.8 214.1 L388.2 210.9 L388.5 212.1 L388.9 211.2 L389.2 209.6 L389.6 208.2 L390 208.9 L390.4 208.5 L390.8 206.9 L391.1 206.1 L391.5 206 L391.9 205 L392.3 203.6 L392.7 202.2 L393.1 203.1 L393.4 203.6 L393.8 204.8 L394.1 205.2 L394.5 204.1 L394.9 203.5 L395.2 203.4 L395.6 204.8 L395.9 205.2 L396.3 203.9 L396.6 205.4 L397 206.5 L397.4 205.4 L397.7 207.7 L398.1 206.8 L398.5 208.2 L398.9 209.5 L399.2 208.2 L399.6 209.3 L400 211.9 L400.3 209.8 L400.7 211.2 L401.1 211.4 L401.5 211.9 L401.8 211.3 L402.2 211.8 L402.6 210.8 L403 208.4 L403.4 208.3 L403.7 207.9 L404.1 208.8 L404.5 207.3 L404.9 208.5 L405.2 208.5 L405.6 206.9 L406 208.5 L406.4 206.9 L406.7 208.2 L407.1 206.1 L407.5 206.6 L407.8 206 L408.2 204.9 L408.6 206.7 L408.9 204.6 L409.3 205.6 L409.6 206.1 L410 208 L410.4 207.2 L410.7 206 L411.1 207.1 L411.4 208.3 L411.8 209.1 L412.1 207.3 L412.5 209.5 L412.9 208.1 L413.2 208.2 L413.6 207.5 L414 207.3 L414.4 208.6 L414.7 208.1 L415.1 207.8 L415.5 206.9 L415.8 206.5 L416.2 204.5 L416.6 204 L417 206.3 L417.4 205.6 L417.8 205.3 L418.1 204.2 L418.5 203.9 L418.9 205.7 L419.3 204.4 L419.7 202.6 L420.1 203.4 L420.5 203.2 L420.9 202.1 L421.2 204.6 L421.6 204.2 L422 203.7 L422.4 201 L422.8 202.6 L423.2 202.1 L423.6 204.3 L423.9 205 L424.3 205.3 L424.7 205.7 L425.1 204.1 L425.5 204.1 L425.9 204.1 L426.2 206.1 L426.6 205.8 L427 204.6 L427.4 203.6 L427.7 205.2 L428.1 202.7 L428.5 203.1 L428.8 201.9 L429.2 204.5 L429.6 203.3 L429.9 204.9 L430.3 205.5 L430.7 205.3 L431 207 L431.4 206.9 L431.8 207.8 L432.2 208.4 L432.5 206.3 L432.9 208.8 L433.3 206.8 L433.7 206.7 L434.1 206.4 L434.4 208 L434.8 204.8 L435.2 205.6 L435.6 204.3 L436 206.5 L436.4 204.8 L436.7 205.1 L437.1 204.4 L437.5 205.8 L437.9 205.2 L438.3 206.1 L438.6 207.8 L439 208.3 L439.4 209.6 L439.8 208.5 L440.2 210.8 L440.6 210.7 L441 210.5 L441.4 210.2 L441.8 211 L442.1 209.7 L442.5 210 L442.9 210.9 L443.3 210.6 L443.7 209.7 L444.1 211.1 L444.5 210.5 L444.9 209.5 L445.2 207.7 L445.6 208.6 L446 208.3 L446.4 207.1 L446.8 206.3 L447.1 207.7 L447.5 207.5 L447.9 207.5 L448.2 207.5 L448.6 210.1 L449 209.8 L449.4 211 L449.7 209.1 L450.1 209.8 L450.5 211 L450.8 210.2 L451.2 211.4 L451.6 212.6 L452 212.9 L452.3 214.7 L452.7 214.2 L453.1 214.8 L453.4 215.2 L453.8 216.3 L454.2 214.7 L454.6 213.3 L455 215.9 L455.4 215 L455.8 212.7 L456.2 212.3 L456.6 211.9 L457 212.4 L457.4 210.1 L457.8 209 L458.1 209.7 L458.5 207.4 L458.9 207.4 L459.3 207 L459.7 207.1 L460 207 L460.4 208.3 L460.8 208.8 L461.1 209.6 L461.5 210.4 L461.9 210.8 L462.3 211.3 L462.6 210.9 L463 213.9 L463.4 213 L463.8 211.7 L464.2 209.6 L464.6 209.6 L464.9 211 L465.3 209.1 L465.7 207.7 L466.1 209 L466.5 208.8 L466.8 206.1 L467.2 206.9 L467.6 206.7 L468 205 L468.3 205.2 L468.7 205.8 L469.1 205.6 L469.4 205.1 L469.8 204.7 L470.2 204.2 L470.6 203.5 L470.9 203.6 L471.3 206.3 L471.7 206.6 L472.1 207 L472.5 204.7 L472.8 207 L473.2 205.5 L473.6 206.2 L474 205.6 L474.3 207.3 L474.7 206.9 L475.1 206.7 L475.5 205.1 L475.8 206.6 L476.2 204.3 L476.6 205 L476.9 205.1 L477.3 203.5 L477.7 203.7 L478 202.6 L478.4 204.4 L478.8 202.4 L479.1 202 L479.5 202.1 L479.9 203 L480.3 202.7 L480.6 202.1 L481 202.9 L481.4 203.3 L481.8 202.4 L482.2 204.1 L482.6 203.7 L483 204.6 L483.4 205 L483.8 204.1 L484.2 204.2 L484.5 205 L484.9 203.6 L485.3 201.2 L485.7 200.8 L486.1 201.2 L486.4 200.3 L486.8 198 L487.2 197.5 L487.6 199.2 L487.9 199.6 L488.3 198.4 L488.7 200.8 L489 199.5 L489.4 200.8 L489.8 201 L490.2 200.7 L490.5 202.8 L490.9 201.5 L491.3 201.4 L491.7 201.5 L492.1 202.2 L492.5 202.5 L492.9 201.6 L493.3 200.7 L493.7 202.1 L494 202.8 L494.4 204.6 L494.7 205.5 L495.1 205.7 L495.4 205 L495.8 206.9" fill="none" stroke="#0000ff" stroke-width="2.7" stroke-linejoin="round" stroke-linecap="round"/>
<path d="M231.7 168.5 L232.2 169.7 L232.7 171.4 L233.2 173.1 L233.7 173.3 L234.2 176.2 L234.7 177.4 L235.2 179.6 L235.7 181.5 L236.2 182.6 L236.7 183.4 L237.2 185.7 L237.7 187.2 L238.3 188.6 L239 188.8 L239.6 189 L240.2 190.4 L240.8 191.6 L241.4 192.2 L242 192.7 L242.5 194.3 L243 195.2 L243.5 196.7 L244.1 197.2 L244.7 196.7 L245.3 196.2 L245.9 195.5 L246.4 196.8 L246.9 197.2 L247.4 198 L248 196.9 L248.5 200.7 L249 201.7 L249.5 199.8 L250 200.5 L250.5 199.5 L251 197.3 L251.5 197 L252 198.9 L252.6 198.6 L253.1 197.6 L253.7 197.8 L254.2 199.2 L254.8 199.4 L255.3 198.7 L255.9 199.1 L256.5 199.6 L257.1 203.3 L257.6 203.6 L258.2 206.4 L258.7 205.6 L259.2 203.4 L259.8 203.8 L260.3 201.5 L260.8 200.9 L261.3 201.3 L261.8 202.4 L262.3 202.8 L262.8 202.4 L263.4 202.7 L263.9 203.4 L264.4 203 L264.9 203.6 L265.4 204.5 L266 205.9 L266.5 207 L267.1 209 L267.6 210.8 L268.2 211.3 L268.7 213.6 L269.2 209.6 L269.7 208 L270.2 205.6 L270.8 204.9 L271.3 202.1 L271.8 200.6 L272.4 201.1 L273 202.6 L273.6 205.2 L274.2 206.2 L274.8 205.4 L275.3 205.5 L275.9 204.8 L276.4 204 L276.9 202.1 L277.5 201.8 L278.1 200.4 L278.6 200 L279.1 200.7 L279.7 200.7 L280.2 200.6 L280.7 200.9 L281.2 200 L281.8 197.7 L282.3 199.5 L282.8 198 L283.4 198.3 L283.9 198 L284.5 197.4 L285 198.4 L285.5 197.9 L286.1 197.5 L286.6 196.3 L287.1 196 L287.7 197.8 L288.2 199.6 L288.7 200 L289.2 198.9 L289.8 202.8 L290.3 203.6 L290.8 203.3 L291.3 201.3 L291.8 200.7 L292.3 199.5 L292.8 198.1 L293.3 198.6 L293.8 199.7 L294.4 199.9 L294.9 202.2 L295.4 202 L295.9 202 L296.4 203.2 L297 204.6 L297.5 203.7 L298 206 L298.5 205.7 L299.1 207.4 L299.6 206.9 L300.1 208 L300.6 208 L301.1 209.5 L301.6 211.6 L302.1 213.6 L302.6 212.8 L303.2 212.2 L303.7 211.5 L304.2 211.8 L304.7 211.4 L305.3 211.5 L305.8 211.2 L306.3 211.4 L306.9 211.4 L307.4 211.8 L307.9 211.2 L308.4 210.1 L309 209.9 L309.5 208.2 L310 208 L310.6 207.2 L311.1 207.5 L311.6 206.8 L312.1 205.7 L312.7 203.6 L313.2 202.4 L313.7 203.2 L314.3 204.2 L314.8 205.5 L315.4 207.2 L315.9 206.8 L316.5 208.2 L317 208.4 L317.6 207.4 L318.1 209.7 L318.6 209.5 L319.2 208.9 L319.7 209.5 L320.2 209.6 L320.8 208.8 L321.3 208.1 L321.8 206.5 L322.4 208.1 L322.9 208 L323.4 208.2 L323.9 207.6 L324.4 208.1 L324.9 206.3 L325.4 207 L325.9 206.1 L326.4 204.4 L326.9 204.3 L327.4 205.2 L327.9 204.2 L328.4 204 L329 205.3 L329.5 205.9 L330 205.3 L330.5 205.9 L331.1 205.3 L331.6 207 L332.1 207 L332.7 206.3 L333.2 204.7 L333.7 204.7 L334.2 205.8 L334.8 205.9 L335.3 204.3 L335.8 204.8 L336.3 205.7 L336.8 207.4 L337.3 206.1 L337.8 208.2 L338.3 207.6 L338.8 208.1 L339.3 209.3 L339.8 209.9 L340.3 211.4 L340.8 211.5 L341.4 209.8 L341.9 208.6 L342.5 209.1 L343 208.2 L343.6 206.7 L344.1 205.3 L344.7 205.7 L345.2 204.2 L345.7 204.9 L346.2 204 L346.7 204.6 L347.2 202.9 L347.7 202.8 L348.2 202.3 L348.7 203.8 L349.2 203.4 L349.7 202.2 L350.2 202.3 L350.7 204 L351.3 203.2 L351.8 203.6 L352.3 204.3 L352.8 204.9 L353.4 204.3 L353.9 203.9 L354.4 204.8 L355 206.5 L355.5 206 L356.1 207.9 L356.6 206.9 L357.2 207 L357.7 207.4 L358.3 208.4 L358.8 208.6 L359.3 209.4 L359.8 207.9 L360.3 209.7 L360.8 210.6 L361.3 209.3 L361.8 209.2 L362.3 208.4 L362.8 209.5 L363.3 209.4 L363.8 209.1 L364.3 208.2 L364.9 207 L365.4 205.8 L365.9 205.9 L366.4 204.4 L367 202.1 L367.5 200.7 L368 202.5 L368.6 203.4 L369.1 202.7 L369.6 203.7 L370.1 204.4 L370.7 204.5 L371.2 204.9 L371.7 204.1 L372.2 204 L372.8 203.3 L373.3 203.8 L373.8 202.8 L374.3 202.1 L374.8 201.9 L375.4 202.8 L375.9 203.1 L376.4 204.2 L376.9 206 L377.5 206.2 L378 206.9 L378.6 208.5 L379.1 209.8 L379.7 209.6 L380.2 209.2 L380.8 210.3 L381.3 210.7 L381.8 210.3 L382.3 210.2 L382.9 208.8 L383.4 209.5 L383.9 209.3 L384.5 209.7 L385 210.3 L385.5 210.3 L386 211.2 L386.6 211.8 L387.1 212.6 L387.6 212.5 L388.1 210.7 L388.6 209.4 L389.1 206.1 L389.6 206 L390.1 205.5 L390.6 204.7 L391.1 203.8 L391.7 202.9 L392.2 201 L392.7 200 L393.2 201 L393.8 201.6 L394.3 202.5 L394.9 202.1 L395.4 202.1 L395.9 202.1 L396.5 201.9 L397 202.3 L397.5 202.3 L398.1 203.2 L398.6 205.6 L399.1 207.2 L399.6 208.3 L400.2 209.3 L400.7 210.9 L401.2 210.3 L401.8 208.9 L402.3 209.7 L402.9 208 L403.4 204.9 L404 206.2 L404.5 206 L405 206.4 L405.6 205.7 L406.1 206 L406.6 203.9 L407.1 205.5 L407.7 204.5 L408.2 204.6 L408.7 206.2 L409.3 205.2 L409.8 204.4 L410.4 204 L410.9 205.3 L411.4 205.3 L412 205.8 L412.5 206.2 L413 205.4 L413.6 205.1 L414.1 205.6 L414.6 204.5 L415.1 205.1 L415.7 204.2 L416.2 204 L416.7 203 L417.2 203.5 L417.8 203.7 L418.3 202.8 L418.8 202.9 L419.3 201.7 L419.8 202.2 L420.3 202.3 L420.9 203 L421.4 200.9 L421.9 201.2 L422.4 201.2 L422.9 200.7 L423.4 201.3 L423.9 201.9 L424.5 202.2 L425 202.4 L425.5 204.5 L426 203.8 L426.6 203.4 L427.1 202.9 L427.6 201.5 L428.1 201.5 L428.7 201.1 L429.2 200.4 L429.7 199.6 L430.3 202.5 L430.8 203.2 L431.3 203.6 L431.8 203.1 L432.4 205.4 L432.9 207 L433.4 206.6 L433.9 204.3 L434.4 204.3 L435 203.7 L435.5 203.5 L436 202.8 L436.6 202 L437.1 200.9 L437.6 202.2 L438.1 204.3 L438.6 205.3 L439.2 206.1 L439.7 206.3 L440.2 206.9 L440.7 207.6 L441.2 208 L441.8 209 L442.3 209.1 L442.8 210.3 L443.3 207.9 L443.8 206.3 L444.3 206.9 L444.9 206.3 L445.4 206.2 L445.9 206 L446.4 204.4 L446.9 203.8 L447.5 205.5 L448 206 L448.5 207.5 L449 208.1 L449.6 206.7 L450.1 210 L450.6 209.8 L451.2 209.6 L451.7 209.9 L452.2 211.9 L452.7 213.2 L453.3 214 L453.8 213.9 L454.4 213.7 L455 212.6 L455.6 212 L456.2 211.1 L456.7 210.7 L457.2 210.4 L457.8 208.6 L458.3 206.2 L458.8 207.5 L459.3 205.6 L459.8 207.3 L460.4 207.2 L460.9 205 L461.4 208.3 L461.9 208.3 L462.5 207.6 L463 210.8 L463.5 210.7 L464 209.7 L464.6 208.7 L465.1 208.4 L465.6 206.8 L466.1 205.7 L466.6 204.9 L467.2 204 L467.7 204.2 L468.2 202.7 L468.7 202.7 L469.3 202.8 L469.8 203.2 L470.3 203.9 L470.9 204.4 L471.4 204.1 L472 203.5 L472.5 203 L473.1 203.1 L473.6 203 L474.1 203.7 L474.7 204.4 L475.2 203.4 L475.7 202.2 L476.2 201.7 L476.8 202.4 L477.3 201.6 L477.8 201.3 L478.4 201.5 L478.9 199.7 L479.4 201.1 L479.9 200.6 L480.5 200.5 L481 199.3 L481.6 200.8 L482.2 203.1 L482.8 203.9 L483.4 203.9 L483.9 202.9 L484.5 202.1 L485 201.5 L485.6 199.8 L486.1 198.3 L486.7 197.9 L487.2 196.8 L487.7 196.8 L488.3 197.5 L488.8 196.2 L489.3 198.8 L489.8 198.2 L490.4 197.9 L490.9 199.9 L491.5 200.4 L492.1 198.8 L492.7 198.7 L493.3 197.8 L493.8 198.6 L494.3 201 L494.8 200.8 L495.3 203.5 L495.8 204.4 L495.8 208.9 L495.3 209.6 L494.8 206.4 L494.3 204.8 L493.8 203.2 L493.3 202 L492.7 202.3 L492.1 203.2 L491.5 204 L490.9 203.8 L490.4 202.2 L489.8 203.7 L489.3 202.9 L488.8 203.1 L488.3 201.9 L487.7 202 L487.2 200.9 L486.7 200.8 L486.1 202.5 L485.6 202.9 L485 205.6 L484.5 206.6 L483.9 206.8 L483.4 208.3 L482.8 208.3 L482.2 207.2 L481.6 205.6 L481 203.4 L480.5 204.7 L479.9 205.5 L479.4 204.6 L478.9 204.4 L478.4 205 L477.8 205.3 L477.3 205.2 L476.8 205.9 L476.2 207.4 L475.7 206.8 L475.2 209.4 L474.7 207.8 L474.1 206.9 L473.6 207.5 L473.1 207.8 L472.5 207.7 L472 207.5 L471.4 209.6 L470.9 208.1 L470.3 207.3 L469.8 206.5 L469.3 206.4 L468.7 206.4 L468.2 207.3 L467.7 207.9 L467.2 209.2 L466.6 211.1 L466.1 209.2 L465.6 210.2 L465.1 212.1 L464.6 212.6 L464 213.7 L463.5 215 L463 215.5 L462.5 213.8 L461.9 211.9 L461.4 212.2 L460.9 210.9 L460.4 211.2 L459.8 211.3 L459.3 210.4 L458.8 210.7 L458.3 212 L457.8 213 L457.2 213.8 L456.7 214.1 L456.2 215.8 L455.6 216 L455 217.5 L454.4 218.4 L453.8 217.7 L453.3 217.6 L452.7 217 L452.2 215.3 L451.7 216 L451.2 213.8 L450.6 213.6 L450.1 213.2 L449.6 212.6 L449 210.9 L448.5 212.2 L448 210.5 L447.5 210.1 L446.9 208.7 L446.4 208.1 L445.9 210.4 L445.4 211.8 L444.9 210.2 L444.3 210.3 L443.8 211.2 L443.3 213.9 L442.8 214 L442.3 213.9 L441.8 213.4 L441.2 212.4 L440.7 212.2 L440.2 211.1 L439.7 212.2 L439.2 210.4 L438.6 209.4 L438.1 209.8 L437.6 205.7 L437.1 205.5 L436.6 205.6 L436 206.1 L435.5 208.4 L435 207.2 L434.4 208.7 L433.9 208 L433.4 210.1 L432.9 211 L432.4 209.5 L431.8 208.1 L431.3 207.8 L430.8 207.5 L430.3 205.9 L429.7 207.1 L429.2 203.8 L428.7 204.2 L428.1 205.3 L427.6 206.7 L427.1 206.8 L426.6 207.6 L426 208.3 L425.5 208.1 L425 206.1 L424.5 205.2 L423.9 206 L423.4 206.4 L422.9 205.3 L422.4 204.3 L421.9 204.6 L421.4 205.5 L420.9 206.2 L420.3 205.9 L419.8 206.2 L419.3 206 L418.8 206.6 L418.3 207.7 L417.8 207 L417.2 209.5 L416.7 206.8 L416.2 207.3 L415.7 207.4 L415.1 208.4 L414.6 208.6 L414.1 209.6 L413.6 208.7 L413 210.8 L412.5 209.4 L412 209.3 L411.4 209.1 L410.9 208.7 L410.4 208.1 L409.8 208.9 L409.3 209.6 L408.7 209.7 L408.2 208.1 L407.7 208 L407.1 209.2 L406.6 209.3 L406.1 209.1 L405.6 209.1 L405 211.9 L404.5 210.4 L404 209.5 L403.4 210.7 L402.9 211.9 L402.3 213.6 L401.8 213.4 L401.2 213.7 L400.7 214.7 L400.2 213.3 L399.6 212.7 L399.1 210.4 L398.6 209 L398.1 207.9 L397.5 206.8 L397 207.8 L396.5 206.2 L395.9 206.4 L395.4 206.4 L394.9 206.6 L394.3 206.1 L393.8 205.7 L393.2 206.6 L392.7 204.7 L392.2 207.3 L391.7 206.1 L391.1 208 L390.6 208.2 L390.1 209.4 L389.6 210.2 L389.1 211.7 L388.6 213.4 L388.1 216.1 L387.6 218.2 L387.1 215.9 L386.6 216.3 L386 215.5 L385.5 215.1 L385 213.8 L384.5 213.7 L383.9 213.1 L383.4 214.8 L382.9 215.8 L382.3 214.8 L381.8 214.2 L381.3 213.9 L380.8 214.5 L380.2 213.4 L379.7 213.1 L379.1 213.2 L378.6 212.8 L378 211 L377.5 209.7 L376.9 209.6 L376.4 210 L375.9 207.8 L375.4 206.1 L374.8 206.2 L374.3 205.2 L373.8 205.9 L373.3 207.2 L372.8 208.2 L372.2 207.4 L371.7 207.5 L371.2 208.5 L370.7 208.8 L370.1 208.1 L369.6 207 L369.1 207.2 L368.6 206.5 L368 206.6 L367.5 206.1 L367 207 L366.4 208.2 L365.9 208.6 L365.4 209.7 L364.9 210.3 L364.3 211.7 L363.8 212.8 L363.3 213.2 L362.8 214.6 L362.3 212.3 L361.8 212.9 L361.3 213.8 L360.8 213.6 L360.3 214.9 L359.8 212.5 L359.3 213.2 L358.8 212.3 L358.3 212.9 L357.7 211.9 L357.2 212.7 L356.6 210.8 L356.1 211.4 L355.5 210 L355 210 L354.4 208.4 L353.9 208.6 L353.4 208.9 L352.8 208 L352.3 207.4 L351.8 207.8 L351.3 208.3 L350.7 207.3 L350.2 206.5 L349.7 208.3 L349.2 207.6 L348.7 207.8 L348.2 207 L347.7 206.6 L347.2 206.3 L346.7 207.6 L346.2 207.9 L345.7 207.7 L345.2 208.7 L344.7 209.1 L344.1 209.7 L343.6 211.2 L343 211.2 L342.5 212.3 L341.9 213.1 L341.4 214.5 L340.8 215.9 L340.3 215.3 L339.8 214.6 L339.3 212.8 L338.8 211.7 L338.3 213.6 L337.8 212.7 L337.3 213.9 L336.8 211.1 L336.3 208.6 L335.8 208.8 L335.3 208.7 L334.8 209.1 L334.2 209.6 L333.7 210.5 L333.2 210.3 L332.7 211.5 L332.1 212 L331.6 211.6 L331.1 210.6 L330.5 208.5 L330 209.1 L329.5 209.7 L329 209.2 L328.4 208.7 L327.9 209.7 L327.4 208.5 L326.9 207.7 L326.4 208.4 L325.9 211.2 L325.4 210.5 L324.9 210.3 L324.4 211.3 L323.9 212.2 L323.4 212.2 L322.9 211.3 L322.4 211.9 L321.8 211.6 L321.3 211.9 L320.8 213.2 L320.2 213.3 L319.7 214.5 L319.2 212.6 L318.6 212.3 L318.1 213.6 L317.6 213.2 L317 212 L316.5 214.1 L315.9 210.7 L315.4 210.9 L314.8 208.2 L314.3 208 L313.7 209.2 L313.2 207.8 L312.7 208 L312.1 209.5 L311.6 210.4 L311.1 211.4 L310.6 210.2 L310 212.5 L309.5 212.8 L309 213.6 L308.4 213.8 L307.9 215 L307.4 215.9 L306.9 215.8 L306.3 214.5 L305.8 215.8 L305.3 215.4 L304.7 215.5 L304.2 216.6 L303.7 215.3 L303.2 216.4 L302.6 216.3 L302.1 217.8 L301.6 215.2 L301.1 214.4 L300.6 212.2 L300.1 212.4 L299.6 213 L299.1 210.2 L298.5 209.3 L298 210.7 L297.5 207.5 L297 208.6 L296.4 207.1 L295.9 206 L295.4 205.7 L294.9 205.2 L294.4 205.5 L293.8 204.2 L293.3 202.4 L292.8 201.4 L292.3 202.9 L291.8 204.8 L291.3 205.8 L290.8 207.8 L290.3 207.1 L289.8 206.2 L289.2 204.7 L288.7 204.1 L288.2 203.3 L287.7 201.7 L287.1 200.6 L286.6 199.6 L286.1 201.1 L285.5 202.6 L285 202.1 L284.5 201.5 L283.9 201.9 L283.4 201.9 L282.8 202.7 L282.3 203.6 L281.8 203.7 L281.2 204.5 L280.7 204.7 L280.2 205.1 L279.7 206 L279.1 203.6 L278.6 204.8 L278.1 204 L277.5 207.2 L276.9 206.1 L276.4 209.6 L275.9 208.5 L275.3 209.7 L274.8 211.5 L274.2 210.5 L273.6 208.2 L273 207 L272.4 205.3 L271.8 203.7 L271.3 207 L270.8 210 L270.2 208.7 L269.7 211.8 L269.2 213 L268.7 217 L268.2 215.8 L267.6 213.8 L267.1 212.7 L266.5 211.6 L266 211.3 L265.4 207.6 L264.9 207.5 L264.4 207.8 L263.9 206.2 L263.4 206.8 L262.8 205.8 L262.3 206.5 L261.8 205.8 L261.3 205.2 L260.8 205.5 L260.3 205.4 L259.8 208.1 L259.2 209.2 L258.7 209.6 L258.2 210.2 L257.6 207.6 L257.1 206.2 L256.5 203.5 L255.9 203.5 L255.3 202.8 L254.8 203.2 L254.2 203.2 L253.7 202.3 L253.1 202.2 L252.6 202.2 L252 201.8 L251.5 202.3 L251 203.6 L250.5 203.9 L250 205.1 L249.5 205.3 L249 205.2 L248.5 204.6 L248 202.4 L247.4 201.9 L246.9 201.1 L246.4 201.7 L245.9 198.8 L245.3 199.6 L244.7 200.1 L244.1 200.4 L243.5 200.3 L243 198.6 L242.5 198.1 L242 197.8 L241.4 196.9 L240.8 196.2 L240.2 193.9 L239.6 194.4 L239 193.3 L238.3 192.1 L237.7 191.3 L237.2 189.2 L236.7 187.3 L236.2 186.2 L235.7 186 L235.2 183.6 L234.7 181.6 L234.2 180 L233.7 179.2 L233.2 177.2 L232.7 174.6 L232.2 173.3 L231.7 171.8Z" fill="#0000ff"/>
<text x="353.4" y="283.7" class="xl" text-anchor="middle" textLength="54.6" lengthAdjust="spacingAndGlyphs">Iterations</text>
<text transform="translate(183 125.7) rotate(-90)" class="xl" text-anchor="middle" textLength="61.5" lengthAdjust="spacingAndGlyphs">MSD(dB)</text>
<text x="343.2" y="313.5" class="p" text-anchor="middle">(a)</text>
<rect x="416.1" y="12.2" width="73.2" height="51.3" class="lg" stroke="#7a7a7a"/>
<line x1="418.9" y1="21.9" x2="445.2" y2="21.9" stroke="#00ff00" stroke-width="2"/>
<text transform="translate(446.5 27.7) skewX(-6)" class="tau">τ</text>
<text transform="translate(453.1 26.7) scale(0.87 1)" class="l">=0.001</text>
<line x1="418.9" y1="37.9" x2="445.2" y2="37.9" stroke="#ff0000" stroke-width="2"/>
<text transform="translate(446.5 43.7) skewX(-6)" class="tau">τ</text>
<text transform="translate(453.1 42.7) scale(0.87 1)" class="l">=0.01</text>
<line x1="418.9" y1="53.8" x2="445.2" y2="53.8" stroke="#0000ff" stroke-width="2"/>
<text transform="translate(446.5 59.6) skewX(-6)" class="tau">τ</text>
<text transform="translate(453.1 58.6) scale(0.87 1)" class="l">=0.1</text>
<line x1="95.1" y1="331.3" x2="95.1" y2="573.2" class="g"/>
<line x1="152.1" y1="331.3" x2="152.1" y2="573.2" class="g"/>
<line x1="209.2" y1="331.3" x2="209.2" y2="573.2" class="g"/>
<line x1="266.2" y1="331.3" x2="266.2" y2="573.2" class="g"/>
<line x1="38.1" y1="411.9" x2="323.2" y2="411.9" class="g"/>
<line x1="38.1" y1="492.6" x2="323.2" y2="492.6" class="g"/>
<line x1="37.6" y1="331.5" x2="323.7" y2="331.5" stroke="#888888"/>
<line x1="37.6" y1="573.7" x2="323.7" y2="573.7" stroke="#707070"/>
<line x1="38" y1="330.8" x2="38" y2="573.7" stroke="#808080"/>
<line x1="323" y1="330.8" x2="323" y2="573.7" stroke="#999999"/>
<text transform="translate(38.1 591.9) scale(0.91 1)" class="n" text-anchor="middle">0</text>
<line x1="95.1" y1="573.2" x2="95.1" y2="569.7" class="t"/>
<line x1="95.1" y1="331.3" x2="95.1" y2="334.8" class="t"/>
<text transform="translate(95.1 591.9) scale(0.91 1)" class="n" text-anchor="middle">2000</text>
<line x1="152.1" y1="573.2" x2="152.1" y2="569.7" class="t"/>
<line x1="152.1" y1="331.3" x2="152.1" y2="334.8" class="t"/>
<text transform="translate(152.1 591.9) scale(0.91 1)" class="n" text-anchor="middle">4000</text>
<line x1="209.2" y1="573.2" x2="209.2" y2="569.7" class="t"/>
<line x1="209.2" y1="331.3" x2="209.2" y2="334.8" class="t"/>
<text transform="translate(209.2 591.9) scale(0.91 1)" class="n" text-anchor="middle">6000</text>
<line x1="266.2" y1="573.2" x2="266.2" y2="569.7" class="t"/>
<line x1="266.2" y1="331.3" x2="266.2" y2="334.8" class="t"/>
<text transform="translate(266.2 591.9) scale(0.91 1)" class="n" text-anchor="middle">8000</text>
<text transform="translate(323.2 591.9) scale(0.91 1)" class="n" text-anchor="middle">10000</text>
<text transform="translate(33.4 335.4) scale(0.91 1)" class="n" text-anchor="end">0</text>
<line x1="38.1" y1="411.9" x2="41.6" y2="411.9" class="t"/>
<line x1="323.2" y1="411.9" x2="319.7" y2="411.9" class="t"/>
<text transform="translate(33.4 416) scale(0.91 1)" class="n" text-anchor="end">-5</text>
<line x1="38.1" y1="492.6" x2="41.6" y2="492.6" class="t"/>
<line x1="323.2" y1="492.6" x2="319.7" y2="492.6" class="t"/>
<text transform="translate(33.4 496.7) scale(0.91 1)" class="n" text-anchor="end">-10</text>
<text transform="translate(33.4 577.3) scale(0.91 1)" class="n" text-anchor="end">-15</text>
<path d="M38.4 331.5 L38.8 338.4 L39.1 345.2 L39.4 352.1 L39.8 358.9 L40.1 365.8 L40.5 372.6 L40.9 379.4 L41.2 386.3 L41.5 393.1 L41.9 400 L42.2 405.1 L42.6 410.2 L43 415.3 L43.3 420.4 L43.6 425.6 L44 430.7 L44.4 435.8 L44.7 440.9 L45 446 L45.4 451.1 L45.8 456.2 L46.1 461.3 L46.5 466.4 L46.8 471.6 L47.2 476.7 L47.5 481.8 L47.9 486.9 L48.2 492 L48.8 496.2 L49.2 500.3 L49.6 504.4 L50 508.5" fill="none" stroke="#00ff00" stroke-width="1.8" stroke-linejoin="round" stroke-linecap="round"/>
<path d="M50 508.1 L50.4 510.6 L50.8 512.1 L51.1 512.7 L51.5 515.8 L51.9 515.7 L52.3 516.5 L52.6 518 L53 517.1 L53.3 520 L53.7 519.1 L54.1 519.8 L54.5 516.6 L54.8 515.5 L55.2 516 L55.6 513.9 L56 514.9 L56.4 514.6 L56.8 516.6 L57.2 517.1 L57.6 517.3 L58 516.1 L58.4 516.2 L58.7 518.1 L59.1 517 L59.4 519.2 L59.8 519.1 L60.1 520.6 L60.5 520.6 L60.9 520.6 L61.3 521.6 L61.6 521.1 L62 521 L62.4 520.8 L62.8 522.9 L63.2 523 L63.6 523.1 L64 522.9 L64.4 523 L64.8 524.6 L65.2 523.3 L65.5 522.9 L65.9 525.7 L66.2 525.5 L66.6 526.3 L66.9 526.9 L67.3 525.6 L67.7 524.9 L68 526.1 L68.4 526.3 L68.7 526.1 L69.1 527.5 L69.4 526.1 L69.8 528.4 L70.2 525.9 L70.5 525.9 L70.9 527.3 L71.2 525.2 L71.6 526.5 L72 523.1 L72.4 521.6 L72.8 519.8 L73.2 517.1 L73.6 518.7 L73.9 518.8 L74.3 518.5 L74.6 516 L75 515.4 L75.3 516.5 L75.7 517.2 L76 516.4 L76.4 517.4 L76.7 517.3 L77.1 516.1 L77.5 516.1 L77.9 517.6 L78.2 517.8 L78.6 519.9 L79 522.2 L79.4 522 L79.8 521.9 L80.2 523.3 L80.6 524.7 L81 524.2 L81.3 522.9 L81.7 524.1 L82.1 523.8 L82.5 525.8 L82.9 525 L83.3 525.5 L83.7 527.2 L84 525.8 L84.4 526.7 L84.8 528.6 L85.2 525.9 L85.5 525.9 L85.9 525.5 L86.2 523.9 L86.6 524.1 L86.9 522.8 L87.3 523.3 L87.6 521.8 L88 521.6 L88.3 520.4 L88.7 520.1 L89.1 519.7 L89.5 519.6 L89.9 520.8 L90.2 521.3 L90.6 520.9 L91 523.8 L91.4 523.6 L91.8 524 L92.2 523.9 L92.6 521.1 L93 520.4 L93.3 521.3 L93.7 518.4 L94.1 520 L94.5 518.1 L94.9 518.6 L95.3 519.1 L95.7 518.6 L96.1 519.3 L96.5 520.5 L96.8 522.3 L97.2 522.3 L97.6 523.9 L98 525.6 L98.4 525.8 L98.7 526.1 L99.1 527.7 L99.4 528 L99.8 529.2 L100.1 529.7 L100.5 532.2 L100.9 531.3 L101.3 529 L101.7 528 L102.1 525.6 L102.5 525.9 L102.9 526 L103.3 523.7 L103.7 525 L104.1 523.3 L104.5 524.4 L104.8 522.9 L105.2 523.6 L105.6 523.9 L106 521.4 L106.4 523.9 L106.7 523.1 L107.1 522.3 L107.4 522.6 L107.8 523.5 L108.1 524.1 L108.5 522.5 L108.9 520.8 L109.2 519.8 L109.6 519.6 L110 517.4 L110.3 517 L110.7 515.5 L111.1 515.8 L111.5 517.8 L112 517.8 L112.4 520.6 L112.8 522 L113.2 520.9 L113.6 522.2 L114 520.7 L114.3 523.3 L114.7 522.1 L115.1 523.3 L115.5 522.6 L115.9 521.3 L116.3 523.8 L116.7 524.3 L117 524.4 L117.4 526.3 L117.8 527.3 L118.2 528 L118.6 527.4 L118.9 530.6 L119.3 531.3 L119.7 530.7 L120.1 532 L120.5 531.9 L120.9 529.8 L121.3 529.1 L121.7 529 L122.1 529.6 L122.5 527.8 L122.8 527.4 L123.2 528.2 L123.5 525.4 L123.9 526.4 L124.2 525.1 L124.6 525.3 L125 523.7 L125.4 524 L125.8 522.9 L126.2 522 L126.5 524.2 L126.9 522.4 L127.3 521.9 L127.7 523.5 L128.1 522.3 L128.4 523.4 L128.8 522.7 L129.1 524 L129.5 526 L129.8 526.3 L130.2 526.9 L130.6 525.4 L131 521.7 L131.4 519.5 L131.8 518 L132.1 517.9 L132.5 515.8 L132.9 513.6 L133.3 512.9 L133.7 513.2 L134 516.1 L134.4 517.3 L134.7 518.2 L135.1 521.8 L135.5 519.6 L135.9 521 L136.3 520.4 L136.6 519 L137 518.5 L137.4 517.3 L137.8 516.7 L138.2 517.9 L138.6 517.3 L138.9 518.2 L139.3 517.9 L139.6 518 L140 518 L140.3 520.1 L140.7 519.5 L141.1 518.7 L141.5 521 L141.9 518.9 L142.2 519.2 L142.6 519.1 L143 520.4 L143.4 521.1 L143.8 519 L144.2 523 L144.5 523.7 L144.9 525.5 L145.2 525.6 L145.6 527 L146 524.9 L146.4 524.2 L146.7 525 L147.1 522.1 L147.5 522.8 L147.9 521.7 L148.2 521 L148.6 517.7 L149 517.6 L149.3 517.9 L149.7 515.4 L150.1 517 L150.5 518.1 L150.9 521.4 L151.2 523.2 L151.6 524 L152 525.9 L152.4 528.8 L152.8 527.1 L153.1 528.5 L153.5 528.4 L153.8 526.7 L154.2 525.5 L154.5 526.5 L154.9 525.3 L155.3 524 L155.6 525.1 L156 524 L156.3 522.4 L156.7 521.6 L157 522.4 L157.4 522.3 L157.8 521 L158.2 522.2 L158.7 521.5 L159.1 522.7 L159.5 524.1 L159.9 524.4 L160.3 526.4 L160.6 527.3 L161 526.9 L161.4 528.2 L161.8 530.2 L162.2 530.4 L162.6 531 L162.9 530.6 L163.3 530 L163.6 530.2 L164 528.8 L164.3 528.6 L164.7 526 L165.1 527.1 L165.5 526 L165.9 523.7 L166.3 523.2 L166.7 521.1 L167.1 519.5 L167.5 519.8 L167.9 521.8 L168.3 523.6 L168.6 524.9 L169 526.3 L169.4 526.3 L169.8 528.6 L170.2 528 L170.6 525.6 L171 525.6 L171.4 524.6 L171.8 524 L172.1 521 L172.5 519.1 L172.9 519.9 L173.3 517 L173.7 519.7 L174 519.5 L174.4 518.9 L174.7 520.8 L175.1 522.2 L175.4 521.3 L175.8 524.2 L176.2 520.9 L176.5 520.5 L176.9 521.2 L177.2 520.9 L177.6 520 L177.9 520.4 L178.3 517.6 L178.7 517.4 L179 519.1 L179.4 518.8 L179.8 519.2 L180.2 519.4 L180.5 521.1 L180.9 519.6 L181.3 521.1 L181.6 521 L182 520.4 L182.4 522.8 L182.8 521.3 L183.2 522 L183.6 522.2 L183.9 524.3 L184.3 524.8 L184.7 524.4 L185.1 524.2 L185.5 526.1 L185.9 525.9 L186.3 527.1 L186.6 527.9 L187 526.5 L187.4 527.2 L187.8 530 L188.2 530.7 L188.6 526.9 L189 525.9 L189.4 525.1 L189.8 524.9 L190.2 521.9 L190.6 522.4 L191 519.2 L191.3 521.2 L191.7 518.1 L192 519.2 L192.4 519.8 L192.7 518.5 L193.1 518.5 L193.5 517.5 L193.8 519.9 L194.2 520.4 L194.6 519.1 L194.9 521.2 L195.3 522.3 L195.7 520.8 L196.1 521.9 L196.4 523.7 L196.8 523.7 L197.2 524 L197.5 521.7 L197.9 520.9 L198.2 519.3 L198.6 518.8 L198.9 519.8 L199.3 517.2 L199.7 518.2 L200.1 517 L200.5 515.5 L200.8 513.8 L201.2 512 L201.6 511.4 L202 512.7 L202.4 513.9 L202.7 514.8 L203.1 513.6 L203.4 516.4 L203.8 515.8 L204.2 516.4 L204.5 518.9 L204.9 519.5 L205.3 520 L205.6 519.8 L206 520.3 L206.4 521.5 L206.8 522.7 L207.1 523.5 L207.5 525.6 L207.9 525.9 L208.2 526.6 L208.6 529.5 L209 527.2 L209.4 525.4 L209.8 524.6 L210.1 525.5 L210.5 523.1 L210.9 523.9 L211.3 521.6 L211.7 522.1 L212.1 521.7 L212.5 520.6 L212.9 518.8 L213.2 519.8 L213.6 519.4 L214 518 L214.4 517.5 L214.8 516.8 L215.2 514.9 L215.6 515.3 L215.9 514.8 L216.3 515.8 L216.7 513.8 L217.1 513.9 L217.5 514.1 L217.8 514 L218.2 514.9 L218.6 512.5 L218.9 511.1 L219.3 511.8 L219.7 512.8 L220.1 510 L220.4 510.9 L220.8 510.7 L221.2 512.1 L221.5 511.3 L221.9 512.9 L222.2 514.6 L222.6 515.4 L222.9 514.9 L223.3 514.9 L223.7 515.3 L224 515 L224.4 514.4 L224.7 513.8 L225.1 512.4 L225.4 512.9 L225.8 511.3 L226.2 511.2 L226.6 511.1 L227 512.8 L227.4 511.9 L227.8 512.5 L228.2 512.9 L228.6 514.6 L228.9 516.2 L229.3 519.4 L229.6 519.6 L230 521.1 L230.3 522.2 L230.7 524.1 L231.1 524.4 L231.5 523 L231.9 522.4 L232.2 521.4 L232.6 520.4 L233 519.9 L233.4 519 L233.8 519.1 L234.2 518.6 L234.5 520 L234.9 520.7 L235.2 519.6 L235.6 521.8 L235.9 521.1 L236.3 521.9 L236.7 520 L237.1 519.7 L237.5 518 L237.9 515 L238.3 515 L238.7 512.8 L239.1 513.8 L239.4 512.2 L239.8 511.3 L240.1 510.3 L240.5 512.7 L240.8 509.7 L241.2 509.7 L241.6 511 L242 507.7 L242.4 508 L242.7 507.4 L243.1 507.4 L243.5 507 L243.9 506.9 L244.3 505.7 L244.7 505.7 L245.1 506.8 L245.4 506.9 L245.8 508.4 L246.2 510.2 L246.6 511.2 L247 509.1 L247.4 509.8 L247.8 511.9 L248.1 511.2 L248.5 510.9 L248.9 510.2 L249.3 510.4 L249.7 511.1 L250.1 512.4 L250.5 511 L250.9 512.5 L251.3 513.7 L251.7 511.4 L252.1 510.6 L252.6 509.3 L253 508.2 L253.4 510 L253.8 511.1 L254.2 511.8 L254.6 512.8 L255 515 L255.4 515.9 L255.8 518.3 L256.1 518.2 L256.5 519.4 L256.8 520.7 L257.2 521.2 L257.5 522.3 L257.9 523.9 L258.3 523.8 L258.7 525.2 L259.1 523.3 L259.4 524 L259.8 525.6 L260.2 525.2 L260.6 524.6 L261 524 L261.4 522.7 L261.7 522.4 L262.1 521.5 L262.4 520.5 L262.8 519 L263.1 518.7 L263.5 518 L263.9 517.8 L264.2 520.8 L264.6 522.2 L264.9 521.8 L265.3 523.2 L265.7 523 L266.1 524.7 L266.5 525.7 L266.9 525.3 L267.2 526.2 L267.6 526.6 L268 525.3 L268.4 525.8 L268.8 526.6 L269.1 527.3 L269.5 526.1 L269.8 524.8 L270.2 523.7 L270.5 522.8 L270.9 523.8 L271.3 524.4 L271.6 523.5 L272 522.8 L272.4 523.5 L272.7 525 L273.1 525.4 L273.5 525.1 L273.9 527.3 L274.3 526.6 L274.6 526.3 L275 527.6 L275.4 530.4 L275.8 530.6 L276.2 529.6 L276.6 529 L276.9 528.2 L277.3 527.3 L277.6 524.8 L278 526.4 L278.3 524 L278.7 522.1 L279.1 520.5 L279.4 521.1 L279.8 521.3 L280.2 519.7 L280.5 519.2 L280.9 518.3 L281.2 518.7 L281.6 517.9 L281.9 519.7 L282.3 521.6 L282.6 522.1 L283 522.6 L283.4 523.3 L283.7 527 L284.1 527.6 L284.4 527.8 L284.8 529.5 L285.2 529.2 L285.5 525.5 L285.9 525.5 L286.2 522.8 L286.6 523.3 L286.9 521.5 L287.3 520.4 L287.7 519.5 L288 520.7 L288.4 520.9 L288.7 521.8 L289.1 524.4 L289.4 525.2 L289.8 526.1 L290.2 525.3 L290.5 523.5 L290.9 523.5 L291.2 523.7 L291.6 521.7 L291.9 522.7 L292.3 521.8 L292.7 520.8 L293.1 521.5 L293.5 523 L293.9 522 L294.3 522.8 L294.7 523.1 L295.1 522.6 L295.4 524.7 L295.8 524.7 L296.1 523.9 L296.5 522.7 L296.8 523.2 L297.2 522.8 L297.6 522.9 L297.9 524 L298.3 523.7 L298.6 525 L299 526.2 L299.3 527.1 L299.7 528.9 L300.1 527.6 L300.5 527.6 L300.9 529.5 L301.2 529.2 L301.6 529.7 L302 529.2 L302.4 527.5 L302.8 528.4 L303.2 528.2 L303.5 527 L303.9 524.1 L304.2 523.7 L304.6 522.9 L304.9 520 L305.3 519.5 L305.7 520.6 L306.1 520 L306.5 518.9 L306.9 518.8 L307.3 518.3 L307.7 517.3 L308.1 516.8 L308.4 519.1 L308.8 519.4 L309.1 518.7 L309.5 520 L309.8 520.4 L310.2 520.3 L310.6 521.7 L310.9 523.2 L311.3 521.5 L311.6 525.3 L312 524.8 L312.3 526.9 L312.7 527.8 L313.1 525.3 L313.4 526.1 L313.8 524 L314.1 525.3 L314.5 523.5 L314.8 523 L315.2 522.1 L315.6 523.1 L315.9 522 L316.3 520.3 L316.6 521 L317 518.8 L317.4 521.5 L317.7 521.8 L318.1 523.2 L318.4 523.6 L318.8 525.6 L319.1 525.6 L319.5 525.8 L319.9 527 L320.2 527.7 L320.6 527.6 L320.9 528.5 L321.3 530.7 L321.6 531.6 L322 532.8 L322.4 531 L322.8 529.4 L323.2 528.1" fill="none" stroke="#00ff00" stroke-width="2.7" stroke-linejoin="round" stroke-linecap="round"/>
<path d="M50 506.6 L50.6 508.7 L51.3 512 L51.9 513.6 L52.5 515.7 L53.1 516.8 L53.7 518.8 L54.3 516.4 L55 514.7 L55.6 512.3 L56.2 512.7 L56.8 514.7 L57.4 515.6 L58 515.2 L58.5 516.4 L59 515 L59.5 515 L60 516.6 L60.5 517.1 L61.1 519 L61.8 518.6 L62.4 519.2 L63 518.6 L63.6 519.7 L64.2 521.5 L64.8 521.4 L65.3 521.8 L65.8 522.4 L66.3 522.8 L66.8 523.8 L67.3 524.9 L67.8 523.2 L68.3 524.8 L68.8 524.1 L69.3 524.8 L69.8 524.2 L70.4 522.8 L71 524 L71.6 521.7 L72.1 520.8 L72.7 518.9 L73.2 516.9 L73.8 516 L74.3 515.4 L74.9 514.8 L75.4 515.1 L76 514.4 L76.5 513.6 L77.1 512.9 L77.7 515.1 L78.2 517.8 L78.8 519.9 L79.4 521 L79.9 520.5 L80.4 520.9 L81 522.6 L81.5 521 L82 522 L82.5 523.4 L83.1 524.1 L83.7 525.2 L84.2 526 L84.8 525.4 L85.4 524.9 L85.9 523.8 L86.5 522 L87 520.5 L87.6 518.9 L88.1 518.7 L88.7 518.4 L89.2 519.4 L89.7 519.6 L90.2 520.3 L90.8 520.8 L91.3 521.3 L91.8 522.2 L92.3 521.3 L92.8 519.9 L93.3 518.5 L93.9 516.8 L94.4 515.4 L94.9 515.8 L95.4 516.4 L95.9 516.9 L96.5 518.4 L97 520.1 L97.5 520.4 L98 522 L98.5 523.9 L99 525.3 L99.5 525.5 L100 527.1 L100.5 528.1 L101.1 527.4 L101.7 525.6 L102.3 525.1 L102.9 521.6 L103.4 520.5 L103.9 521.4 L104.5 520.8 L105 521.9 L105.5 521.3 L106 521.2 L106.5 520.9 L107 520.2 L107.5 521.3 L108 521.5 L108.5 521.3 L109 519.6 L109.6 516.8 L110.2 514.8 L110.7 512.6 L111.2 515.1 L111.8 516.6 L112.3 518.1 L112.8 520.3 L113.3 520.8 L113.8 520.6 L114.3 520.7 L114.9 521.2 L115.4 521.6 L115.9 520.6 L116.4 521.9 L117 523.1 L117.5 523.1 L118.1 524 L118.6 526.5 L119.2 527.3 L119.7 529.2 L120.3 528.4 L120.9 527.5 L121.5 528.1 L122.1 528.1 L122.6 527.2 L123.1 525.8 L123.6 525 L124.1 523.9 L124.6 523.4 L125.1 522.1 L125.6 520.6 L126.2 520.1 L126.7 520.2 L127.2 521.3 L127.7 520.1 L128.3 520.6 L128.9 520.9 L129.6 522.6 L130.2 523.9 L130.7 522.4 L131.2 519.5 L131.8 517.4 L132.3 515 L132.8 512.1 L133.3 510.7 L133.9 512.3 L134.5 515.3 L135.1 518.7 L135.6 516.6 L136.1 518.1 L136.6 518 L137.2 517.1 L137.7 516.2 L138.2 516 L138.7 516.1 L139.2 516.2 L139.7 515.7 L140.2 516.9 L140.7 517.8 L141.2 518.4 L141.7 518.2 L142.2 518.5 L142.8 518.2 L143.3 519 L143.8 518.9 L144.4 520.8 L145 523 L145.6 525.8 L146.2 523.9 L146.9 521.4 L147.5 519.3 L148.1 518.7 L148.6 517.4 L149.1 515.6 L149.7 514 L150.2 515.8 L150.8 519.8 L151.3 521.6 L151.9 524.3 L152.4 527 L152.9 525.8 L153.4 524.2 L153.9 525.9 L154.4 524.4 L154.9 523.3 L155.4 522.8 L155.9 521.8 L156.4 520.9 L156.9 520.8 L157.4 519.8 L158 518.7 L158.5 521.8 L159.1 521.7 L159.6 523.6 L160.1 524 L160.6 526.4 L161.2 527.2 L161.7 528.5 L162.2 530.4 L162.7 529.4 L163.2 527.8 L163.7 527.4 L164.2 524.5 L164.7 525.1 L165.3 522.8 L165.9 520.8 L166.5 519.7 L167.1 517.8 L167.6 519.8 L168.1 521 L168.6 521.5 L169.2 523.5 L169.7 524.7 L170.2 525.9 L170.7 523.9 L171.2 522.2 L171.8 521.4 L172.3 520.1 L172.8 517.7 L173.3 516.7 L173.8 516.8 L174.3 517.9 L174.8 519.3 L175.3 520 L175.8 520.5 L176.3 520.9 L176.8 520.9 L177.3 518.9 L177.8 518.5 L178.3 516.6 L178.8 517.2 L179.4 516.3 L179.9 515.9 L180.4 517.2 L180.9 518.5 L181.5 518.1 L182 517.9 L182.5 519.4 L183 520.7 L183.6 521.4 L184.1 523 L184.6 523.7 L185.1 523.8 L185.6 524.7 L186.1 525.2 L186.6 526.7 L187.2 525.5 L187.7 526.7 L188.2 527.6 L188.8 524.3 L189.4 522.4 L190 520.5 L190.6 519 L191.1 518.8 L191.6 518.1 L192.1 517.1 L192.6 516.3 L193.1 515.4 L193.6 516.9 L194.2 518.1 L194.7 518.5 L195.2 518.3 L195.7 519.7 L196.3 520.8 L196.8 522 L197.3 520.7 L197.8 517 L198.3 518.1 L198.8 516.3 L199.3 516.1 L199.8 515 L200.4 512.9 L200.9 510.8 L201.5 512.1 L202 510.3 L202.6 511.7 L203.2 512.8 L203.7 512.2 L204.3 515.2 L204.9 516.2 L205.4 517.7 L206 519.1 L206.5 521.3 L207 522.6 L207.5 524.4 L208.1 523.9 L208.6 525.7 L209.1 525.2 L209.6 524.9 L210.1 522.6 L210.7 521.6 L211.2 520 L211.7 521 L212.2 518.3 L212.7 517.9 L213.2 515.6 L213.8 515.9 L214.3 514.5 L214.8 513.2 L215.4 512.7 L215.9 513.6 L216.5 512.6 L217.1 511.4 L217.6 510.2 L218.2 510.2 L218.7 511.4 L219.2 510.5 L219.7 508.8 L220.3 509.8 L220.8 509.8 L221.3 511.2 L221.8 512.1 L222.3 513 L222.8 513.5 L223.3 511.9 L223.8 512.8 L224.3 512.7 L224.8 512.2 L225.3 511 L225.8 509.3 L226.4 509.8 L227 511.2 L227.6 510.6 L228.2 512 L228.7 512.4 L229.2 515.2 L229.7 517.9 L230.2 519.1 L230.7 521.3 L231.2 521.3 L231.7 521.6 L232.2 520.4 L232.8 519.5 L233.3 518.5 L233.8 516 L234.3 518 L234.8 518.6 L235.3 518.4 L235.8 519.5 L236.3 520.1 L236.9 518.3 L237.5 516.7 L238.1 513 L238.7 511 L239.2 510.4 L239.7 508.7 L240.2 508.6 L240.7 507.4 L241.2 509.6 L241.7 508 L242.3 507.1 L242.8 505.5 L243.4 505.4 L243.9 504.1 L244.5 506.3 L245.1 506.5 L245.6 506.1 L246.2 507.3 L246.7 508.8 L247.2 507.1 L247.8 509.4 L248.3 509.4 L248.8 510.7 L249.3 509.8 L249.9 509.6 L250.5 509.9 L251.1 509.2 L251.7 508.5 L252.3 507.6 L253 504.8 L253.6 508.1 L254.2 510.3 L254.8 511.5 L255.4 513.4 L256 515.5 L256.6 518 L257.3 519.4 L257.9 521.9 L258.4 522.3 L258.9 522.1 L259.4 521.1 L260 521.4 L260.5 521.2 L261 522.5 L261.5 521.6 L262 520.5 L262.5 518.5 L263 515.7 L263.5 515.7 L264.1 517.8 L264.7 519.6 L265.3 521.5 L265.8 522.5 L266.3 522.5 L266.9 523.5 L267.4 523.6 L267.9 524.3 L268.4 525.6 L268.9 524.9 L269.4 523.5 L269.9 522.5 L270.4 521 L270.9 520.4 L271.4 520.9 L272 520.3 L272.6 522.7 L273.1 521.8 L273.6 524.1 L274.1 525.5 L274.6 525.1 L275.2 526.3 L275.7 527.3 L276.2 528.1 L276.7 526.9 L277.2 525.7 L277.7 525.1 L278.2 523.5 L278.7 521.3 L279.2 520.6 L279.8 518.5 L280.3 516.8 L280.9 514.8 L281.4 515.9 L281.9 516.8 L282.5 520.4 L283 522.5 L283.6 522.9 L284.2 525.7 L284.8 526.1 L285.3 524.3 L285.8 521.9 L286.3 520.9 L286.8 519.2 L287.3 516.8 L287.8 517.5 L288.3 518.7 L288.8 519.7 L289.3 519.3 L289.8 523.1 L290.3 521.4 L290.8 521.5 L291.3 520.9 L291.8 518.5 L292.3 519 L292.9 519.6 L293.5 520.8 L294.1 521.1 L294.7 520.5 L295.2 520.1 L295.7 521.9 L296.2 521.9 L296.7 522.4 L297.2 521.8 L297.7 521.9 L298.2 522.8 L298.7 524.7 L299.2 526.8 L299.7 528.3 L300.2 527.6 L300.7 525.3 L301.2 526.2 L301.8 527.1 L302.3 524.3 L302.8 526.6 L303.3 524.1 L303.8 523.1 L304.3 521.3 L304.8 519.2 L305.3 518.4 L305.9 518.7 L306.5 517 L307.1 516.1 L307.7 515.6 L308.2 516.2 L308.7 516.7 L309.2 516.2 L309.7 517.1 L310.2 517 L310.7 519.4 L311.2 519.2 L311.7 521.9 L312.2 521.6 L312.7 523 L313.2 525.7 L313.7 524.3 L314.2 522.6 L314.7 520.8 L315.2 520.4 L315.8 518.3 L316.4 518.6 L317 518 L317.5 520.4 L318 521.6 L318.5 522.4 L319 523 L319.5 522.6 L320 526 L320.5 526.9 L321 528.6 L321.5 528.8 L322 530.8 L322.6 527 L323.2 527.1 L323.2 531.5 L322.6 533.2 L322 534.4 L321.5 533.3 L321 532.3 L320.5 530.7 L320 529.9 L319.5 528.5 L319 527.3 L318.5 527.2 L318 524.8 L317.5 524.1 L317 522.2 L316.4 521.8 L315.8 522.2 L315.2 523.3 L314.7 524.2 L314.2 526.6 L313.7 528.3 L313.2 528.9 L312.7 529.9 L312.2 526.1 L311.7 525.4 L311.2 524.6 L310.7 523.2 L310.2 520.5 L309.7 521.3 L309.2 520.3 L308.7 522.2 L308.2 519.8 L307.7 518.9 L307.1 519.7 L306.5 520.8 L305.9 522.2 L305.3 522.3 L304.8 523.7 L304.3 524.9 L303.8 526.5 L303.3 528 L302.8 530.2 L302.3 530.7 L301.8 530.6 L301.2 529.5 L300.7 530.8 L300.2 531.3 L299.7 533.1 L299.2 531.9 L298.7 528.1 L298.2 528.6 L297.7 525.1 L297.2 525.4 L296.7 526.6 L296.2 525.6 L295.7 526.6 L295.2 525.5 L294.7 525.8 L294.1 525.2 L293.5 523.9 L292.9 523.2 L292.3 524.6 L291.8 523.4 L291.3 524.1 L290.8 525.3 L290.3 525.6 L289.8 526.1 L289.3 525.3 L288.8 525.6 L288.3 521.9 L287.8 521.3 L287.3 520.5 L286.8 523.2 L286.3 524.2 L285.8 526.2 L285.3 530.1 L284.8 530.7 L284.2 529.6 L283.6 526.6 L283 526.6 L282.5 524 L281.9 522.1 L281.4 521 L280.9 517.9 L280.3 519.8 L279.8 521.7 L279.2 524.2 L278.7 524.7 L278.2 527.5 L277.7 529 L277.2 529.7 L276.7 530.5 L276.2 531.8 L275.7 531.3 L275.2 530.4 L274.6 529.1 L274.1 529 L273.6 527.1 L273.1 527.8 L272.6 526.3 L272 525.6 L271.4 525.2 L270.9 524.1 L270.4 524.6 L269.9 526.2 L269.4 526.8 L268.9 528.4 L268.4 530 L267.9 528.6 L267.4 527.8 L266.9 526.6 L266.3 526.4 L265.8 525.5 L265.3 525.2 L264.7 523.6 L264.1 522.5 L263.5 519.9 L263 521.7 L262.5 523.1 L262 523.8 L261.5 525.6 L261 526.5 L260.5 525.2 L260 524.8 L259.4 525.2 L258.9 526 L258.4 525.1 L257.9 527.7 L257.3 523.4 L256.6 521.4 L256 519.4 L255.4 517.3 L254.8 515.8 L254.2 513.2 L253.6 511.1 L253 510.7 L252.3 512.5 L251.7 513.5 L251.1 514.4 L250.5 515 L249.9 513.6 L249.3 513.5 L248.8 513.7 L248.3 515.2 L247.8 513 L247.2 512.1 L246.7 513 L246.2 511.5 L245.6 511.1 L245.1 509.7 L244.5 510.3 L243.9 508.8 L243.4 509.1 L242.8 509.9 L242.3 510.8 L241.7 511.8 L241.2 513.3 L240.7 512.6 L240.2 512.9 L239.7 512.9 L239.2 513.2 L238.7 515.2 L238.1 517 L237.5 520.6 L236.9 523.2 L236.3 524.9 L235.8 523.2 L235.3 523.9 L234.8 521.8 L234.3 521.4 L233.8 521.3 L233.3 522.2 L232.8 523.1 L232.2 524.2 L231.7 525.2 L231.2 525.1 L230.7 525.3 L230.2 523.5 L229.7 521.2 L229.2 519.2 L228.7 517.8 L228.2 515.7 L227.6 515.2 L227 515.5 L226.4 514.6 L225.8 514.2 L225.3 514.3 L224.8 515.2 L224.3 517.1 L223.8 515.8 L223.3 517.9 L222.8 517.4 L222.3 517.5 L221.8 515.8 L221.3 513.9 L220.8 512.7 L220.3 513.9 L219.7 514.3 L219.2 514.1 L218.7 515.1 L218.2 517.7 L217.6 515.8 L217.1 515.7 L216.5 516.5 L215.9 517 L215.4 517.4 L214.8 516.6 L214.3 517.9 L213.8 520.3 L213.2 520.2 L212.7 520.9 L212.2 522.7 L211.7 524.3 L211.2 524.8 L210.7 525.3 L210.1 526.2 L209.6 529 L209.1 528.4 L208.6 531.5 L208.1 527.7 L207.5 527.2 L207 528.7 L206.5 524.9 L206 525.2 L205.4 520.8 L204.9 519.7 L204.3 519.2 L203.7 517.5 L203.2 515.9 L202.6 515.6 L202 514.7 L201.5 515.2 L200.9 515.6 L200.4 518.1 L199.8 518.3 L199.3 520.8 L198.8 521.1 L198.3 523.3 L197.8 523.3 L197.3 524.5 L196.8 525.6 L196.3 524 L195.7 523.8 L195.2 522.1 L194.7 522.5 L194.2 521.3 L193.6 521 L193.1 520.2 L192.6 520.4 L192.1 521.1 L191.6 522 L191.1 522.5 L190.6 523.1 L190 524.8 L189.4 526.4 L188.8 529.7 L188.2 530.9 L187.7 532.5 L187.2 531.6 L186.6 529.9 L186.1 529 L185.6 528.6 L185.1 528.1 L184.6 527.2 L184.1 526.4 L183.6 525.1 L183 525.8 L182.5 524 L182 522.3 L181.5 521.6 L180.9 522 L180.4 522.8 L179.9 521.2 L179.4 521.2 L178.8 520.2 L178.3 520.6 L177.8 521.4 L177.3 523.8 L176.8 524.2 L176.3 524.7 L175.8 525.8 L175.3 526.3 L174.8 522.6 L174.3 520.8 L173.8 521.2 L173.3 520.1 L172.8 521.6 L172.3 523.7 L171.8 524.5 L171.2 525.7 L170.7 528.4 L170.2 530.3 L169.7 528.5 L169.2 527.4 L168.6 525.3 L168.1 526.1 L167.6 523.8 L167.1 522.5 L166.5 523.1 L165.9 524.9 L165.3 526.5 L164.7 529.8 L164.2 529.5 L163.7 530.5 L163.2 531.6 L162.7 532.7 L162.2 534 L161.7 532.9 L161.2 531.1 L160.6 529.2 L160.1 528.4 L159.6 526.6 L159.1 526.2 L158.5 525.9 L158 524.3 L157.4 523.1 L156.9 524.8 L156.4 524.6 L155.9 525.6 L155.4 526.1 L154.9 526.9 L154.4 528.8 L153.9 528.7 L153.4 529.1 L152.9 530.4 L152.4 530.2 L151.9 527.6 L151.3 526.1 L150.8 523.3 L150.2 521 L149.7 518.5 L149.1 519.4 L148.6 520.9 L148.1 521.7 L147.5 523.7 L146.9 525.4 L146.2 527.1 L145.6 530.2 L145 527.2 L144.4 524.1 L143.8 524 L143.3 522.2 L142.8 522.8 L142.2 521.3 L141.7 521.4 L141.2 522.5 L140.7 521.4 L140.2 520.9 L139.7 519.8 L139.2 520.7 L138.7 519.7 L138.2 519.8 L137.7 521.2 L137.2 521.8 L136.6 522.1 L136.1 522.5 L135.6 521.3 L135.1 522.8 L134.5 519.1 L133.9 517.6 L133.3 514.7 L132.8 516.7 L132.3 517.9 L131.8 520.7 L131.2 522.7 L130.7 525.9 L130.2 529.4 L129.6 528.7 L128.9 527.3 L128.3 525.3 L127.7 525 L127.2 524.5 L126.7 524.9 L126.2 525.6 L125.6 525.1 L125.1 526.1 L124.6 527.9 L124.1 527.7 L123.6 529.2 L123.1 529.8 L122.6 531.1 L122.1 533.1 L121.5 531.8 L120.9 531.2 L120.3 532.3 L119.7 532.6 L119.2 531.2 L118.6 529.7 L118.1 527.8 L117.5 526.7 L117 526.5 L116.4 525.5 L115.9 524.2 L115.4 525.6 L114.9 525.3 L114.3 525.2 L113.8 525.4 L113.3 524.8 L112.8 524.6 L112.3 522.3 L111.8 520.6 L111.2 519.8 L110.7 516.8 L110.2 518.8 L109.6 521.2 L109 523.7 L108.5 526.2 L108 525.4 L107.5 525.3 L107 524.8 L106.5 524.1 L106 524.4 L105.5 525.6 L105 524.8 L104.5 525.1 L103.9 524.8 L103.4 525.8 L102.9 527.8 L102.3 528.3 L101.7 529.5 L101.1 530.5 L100.5 532 L100 530.6 L99.5 529.2 L99 528.9 L98.5 528 L98 526.7 L97.5 524.8 L97 523 L96.5 522.4 L95.9 523.1 L95.4 519.9 L94.9 519.2 L94.4 520.3 L93.9 521.2 L93.3 522.3 L92.8 524.7 L92.3 524.6 L91.8 525.6 L91.3 526 L90.8 524.7 L90.2 524.6 L89.7 523.8 L89.2 522.7 L88.7 521.9 L88.1 522.3 L87.6 523.6 L87 524.1 L86.5 525.6 L85.9 527.3 L85.4 528.4 L84.8 529 L84.2 529.1 L83.7 528.3 L83.1 527.5 L82.5 526.2 L82 525.9 L81.5 526 L81 527.8 L80.4 525.2 L79.9 524.2 L79.4 526.4 L78.8 523.2 L78.2 521.5 L77.7 519.4 L77.1 516.9 L76.5 517 L76 517.7 L75.4 518.3 L74.9 518.7 L74.3 518.9 L73.8 520 L73.2 520.7 L72.7 523.7 L72.1 524.6 L71.6 526.6 L71 527.4 L70.4 528.3 L69.8 528 L69.3 528.9 L68.8 527.5 L68.3 528.7 L67.8 528.2 L67.3 527.8 L66.8 528 L66.3 527.4 L65.8 526.8 L65.3 525.2 L64.8 525.7 L64.2 524.4 L63.6 524.1 L63 522.4 L62.4 523.2 L61.8 523.1 L61.1 522.8 L60.5 521.4 L60 519.4 L59.5 519.1 L59 519.5 L58.5 519.8 L58 519.8 L57.4 521.1 L56.8 520.3 L56.2 517.2 L55.6 516.2 L55 518.2 L54.3 521.1 L53.7 522.3 L53.1 519.5 L52.5 519.4 L51.9 519.4 L51.3 515.4 L50.6 512 L50 509.6Z" fill="#00ff00"/>
<path d="M38.4 331.5 L38.8 338.4 L39.2 345.2 L39.5 352.1 L39.9 358.9 L40.3 365.8 L40.7 372.6 L41.1 379.4 L41.4 386.3 L41.8 393.1 L42.2 400 L42.6 405.6 L42.9 411.2 L43.3 416.9 L43.6 422.5 L44 428.1 L44.3 433.8 L44.7 439.4 L45 445 L45.4 450.6 L45.8 456.2 L46.1 461.9 L46.5 467.5 L46.8 473.1 L47.2 478.8 L47.5 484.4 L47.9 490 L48.3 496.1 L48.8 502.3 L49.2 508.5 L49.7 514.7 L50.2 520.9 L50.6 527 L51 529 L51.4 531 L51.7 532.9 L52.1 534.9 L52.5 536.9" fill="none" stroke="#ff0000" stroke-width="1.8" stroke-linejoin="round" stroke-linecap="round"/>
<path d="M52.5 536.1 L52.9 537.1 L53.2 540.9 L53.6 541.6 L53.9 544.1 L54.3 544.9 L54.7 543.7 L55.1 544.9 L55.4 545 L55.8 546.2 L56.2 546.2 L56.6 547.4 L56.9 547 L57.3 544.4 L57.6 546.3 L58 545.7 L58.4 544.1 L58.7 545.8 L59.1 546.2 L59.4 545.7 L59.8 544.8 L60.1 545.8 L60.5 546.4 L60.9 545.4 L61.2 546 L61.6 545.1 L61.9 545.6 L62.3 547.8 L62.6 546.6 L63 548 L63.4 547.5 L63.7 548.6 L64.1 547.6 L64.4 547.2 L64.8 549.3 L65.1 548.3 L65.5 548.4 L65.9 549.1 L66.2 549.1 L66.6 550.2 L67 549.5 L67.4 548.7 L67.8 548.6 L68.1 549 L68.5 547.5 L68.9 547.8 L69.2 548.5 L69.6 549.3 L70 548.1 L70.3 546.8 L70.7 548.9 L71 548.2 L71.4 546.2 L71.8 546.5 L72.1 545.3 L72.5 547.3 L72.9 544.8 L73.3 545.8 L73.7 544.6 L74 543.9 L74.4 542.4 L74.8 540.6 L75.2 539.1 L75.6 539.9 L76 539.4 L76.4 542.2 L76.8 544.3 L77.1 543.7 L77.5 545.8 L77.9 547.4 L78.3 546.1 L78.6 546.1 L79 547.2 L79.3 545.8 L79.7 545.6 L80 545.6 L80.4 547.7 L80.7 547.4 L81.1 544.9 L81.4 546.2 L81.8 545.5 L82.2 544.4 L82.5 545.2 L82.9 546.4 L83.2 544.6 L83.6 547.4 L83.9 545.5 L84.3 545.7 L84.6 547.6 L85 545.2 L85.3 545.2 L85.7 546.3 L86 545.9 L86.4 546 L86.8 546.4 L87.2 547.1 L87.6 545.1 L88 543.6 L88.3 544.2 L88.7 545.2 L89.1 543.6 L89.5 542.1 L89.9 543.1 L90.3 543.5 L90.6 544.4 L91 544.7 L91.4 546.3 L91.8 546.9 L92.2 545.3 L92.5 546.1 L92.9 548.6 L93.3 549.2 L93.7 548.5 L94.1 546.2 L94.5 547.2 L94.8 544.9 L95.2 546.2 L95.6 544.3 L96 545.7 L96.4 545.2 L96.8 544.5 L97.2 545.6 L97.6 546.7 L98 546.9 L98.4 545.6 L98.8 545 L99.2 543.7 L99.5 544.1 L99.9 541.9 L100.3 542.3 L100.7 540.7 L101.1 540.2 L101.5 542.5 L101.8 542.4 L102.2 542.4 L102.5 545.2 L102.9 543.8 L103.2 545.2 L103.6 545.7 L104 546.2 L104.4 550.1 L104.8 550.8 L105.2 552.7 L105.6 552.3 L106 555.6 L106.4 555.8 L106.8 556 L107.2 553.9 L107.5 554 L107.9 553.9 L108.3 554.1 L108.7 556.1 L109.1 554.3 L109.5 555.1 L109.8 554.4 L110.2 555.2 L110.6 552.8 L110.9 554.4 L111.3 554.8 L111.7 552.4 L112.1 552.4 L112.4 553 L112.8 551.3 L113.2 552.6 L113.5 552.7 L113.9 550 L114.2 550.4 L114.6 549.1 L114.9 550 L115.3 549.1 L115.7 550.5 L116 549.4 L116.4 549.9 L116.7 549 L117.1 548.7 L117.4 547 L117.8 547.5 L118.2 546.3 L118.5 547.5 L118.9 549.7 L119.3 550.4 L119.7 548.5 L120 549.9 L120.4 550.1 L120.8 551.3 L121.1 551.7 L121.5 551.2 L121.9 552.8 L122.2 551.3 L122.6 552.1 L122.9 551.7 L123.3 552.3 L123.7 550.7 L124 550.7 L124.4 551 L124.7 549.2 L125.1 548.5 L125.4 550.5 L125.8 550 L126.2 550.8 L126.5 551.5 L126.9 550.4 L127.3 553 L127.7 552.9 L128 554.5 L128.4 553.9 L128.8 555.5 L129.1 553.7 L129.5 554.6 L129.9 554.8 L130.3 554.3 L130.7 552.5 L131.1 550.6 L131.4 552.1 L131.8 548.8 L132.2 550.3 L132.6 547.4 L133 548.8 L133.4 548.5 L133.8 547.4 L134.1 547.7 L134.5 547.4 L134.9 548.3 L135.3 547.5 L135.7 548.3 L136.1 548 L136.4 548 L136.8 550.3 L137.2 549.4 L137.6 552 L137.9 550.9 L138.3 550.9 L138.7 552.8 L139 553.8 L139.4 552.7 L139.8 553.3 L140.1 551.5 L140.5 553 L140.8 550.4 L141.2 549.1 L141.5 548.4 L141.9 549.5 L142.3 549.2 L142.7 547.5 L143.1 547.3 L143.4 546.7 L143.8 545.9 L144.2 544.8 L144.6 545.2 L145 545 L145.4 543.2 L145.8 545.9 L146.2 544.2 L146.6 545 L146.9 544.4 L147.3 545.9 L147.7 545.3 L148.1 545.9 L148.5 544.6 L148.9 544 L149.3 541.9 L149.6 543.7 L150 541.2 L150.4 540.1 L150.8 540.8 L151.2 538.3 L151.6 539.7 L152 538.5 L152.4 537.5 L152.8 538.8 L153.1 537.9 L153.5 537.6 L153.9 539.8 L154.3 539.6 L154.7 538.6 L155 540 L155.4 539.9 L155.8 539.2 L156.2 539 L156.5 540.8 L156.9 540 L157.3 542 L157.6 541.9 L158 541.2 L158.4 542 L158.7 541.7 L159.1 539.4 L159.5 541.4 L159.9 540.3 L160.3 539.4 L160.6 541.2 L161 541.4 L161.4 543.5 L161.8 542.8 L162.2 544.6 L162.6 542.1 L163 542.7 L163.4 541.5 L163.8 541.6 L164.1 543.5 L164.5 541.3 L164.9 541.8 L165.3 542.4 L165.7 544.3 L166.1 542.7 L166.5 542.5 L166.9 545.1 L167.2 545.5 L167.6 544.3 L168 547.1 L168.4 547.4 L168.8 548.2 L169.2 548.5 L169.6 548.3 L169.9 549.4 L170.3 548.3 L170.7 550.5 L171.1 550.2 L171.5 550.8 L171.9 550.2 L172.3 549 L172.7 550.6 L173.1 549.9 L173.4 547.1 L173.8 548.1 L174.2 546.1 L174.6 547.1 L175 545.3 L175.4 546.9 L175.8 544.3 L176.2 544.1 L176.6 542.6 L177 543.8 L177.4 541.8 L177.7 543.3 L178.1 543.7 L178.4 545.9 L178.8 545.4 L179.1 547.5 L179.5 546.5 L179.9 546.5 L180.3 548.1 L180.7 547.6 L181.1 548.4 L181.4 550.1 L181.8 550.9 L182.2 550.4 L182.6 550.9 L183 551.9 L183.4 551.6 L183.8 551.6 L184.1 552.1 L184.5 550.4 L184.9 550 L185.3 550.1 L185.7 552.2 L186.1 552.2 L186.4 550.8 L186.8 551.6 L187.1 551.8 L187.5 553.9 L187.8 552.6 L188.2 553.7 L188.6 550.7 L189 549.5 L189.4 548.9 L189.8 549 L190.2 547.3 L190.6 547.4 L191 547.9 L191.3 548.1 L191.7 549.7 L192 550.2 L192.4 550.6 L192.7 548.8 L193.1 550.4 L193.5 550.2 L193.9 552.1 L194.3 552.3 L194.6 551.6 L195 552.1 L195.4 553.8 L195.8 554.8 L196.2 554.7 L196.6 554.1 L196.9 553.8 L197.3 553.2 L197.6 552.4 L198 550.7 L198.3 549.2 L198.7 550.5 L199.1 547.2 L199.4 546.9 L199.8 546.1 L200.1 546.5 L200.5 545.8 L200.8 543.5 L201.2 543.9 L201.6 544.3 L201.9 544.8 L202.3 543.1 L202.7 545.2 L203.1 544 L203.4 544.5 L203.8 543.8 L204.2 546.1 L204.6 545.5 L205 546.2 L205.3 545.3 L205.7 544.2 L206.1 545.1 L206.5 544.2 L206.9 544.3 L207.2 546.5 L207.6 544.1 L208 545.4 L208.4 544.5 L208.8 546.9 L209.2 547.8 L209.6 545.2 L210 546.4 L210.4 548.4 L210.8 548 L211.2 549.9 L211.5 553.6 L211.9 555.1 L212.3 555.3 L212.7 555.8 L213 555.8 L213.4 554.1 L213.7 552.7 L214.1 553.4 L214.4 554 L214.8 554.5 L215.2 552 L215.7 551 L216.1 550 L216.5 549.7 L216.9 547.8 L217.3 550.3 L217.7 550.3 L218.1 547.3 L218.4 547.1 L218.8 547.9 L219.2 547.2 L219.6 548.9 L220 550.3 L220.4 550.4 L220.8 552.7 L221.1 551.6 L221.5 552.6 L221.9 554.3 L222.3 555.6 L222.7 555.9 L223.1 557.5 L223.5 556.3 L223.9 554.3 L224.2 553.5 L224.6 553.1 L225 552.8 L225.4 553 L225.8 552.7 L226.2 553.2 L226.6 550.6 L226.9 551 L227.3 551.5 L227.7 553.3 L228.1 551.8 L228.4 552.6 L228.8 552.9 L229.2 551.3 L229.6 550.6 L230 551.3 L230.4 550.4 L230.7 551 L231.1 548.4 L231.5 549.9 L231.9 548.1 L232.3 549.3 L232.7 548.7 L233 548.5 L233.4 549.4 L233.8 547.2 L234.2 547.9 L234.6 548.6 L234.9 549.6 L235.3 547.8 L235.7 549.6 L236.1 547 L236.4 547.3 L236.8 547 L237.2 547.2 L237.6 546.1 L237.9 546.5 L238.3 545.5 L238.7 544.1 L239.1 544 L239.5 543.2 L239.8 544.2 L240.2 542.1 L240.6 541.3 L241 541.1 L241.4 540.6 L241.7 541.9 L242.1 541.1 L242.5 539.3 L242.9 540.1 L243.2 541.8 L243.6 542.2 L244 540.2 L244.4 542.6 L244.8 540.2 L245.1 543.3 L245.5 541.5 L245.9 544.2 L246.2 542.3 L246.6 545.2 L246.9 546.8 L247.3 547.3 L247.6 547.4 L248 547.1 L248.4 547.9 L248.7 550.5 L249.1 550.8 L249.4 549.4 L249.8 550.3 L250.1 551.7 L250.5 551.3 L250.9 549.8 L251.2 550.5 L251.6 547 L251.9 547.3 L252.3 545.4 L252.6 544.4 L253 544.3 L253.4 544.6 L253.8 545.3 L254.2 543.6 L254.6 546.6 L255 547.2 L255.4 545.4 L255.8 545 L256.2 545.4 L256.5 544.6 L256.9 542.5 L257.3 542.5 L257.7 540.7 L258 541.8 L258.4 544.1 L258.7 544.7 L259.1 543.6 L259.4 545.3 L259.8 545.5 L260.2 547.5 L260.6 547.5 L261 548.4 L261.4 550.8 L261.7 551.7 L262.1 551.7 L262.5 553.9 L262.9 553.6 L263.3 554 L263.7 552.8 L264.1 552.9 L264.4 552.9 L264.8 551.6 L265.2 551.9 L265.6 551.8 L266 551.4 L266.4 552.2 L266.8 553.7 L267.2 553.8 L267.6 552.5 L267.9 552.3 L268.3 552.5 L268.7 555.2 L269.1 555.1 L269.5 554.6 L269.9 554.7 L270.2 552.8 L270.6 551.7 L271 551 L271.4 551.5 L271.7 552.2 L272.1 549.8 L272.5 550.4 L272.9 548.7 L273.3 548.5 L273.7 548.9 L274.1 548.6 L274.5 548.8 L274.9 546.4 L275.3 546.8 L275.7 547 L276.1 548.1 L276.4 548.3 L276.8 548.9 L277.2 549.9 L277.6 551.9 L278 552.4 L278.4 553.5 L278.8 552 L279.2 550.5 L279.6 550.5 L279.9 551.9 L280.3 552.5 L280.7 551.6 L281.1 549.8 L281.5 549.8 L281.9 549.8 L282.3 549.5 L282.6 548.7 L283 548 L283.4 547.3 L283.8 549.6 L284.2 549.5 L284.6 549.5 L285 547.7 L285.4 548.7 L285.8 547.2 L286.1 546.9 L286.5 546.6 L286.9 547.6 L287.3 549 L287.7 547.4 L288 545.7 L288.4 545.7 L288.7 545.1 L289.1 543.3 L289.4 543.2 L289.8 543.9 L290.2 542.2 L290.6 543.6 L291 542.6 L291.4 540.5 L291.7 542.7 L292.1 541.8 L292.5 540.8 L292.9 539.8 L293.3 541.6 L293.7 540.7 L294.1 542 L294.4 541.5 L294.8 542.8 L295.2 544.9 L295.6 544.2 L296 544.4 L296.4 545.3 L296.7 545.9 L297.1 546.3 L297.4 545.9 L297.8 546.2 L298.1 547.9 L298.5 549.4 L298.9 550.6 L299.2 550.8 L299.6 551.6 L299.9 553.9 L300.3 553.6 L300.7 553.9 L301 553.7 L301.4 553.2 L301.7 549.5 L302.1 548.7 L302.4 548.5 L302.8 547.8 L303.2 549.1 L303.6 546.8 L304 547.1 L304.4 548.4 L304.7 549.6 L305.1 547.5 L305.5 548.8 L305.9 550 L306.3 548.9 L306.6 547.9 L307 547.3 L307.3 549.1 L307.7 548.1 L308.1 547 L308.5 546.2 L308.8 545.2 L309.2 542.9 L309.6 541.6 L310 544.7 L310.3 543.6 L310.7 547.1 L311 547.5 L311.4 549.2 L311.7 549.7 L312.1 553.2 L312.5 551.5 L312.9 551.8 L313.3 551.2 L313.7 553.9 L314.1 553.9 L314.5 551.8 L314.9 551.3 L315.2 551 L315.6 549.5 L315.9 550.2 L316.3 550.6 L316.6 549.5 L317 548.1 L317.4 549.4 L317.7 547.3 L318.1 547.2 L318.5 546.9 L318.9 547.8 L319.2 547.3 L319.6 546.1 L320 547.1 L320.3 548.4 L320.7 548 L321.1 547.8 L321.4 549 L321.8 548.4 L322.1 549 L322.5 550.1 L322.8 549.2 L323.2 550.9" fill="none" stroke="#ff0000" stroke-width="2.7" stroke-linejoin="round" stroke-linecap="round"/>
<path d="M52.5 534.8 L53.1 537 L53.7 540 L54.3 542.5 L54.9 543.5 L55.6 544.1 L56.2 545.1 L56.8 543.8 L57.4 541.8 L58 540.4 L58.5 543.1 L59 542.7 L59.5 543.2 L60 542.9 L60.5 544.2 L61 542.9 L61.5 544.5 L62 545 L62.5 545.8 L63 547.1 L63.5 546.1 L64 546.3 L64.5 546.8 L65 547.2 L65.5 547.1 L66 545.7 L66.5 546.4 L67 547.9 L67.5 547.9 L68 547.7 L68.5 546.2 L69 546.6 L69.5 545.3 L70 545.3 L70.5 545 L71 544.9 L71.5 544.2 L72 544.3 L72.5 545.1 L73 543.5 L73.5 542.8 L74 541.2 L74.6 538.3 L75.1 538.4 L75.6 536.7 L76.2 539.3 L76.8 540.7 L77.3 543.4 L77.9 545 L78.5 543.3 L79 545.7 L79.6 545.9 L80.1 544.8 L80.7 543.9 L81.2 543.7 L81.8 544 L82.3 543.8 L82.8 544.8 L83.3 544 L83.8 544.2 L84.4 544 L84.9 542.9 L85.4 543.6 L85.9 544.8 L86.4 545 L86.9 544 L87.4 544.2 L88 542.6 L88.5 542.6 L89 542.5 L89.5 541.1 L90 542.5 L90.6 542.5 L91.1 544.1 L91.7 544.9 L92.2 545.3 L92.8 546.9 L93.3 547 L93.8 545.4 L94.3 544.9 L94.8 544.1 L95.4 543.4 L95.9 542.7 L96.4 542.2 L96.9 541.6 L97.5 542.9 L98 542.9 L98.5 540.9 L99 541.2 L99.5 540.9 L100.1 540.1 L100.6 540.2 L101.1 540.6 L101.6 541.3 L102.1 542.8 L102.6 543.4 L103.1 544.2 L103.6 545 L104.2 545.7 L104.8 547.7 L105.4 549.3 L106 551.9 L106.5 552.7 L107 552.1 L107.5 552.4 L108.1 552 L108.6 552.9 L109.1 551.6 L109.6 552.8 L110.2 551.6 L110.7 551 L111.2 551.6 L111.7 550.8 L112.3 550.1 L112.8 547.6 L113.3 549 L113.8 549.3 L114.3 548.4 L114.8 547 L115.3 546.9 L115.8 545.8 L116.3 545.3 L116.8 546 L117.3 546.3 L117.8 545.5 L118.3 545.6 L118.9 546.7 L119.4 547.8 L119.9 546.6 L120.4 548.9 L121 549.2 L121.5 550.3 L122 549.6 L122.6 549.9 L123.1 548.6 L123.7 549 L124.2 548 L124.7 548.3 L125.3 548.7 L125.8 547.9 L126.3 548.1 L126.9 549.6 L127.4 550.1 L127.9 550.7 L128.4 551.3 L129 551.6 L129.5 554 L130 551.7 L130.5 551.1 L131.1 549.2 L131.6 548.9 L132.1 547.5 L132.6 546.1 L133.1 546.5 L133.6 545.9 L134.1 546.5 L134.7 546.3 L135.2 546.3 L135.7 546.3 L136.2 547.6 L136.8 548.6 L137.3 549.6 L137.8 550 L138.3 548.4 L138.9 550.5 L139.4 551.7 L139.9 551.3 L140.4 549.5 L140.9 549 L141.4 547.2 L141.9 544.4 L142.4 546.4 L142.9 545 L143.4 545.3 L144 543.9 L144.5 541.7 L145 543.1 L145.5 542.4 L146 542.9 L146.6 542 L147.1 542.1 L147.6 543.2 L148.1 543.2 L148.6 541.8 L149.1 541.1 L149.6 540.8 L150.2 540.1 L150.7 539.4 L151.2 538.1 L151.7 537.3 L152.2 537 L152.8 534.9 L153.3 536.2 L153.8 535.2 L154.3 535.7 L154.8 536.7 L155.4 536.9 L155.9 536.5 L156.4 538.5 L156.9 538.9 L157.5 539.5 L158 540.5 L158.6 539.9 L159.1 537.6 L159.6 537.8 L160.1 538.1 L160.6 538.6 L161.2 540 L161.7 540.7 L162.2 540.8 L162.7 540.2 L163.2 540.4 L163.8 539.7 L164.3 540.7 L164.8 540.2 L165.3 541 L165.8 540.5 L166.3 540.4 L166.9 542.3 L167.4 543.3 L167.9 543.4 L168.4 544.4 L168.9 544.4 L169.4 545.4 L169.9 546.4 L170.5 547.8 L171 546.7 L171.5 548 L172 548.3 L172.5 546.6 L173.1 547.6 L173.6 545 L174.1 545.5 L174.6 545.7 L175.2 544.5 L175.8 543.6 L176.4 542.4 L177 543 L177.5 542.1 L178 543.7 L178.5 541.6 L179 543.5 L179.5 544.8 L180 546.6 L180.5 547.5 L181.1 548.6 L181.6 547.7 L182.1 548.5 L182.6 549.7 L183.1 549.8 L183.6 549.9 L184.1 550.4 L184.7 550 L185.2 550.5 L185.7 549.6 L186.2 548.7 L186.7 550.4 L187.2 549.7 L187.7 550.9 L188.2 551.5 L188.8 550.7 L189.4 548.2 L190 545.4 L190.6 543.9 L191.1 543.8 L191.6 546.2 L192.1 547.1 L192.6 547.9 L193.1 548.4 L193.6 548.3 L194.1 550.1 L194.6 550.7 L195.2 550.2 L195.7 551.6 L196.2 552.9 L196.7 552 L197.2 550.4 L197.7 549.9 L198.2 550 L198.7 548.4 L199.2 546.7 L199.7 545.7 L200.2 544.8 L200.7 543.4 L201.2 541.7 L201.7 541.6 L202.2 542.5 L202.7 542.2 L203.2 540.5 L203.7 543.2 L204.2 542.6 L204.7 542.4 L205.3 543.5 L205.8 543.6 L206.4 544.1 L206.9 544.2 L207.5 542.9 L208 543.4 L208.6 544.6 L209.2 545.7 L209.8 546.3 L210.4 545.6 L211 548.3 L211.7 551.1 L212.3 553.6 L212.8 551.9 L213.3 550.6 L213.8 550.9 L214.3 551.5 L214.8 551.7 L215.4 550 L215.9 548.3 L216.5 547.1 L217 547 L217.5 546.7 L218.1 547.3 L218.6 545.8 L219.1 546.8 L219.6 545.3 L220.1 547.7 L220.6 548.5 L221.1 550.3 L221.7 550.2 L222.2 553.3 L222.7 554 L223.2 554.8 L223.7 554.1 L224.2 553.3 L224.8 551.8 L225.3 550.4 L225.8 547.4 L226.3 549.3 L226.8 550.5 L227.3 549.3 L227.8 550.6 L228.3 549.8 L228.8 550 L229.3 549.5 L229.8 548.3 L230.4 548.2 L230.9 545.1 L231.4 547 L231.9 546.2 L232.4 546.1 L233 545.5 L233.5 546.4 L234.1 546.6 L234.6 546.9 L235.2 546.9 L235.7 546.6 L236.2 546.9 L236.7 545.2 L237.2 545.1 L237.7 543.7 L238.2 542.8 L238.7 542.4 L239.2 541.5 L239.8 541.5 L240.3 540.2 L240.9 539.6 L241.4 539.4 L242 539.1 L242.5 538.6 L243 538.9 L243.5 539 L244 540.1 L244.5 540.4 L245 539.8 L245.5 539.9 L246 541.2 L246.5 542.8 L247 543.8 L247.5 546.4 L248 547.3 L248.5 547.8 L249 547.9 L249.5 548.6 L250 549.7 L250.5 550 L251 548.7 L251.5 547.2 L252 544.6 L252.5 543.4 L253 540.5 L253.6 542 L254.2 542.3 L254.8 543.2 L255.4 544.4 L256 542.6 L256.7 541.8 L257.3 540.5 L257.8 540.5 L258.3 541.2 L258.8 542.6 L259.3 543.2 L259.8 544.5 L260.3 545.6 L260.8 545.8 L261.4 547.6 L261.9 548.2 L262.4 550.6 L262.9 551.7 L263.4 551.6 L263.9 551.1 L264.4 550.5 L265 551.1 L265.5 550.7 L266 549.3 L266.5 548.3 L267 550.8 L267.6 551.8 L268.1 551.8 L268.6 552 L269.1 551.9 L269.7 551.3 L270.2 551.9 L270.8 550.9 L271.4 550.7 L271.9 549.8 L272.5 549.2 L273.1 547.9 L273.7 546.6 L274.3 545.8 L274.9 544.8 L275.4 545.6 L275.9 545.7 L276.4 547.4 L277 548.9 L277.5 550.1 L278 550.4 L278.5 550.2 L279 549.4 L279.6 550.5 L280.1 549.6 L280.6 549.8 L281.1 548.3 L281.6 547.5 L282.1 546.3 L282.6 546.9 L283.2 546.9 L283.7 546.1 L284.2 546 L284.7 547 L285.2 546.9 L285.8 546.2 L286.3 546 L286.8 546.1 L287.3 546.6 L287.8 545.6 L288.3 544.3 L288.8 543 L289.3 540.8 L289.8 540.3 L290.3 541 L290.8 540.2 L291.4 538.4 L291.9 539 L292.4 538.1 L292.9 538.7 L293.4 538.9 L293.9 540.1 L294.4 540.1 L295 539.9 L295.5 540.4 L296 541.5 L296.5 542.5 L297 543.1 L297.5 545.6 L298 544.8 L298.5 544.5 L299.1 548.3 L299.7 550.7 L300.3 553.3 L300.8 551.5 L301.3 551.1 L301.8 549.7 L302.3 547.8 L302.8 546.4 L303.3 546.4 L303.8 546.1 L304.4 546.5 L304.9 545.7 L305.4 546.3 L305.9 547.1 L306.5 546.7 L307.1 544.1 L307.7 545.4 L308.3 542.7 L309 541.4 L309.6 539.5 L310.1 539.3 L310.6 544 L311.1 547.4 L311.6 548.6 L312.1 550.4 L312.7 550.4 L313.3 550.5 L313.9 551.8 L314.5 551.7 L315 550.9 L315.5 549.3 L316 548.8 L316.5 547.1 L317 545.1 L317.5 544.8 L318.1 543.8 L318.6 545 L319.1 545.1 L319.6 545.3 L320.2 546.3 L320.7 545.2 L321.2 546.7 L321.7 547.8 L322.2 546.9 L322.7 547.7 L323.2 549.2 L323.2 554.4 L322.7 551.9 L322.2 551.8 L321.7 552.4 L321.2 550.9 L320.7 549.1 L320.2 549.5 L319.6 549.3 L319.1 549 L318.6 549 L318.1 549.3 L317.5 548.8 L317 549.5 L316.5 551.1 L316 552.1 L315.5 554.3 L315 554.3 L314.5 555.4 L313.9 555.6 L313.3 554.9 L312.7 555.7 L312.1 554.9 L311.6 552.6 L311.1 552.3 L310.6 547.4 L310.1 544.9 L309.6 542.3 L309 545.1 L308.3 546.7 L307.7 549.8 L307.1 549.9 L306.5 550.8 L305.9 550.6 L305.4 550.2 L304.9 549.8 L304.4 549.5 L303.8 550.6 L303.3 549.7 L302.8 550 L302.3 553.2 L301.8 553.6 L301.3 554.7 L300.8 555.5 L300.3 557.1 L299.7 554.4 L299.1 551.5 L298.5 549.8 L298 549 L297.5 549.5 L297 548 L296.5 545.8 L296 545 L295.5 544.6 L295 545.1 L294.4 544.7 L293.9 544.7 L293.4 542.9 L292.9 542.1 L292.4 543.4 L291.9 542.7 L291.4 543.1 L290.8 543.8 L290.3 544.8 L289.8 546.4 L289.3 546 L288.8 546.9 L288.3 548.6 L287.8 549.7 L287.3 551.2 L286.8 549.9 L286.3 550.3 L285.8 549.6 L285.2 550.3 L284.7 549.9 L284.2 550.8 L283.7 551.4 L283.2 550.6 L282.6 550.7 L282.1 550.6 L281.6 551.9 L281.1 551.7 L280.6 552.7 L280.1 554 L279.6 554.2 L279 553.9 L278.5 553.8 L278 554.2 L277.5 554.8 L277 552 L276.4 550.8 L275.9 549.1 L275.4 549.5 L274.9 548.6 L274.3 551.4 L273.7 551.2 L273.1 552.8 L272.5 553.2 L271.9 553.1 L271.4 554.7 L270.8 554.9 L270.2 557.5 L269.7 554.5 L269.1 555.3 L268.6 556 L268.1 555.5 L267.6 555.3 L267 554.6 L266.5 554 L266 553.6 L265.5 553.7 L265 554.7 L264.4 555 L263.9 555.3 L263.4 555.5 L262.9 556.4 L262.4 554.9 L261.9 553.2 L261.4 551.2 L260.8 550.3 L260.3 549.5 L259.8 547.8 L259.3 547.6 L258.8 545.7 L258.3 545 L257.8 543.6 L257.3 544.4 L256.7 545.8 L256 547.1 L255.4 547.7 L254.8 548.2 L254.2 546.8 L253.6 546 L253 544.7 L252.5 546.9 L252 547.9 L251.5 550.9 L251 554.2 L250.5 554.5 L250 554.2 L249.5 552.3 L249 552.1 L248.5 552.2 L248 550.4 L247.5 549.6 L247 547.1 L246.5 546.3 L246 545 L245.5 543.7 L245 543.6 L244.5 544.4 L244 545.1 L243.5 542.5 L243 542.5 L242.5 541.9 L242 542.8 L241.4 543.2 L240.9 545 L240.3 544 L239.8 544.6 L239.2 546.6 L238.7 545.9 L238.2 546.9 L237.7 547.4 L237.2 549.9 L236.7 549.2 L236.2 549.9 L235.7 549.8 L235.2 551.2 L234.6 550.3 L234.1 550.6 L233.5 550.1 L233 549.1 L232.4 549.5 L231.9 549.9 L231.4 550.2 L230.9 551.4 L230.4 551.5 L229.8 551.7 L229.3 552.7 L228.8 552.8 L228.3 554.3 L227.8 554.8 L227.3 555 L226.8 553.4 L226.3 553.2 L225.8 552.7 L225.3 555.7 L224.8 555.3 L224.2 557.2 L223.7 557.4 L223.2 558.3 L222.7 558.7 L222.2 557.5 L221.7 557.5 L221.1 553.7 L220.6 553.2 L220.1 552.1 L219.6 551.2 L219.1 550.6 L218.6 552.1 L218.1 550.8 L217.5 550.5 L217 552.4 L216.5 553 L215.9 552.6 L215.4 553 L214.8 554.8 L214.3 555.3 L213.8 555.3 L213.3 556.2 L212.8 555.4 L212.3 557.3 L211.7 554.2 L211 551.8 L210.4 549.3 L209.8 549.9 L209.2 549.7 L208.6 550.1 L208 547.5 L207.5 547.7 L206.9 547.7 L206.4 547.2 L205.8 547.4 L205.3 548.6 L204.7 548.6 L204.2 546.7 L203.7 547 L203.2 545.6 L202.7 545.3 L202.2 545.8 L201.7 546.2 L201.2 546.5 L200.7 546.6 L200.2 547.8 L199.7 549.5 L199.2 550.3 L198.7 552.3 L198.2 553.8 L197.7 554.7 L197.2 556.5 L196.7 556.3 L196.2 557.5 L195.7 555.9 L195.2 554.8 L194.6 554.2 L194.1 553.9 L193.6 553.4 L193.1 552.6 L192.6 551.3 L192.1 550.7 L191.6 551 L191.1 548.3 L190.6 548.3 L190 549.3 L189.4 551.9 L188.8 553.6 L188.2 555.3 L187.7 554.8 L187.2 553.8 L186.7 554.3 L186.2 555 L185.7 554.1 L185.2 554.7 L184.7 554.8 L184.1 554.1 L183.6 553.9 L183.1 554.2 L182.6 554.9 L182.1 552.7 L181.6 551.5 L181.1 551.3 L180.5 551 L180 550.7 L179.5 548.6 L179 549.4 L178.5 547.6 L178 547.3 L177.5 546.8 L177 546.2 L176.4 547.4 L175.8 547.3 L175.2 549.1 L174.6 550.9 L174.1 552.2 L173.6 551 L173.1 550.8 L172.5 551.8 L172 553 L171.5 553.5 L171 554.2 L170.5 551.5 L169.9 550.3 L169.4 549.4 L168.9 549 L168.4 548 L167.9 547.9 L167.4 546.4 L166.9 545.2 L166.3 544 L165.8 544.3 L165.3 544 L164.8 544.7 L164.3 545.5 L163.8 545 L163.2 545.5 L162.7 544.6 L162.2 544.7 L161.7 544.8 L161.2 543.4 L160.6 542.5 L160.1 542.7 L159.6 541.5 L159.1 541.6 L158.6 542.9 L158 545.1 L157.5 543.2 L156.9 542.6 L156.4 542 L155.9 541.8 L155.4 541 L154.8 540.7 L154.3 540.4 L153.8 541 L153.3 539.4 L152.8 540.3 L152.2 540.5 L151.7 540.7 L151.2 541.5 L150.7 543.4 L150.2 544.2 L149.6 545.5 L149.1 545.7 L148.6 546.2 L148.1 546.7 L147.6 546.8 L147.1 549.1 L146.6 546.3 L146 547.1 L145.5 546.9 L145 546.5 L144.5 547 L144 547.1 L143.4 548.9 L142.9 548.8 L142.4 550.1 L141.9 549.7 L141.4 552.5 L140.9 552.8 L140.4 555.4 L139.9 555.1 L139.4 555.2 L138.9 555.2 L138.3 553.9 L137.8 554.2 L137.3 553.1 L136.8 551.7 L136.2 550.8 L135.7 549.3 L135.2 550.3 L134.7 550 L134.1 550.4 L133.6 552 L133.1 552.4 L132.6 549.9 L132.1 550.8 L131.6 552.2 L131.1 552.7 L130.5 554 L130 556.3 L129.5 557.8 L129 558.3 L128.4 555.6 L127.9 554.9 L127.4 554.4 L126.9 553.1 L126.3 551.8 L125.8 551.5 L125.3 552.4 L124.7 552.2 L124.2 552.1 L123.7 553 L123.1 552.9 L122.6 555 L122 553.9 L121.5 555.2 L121 554.4 L120.4 552.5 L119.9 551.8 L119.4 550.4 L118.9 552.3 L118.3 551.8 L117.8 550.7 L117.3 550.1 L116.8 548.8 L116.3 549 L115.8 549.9 L115.3 550.4 L114.8 551.7 L114.3 551.6 L113.8 552.7 L113.3 553.3 L112.8 555.2 L112.3 554.4 L111.7 554.2 L111.2 555.1 L110.7 555.2 L110.2 557.8 L109.6 556.7 L109.1 557.4 L108.6 557.3 L108.1 555.8 L107.5 555.7 L107 556.4 L106.5 555.7 L106 556.2 L105.4 553.5 L104.8 552.2 L104.2 550.1 L103.6 548 L103.1 548.1 L102.6 547.9 L102.1 546.1 L101.6 545.4 L101.1 544.7 L100.6 543.4 L100.1 543.9 L99.5 544.8 L99 544.7 L98.5 547.7 L98 546.3 L97.5 546.4 L96.9 545.2 L96.4 545.1 L95.9 546.5 L95.4 548.4 L94.8 548 L94.3 548.4 L93.8 549.9 L93.3 551.2 L92.8 550.2 L92.2 549.2 L91.7 548.3 L91.1 547.8 L90.6 547.1 L90 545.8 L89.5 544.9 L89 545.5 L88.5 546.8 L88 546.4 L87.4 547.9 L86.9 548.1 L86.4 549.5 L85.9 548.9 L85.4 547 L84.9 547.6 L84.4 547.8 L83.8 548.1 L83.3 548.3 L82.8 548.4 L82.3 547.5 L81.8 548.8 L81.2 547.6 L80.7 548.2 L80.1 548.1 L79.6 549.5 L79 550 L78.5 548.8 L77.9 549.8 L77.3 547 L76.8 545 L76.2 543 L75.6 540.1 L75.1 542.4 L74.6 543.4 L74 545.8 L73.5 546.1 L73 547.3 L72.5 547.9 L72 548 L71.5 548.4 L71 548.7 L70.5 548.9 L70 549.6 L69.5 549.3 L69 552.1 L68.5 551.4 L68 550.8 L67.5 552.8 L67 552.5 L66.5 550.8 L66 551.5 L65.5 550.5 L65 550.3 L64.5 550.1 L64 550.8 L63.5 549.5 L63 550 L62.5 549.3 L62 549.7 L61.5 549.9 L61 547.8 L60.5 547.7 L60 546.9 L59.5 547 L59 546.7 L58.5 546.7 L58 546.1 L57.4 547.8 L56.8 547.3 L56.2 548.2 L55.6 548.1 L54.9 547 L54.3 547.4 L53.7 543.3 L53.1 540.8 L52.5 538.5Z" fill="#ff0000"/>
<path d="M38.4 331.5 L38.8 335.5 L39.1 339.6 L39.5 343.6 L39.8 347.6 L40.2 351.6 L40.6 355.7 L40.9 359.7 L41.3 363.7 L41.6 367.8 L42 371.8 L42.3 375.8 L42.7 379.9 L43.1 383.9 L43.4 387.9 L43.8 391.9 L44.1 396 L44.5 400 L44.9 404.1 L45.2 408.2 L45.6 412.3 L46 416.4 L46.3 420.5 L46.7 424.5 L47 428.6 L47.4 432.7 L47.8 436.8 L48.1 440.9 L48.5 445 L48.9 449.1 L49.2 453.2 L49.6 457.3 L50 461.4 L50.3 465.5 L50.7 469.5 L51 473.6 L51.4 477.7 L51.8 481.8 L52.1 485.9 L52.5 490 L52.9 494.1 L53.3 498.2 L53.7 502.3 L54.1 506.4 L54.6 510.6 L55 514.7 L55.4 518.8 L55.8 522.9 L56.2 527 L56.6 530.3 L57 533.6 L57.4 536.9" fill="none" stroke="#0000ff" stroke-width="1.8" stroke-linejoin="round" stroke-linecap="round"/>
<path d="M57.4 535.7 L57.8 539 L58.3 541 L58.7 543.4 L59.1 545.2 L59.4 546.9 L59.8 550.8 L60.1 550.5 L60.5 553.5 L60.9 553 L61.3 555.8 L61.6 556.4 L62 556 L62.4 558 L62.8 558 L63.2 559.1 L63.6 558.6 L64 557.9 L64.4 558.5 L64.8 561.4 L65.2 562.2 L65.6 561.1 L66 563 L66.3 563.5 L66.7 562.2 L67.1 564 L67.5 564.5 L67.9 564.6 L68.3 563 L68.7 562.2 L69 562.8 L69.4 562.4 L69.8 562.9 L70.2 561.4 L70.5 560.7 L70.9 559.5 L71.3 558 L71.6 557.6 L72 557.8 L72.4 556.3 L72.7 557.7 L73.1 557.3 L73.4 555.7 L73.8 554.8 L74.2 555.5 L74.5 555.8 L74.9 555.2 L75.2 553 L75.6 552.6 L76 551.9 L76.3 554.4 L76.7 552.1 L77 552.2 L77.4 553.1 L77.7 551.4 L78.1 552.5 L78.4 550.1 L78.8 551.1 L79.1 549.7 L79.5 551.8 L79.8 550 L80.2 551.3 L80.6 551.7 L81 550.2 L81.4 551.3 L81.8 553.2 L82.1 553.4 L82.5 553.1 L82.9 552.7 L83.3 553.3 L83.7 554.2 L84 555 L84.4 555.8 L84.7 556.8 L85.1 556.6 L85.4 556.5 L85.8 556.8 L86.1 557.4 L86.5 556.1 L86.8 556.4 L87.2 558.2 L87.6 558.1 L88 559.5 L88.3 557.8 L88.7 558.3 L89.1 558.2 L89.5 559.5 L89.9 560.1 L90.2 558.2 L90.6 559.2 L91 560.2 L91.4 560.7 L91.7 561.1 L92.1 559.5 L92.4 561.5 L92.8 561 L93.1 562.6 L93.5 560.8 L93.8 563 L94.2 563.5 L94.5 562.8 L94.9 561.8 L95.3 562.5 L95.7 562.7 L96.1 564.4 L96.5 562.4 L96.8 563.3 L97.2 563.3 L97.6 563.9 L98 564.7 L98.4 562.6 L98.7 563.3 L99.1 562.8 L99.5 564.1 L99.8 564.6 L100.2 565 L100.6 564.9 L101 563.2 L101.3 565.7 L101.7 562.8 L102.1 563.8 L102.4 565.5 L102.8 566 L103.1 565.6 L103.5 566.9 L103.8 566.6 L104.2 566.6 L104.6 567 L104.9 567.8 L105.3 567.2 L105.6 569.4 L106 568.2 L106.4 569 L106.7 569.7 L107.1 568.9 L107.5 568.5 L107.8 566.2 L108.2 567.7 L108.6 564.9 L108.9 565.1 L109.3 564.9 L109.7 565.7 L110 566.2 L110.4 563.4 L110.8 564.5 L111.1 564.2 L111.5 565.7 L111.9 563.8 L112.2 566.8 L112.6 565.2 L113 565.1 L113.4 567.3 L113.7 567.2 L114.1 567.7 L114.5 568.1 L114.9 567 L115.3 567 L115.7 568.3 L116 567.5 L116.4 566.9 L116.8 568.2 L117.2 567.8 L117.6 567.5 L118 566.6 L118.4 565.2 L118.8 561.8 L119.1 562 L119.5 560.4 L119.9 558 L120.3 557.5 L120.7 557.4 L121.1 560.3 L121.5 559.6 L121.8 560.2 L122.2 563.1 L122.6 562.1 L123 564.1 L123.4 564.8 L123.8 564.3 L124.1 562.3 L124.5 562.3 L124.9 563.8 L125.2 562.1 L125.6 561.5 L126 561.7 L126.4 559.9 L126.7 561.6 L127.1 561.4 L127.5 562.3 L127.8 560.7 L128.2 562.1 L128.6 563.2 L128.9 563.2 L129.3 562.3 L129.7 564.1 L130.1 563.2 L130.4 563.6 L130.8 563.9 L131.2 561.9 L131.5 561.8 L131.9 561.3 L132.3 561.3 L132.7 559.8 L133 558.4 L133.4 559.4 L133.8 556 L134.1 555.4 L134.5 555.1 L134.9 557.7 L135.3 556.8 L135.7 557.2 L136.1 559.1 L136.4 557.9 L136.8 560.3 L137.2 558.7 L137.6 560.9 L138 561.3 L138.4 559.7 L138.8 558 L139.1 557.2 L139.5 558.4 L139.9 556.1 L140.3 557.5 L140.7 555.4 L141.1 554.6 L141.4 556.7 L141.8 556.9 L142.2 556.9 L142.6 555.1 L142.9 556.4 L143.3 556.9 L143.7 558.4 L144 556.1 L144.4 557.3 L144.8 557.3 L145.1 558.4 L145.5 558.1 L145.9 558 L146.2 558.7 L146.6 559.1 L147 557.9 L147.4 559 L147.7 559 L148.1 559.3 L148.5 560 L148.8 560.2 L149.2 561 L149.5 562.4 L149.9 561.5 L150.2 564.1 L150.6 561.9 L151 563.1 L151.3 564.8 L151.7 565 L152 564.5 L152.4 564.9 L152.8 565 L153.2 562.8 L153.6 562.9 L153.9 562.1 L154.3 558.6 L154.7 559 L155.1 556.6 L155.5 556.4 L155.9 557.7 L156.2 557.1 L156.6 558.1 L156.9 556.8 L157.3 556.9 L157.6 558 L158 557.7 L158.4 557.5 L158.7 556.1 L159.1 555.3 L159.5 556.8 L159.9 555.7 L160.3 556.3 L160.6 556.2 L161 558.3 L161.4 557 L161.8 557.7 L162.2 559.8 L162.6 558.8 L163 558.8 L163.4 558.4 L163.8 559.1 L164.1 559.9 L164.5 558.7 L164.9 558.1 L165.3 558.4 L165.7 559.6 L166 558.7 L166.4 559.8 L166.7 557.4 L167.1 558.7 L167.4 557.4 L167.8 556.8 L168.2 559.2 L168.6 559 L169 559.8 L169.4 561.5 L169.8 562.4 L170.2 562.5 L170.6 564.8 L171 562.8 L171.4 562.4 L171.8 561.3 L172.1 561.1 L172.5 560.9 L172.9 560.2 L173.3 561.3 L173.7 561.5 L174 561.9 L174.4 560 L174.7 561.4 L175.1 561.1 L175.4 558.8 L175.8 559.1 L176.2 559.7 L176.5 562.3 L176.9 562.6 L177.2 561.1 L177.6 562.3 L177.9 562.7 L178.3 564.7 L178.7 564.2 L179 565.9 L179.4 565.7 L179.8 564.1 L180.2 564.2 L180.5 565 L180.9 564.9 L181.3 566.1 L181.6 564.5 L182 566.6 L182.4 565 L182.7 563.6 L183.1 564.5 L183.4 561.9 L183.8 562.4 L184.1 562.2 L184.5 561.2 L184.9 561.7 L185.2 560.4 L185.6 561.7 L186 562.2 L186.4 560.9 L186.8 561.7 L187.1 563.4 L187.5 563.2 L187.9 561.6 L188.2 562.9 L188.6 560.7 L188.9 561.4 L189.3 561.8 L189.6 560.8 L190 559.7 L190.4 561.9 L190.8 562.5 L191.2 563.1 L191.6 562 L191.9 562.2 L192.3 562.6 L192.7 564.6 L193.1 563.5 L193.5 564 L193.8 564.9 L194.2 564.5 L194.6 565.5 L194.9 563.8 L195.3 564.9 L195.7 564.7 L196.1 564 L196.4 566.1 L196.8 566.2 L197.2 565.6 L197.6 562.8 L198 561.4 L198.4 562.7 L198.7 562.6 L199.1 560.2 L199.5 559.4 L199.9 560.2 L200.3 559.8 L200.7 560.4 L201.1 561.1 L201.4 560.9 L201.8 562.2 L202.2 561.8 L202.6 562.7 L203 560.9 L203.4 561.7 L203.7 562.4 L204.1 560.5 L204.5 560.5 L204.8 559.4 L205.2 560 L205.6 556.8 L206 556.8 L206.3 555.8 L206.7 557.3 L207.1 557.9 L207.4 555.9 L207.8 556.5 L208.2 556.7 L208.6 558.1 L208.9 558.7 L209.3 557.6 L209.7 559.7 L210 558.8 L210.4 559.3 L210.8 558.8 L211.2 559 L211.6 557.7 L211.9 557.6 L212.3 560.3 L212.7 558.2 L213.1 558.3 L213.5 560.1 L213.9 557.7 L214.2 556.6 L214.6 558.5 L214.9 556.6 L215.3 556.9 L215.6 555.4 L216 554.5 L216.4 555.2 L216.7 557.3 L217.1 557 L217.4 557.8 L217.8 558.4 L218.2 558.4 L218.5 559.2 L218.9 558.1 L219.2 558.5 L219.6 559.7 L220 561.3 L220.4 559.8 L220.8 561.9 L221.1 562.4 L221.5 562.5 L221.9 561.1 L222.3 561.5 L222.7 563.9 L223.1 561.6 L223.4 560.4 L223.8 561.6 L224.2 561.4 L224.6 561.2 L224.9 560.3 L225.3 559.4 L225.7 558.1 L226 559.2 L226.4 556.7 L226.8 557.9 L227.1 557.5 L227.5 559.5 L227.9 560.4 L228.2 560.5 L228.6 560.7 L229 560.4 L229.4 562.8 L229.7 561.6 L230.1 564.4 L230.5 563.8 L230.8 564.3 L231.2 563.5 L231.6 563.7 L231.9 562 L232.3 563.8 L232.7 562.6 L233.1 562.3 L233.4 561.6 L233.8 562.8 L234.2 562 L234.6 561.5 L235 561.4 L235.4 561.7 L235.7 562.1 L236.1 559.5 L236.5 561.5 L236.9 559.3 L237.3 559.3 L237.6 559.9 L238 559.7 L238.4 557.9 L238.8 557.5 L239.1 557.8 L239.5 557.2 L239.9 556.6 L240.2 556 L240.6 554.7 L241 558 L241.4 556.8 L241.8 559.1 L242.1 558.7 L242.5 557.7 L242.9 558.5 L243.3 559.6 L243.7 559.6 L244.1 559.2 L244.4 561.1 L244.8 560.1 L245.2 559 L245.6 559.9 L245.9 560.3 L246.3 560.7 L246.7 559.3 L247 558.6 L247.4 557.9 L247.8 559.3 L248.1 558.8 L248.5 560 L248.8 557.5 L249.2 556.6 L249.5 557.8 L249.9 558 L250.3 557 L250.6 557.6 L251 557.8 L251.3 560.2 L251.7 559.8 L252 559.4 L252.4 560.1 L252.8 560.4 L253.2 560.3 L253.5 563.4 L253.9 563.8 L254.3 563.1 L254.7 563.8 L255 566.2 L255.4 564.8 L255.8 565.5 L256.2 565.5 L256.6 563 L256.9 563.9 L257.3 561.8 L257.7 563.2 L258.1 560.1 L258.5 559.5 L258.9 561.2 L259.2 560.4 L259.6 560.8 L260 562.2 L260.3 560.3 L260.7 560.6 L261.1 562 L261.4 561 L261.8 561.8 L262.2 561.2 L262.5 562.6 L262.9 562.9 L263.3 560.8 L263.7 562.8 L264.1 563.1 L264.5 560.9 L264.9 562.2 L265.3 560.5 L265.7 561.7 L266.1 561.2 L266.5 559.9 L266.9 558.4 L267.2 557.6 L267.6 556.5 L268 558 L268.4 557.5 L268.8 557.4 L269.2 558.5 L269.6 557.3 L269.9 557.1 L270.3 558.8 L270.7 560.9 L271.1 560.2 L271.5 561.5 L271.9 561.3 L272.2 560.9 L272.6 561.4 L273 561 L273.3 561.8 L273.7 563.8 L274.1 563.8 L274.4 563.1 L274.8 563.6 L275.2 562.6 L275.5 563.7 L275.9 564.7 L276.3 562.4 L276.7 565.3 L277 563 L277.4 562.8 L277.8 562.3 L278.1 562.9 L278.5 563.4 L278.9 561.5 L279.2 563.1 L279.6 562.1 L280 559.7 L280.4 561.1 L280.7 558.9 L281.1 559.9 L281.5 558.1 L281.9 560.5 L282.3 559.3 L282.6 560.5 L283 558.8 L283.4 560.2 L283.8 560 L284.2 559.4 L284.6 560.7 L285 562.8 L285.4 560.5 L285.8 563.7 L286.1 562.3 L286.5 564.2 L286.9 564.7 L287.3 564.4 L287.7 564.9 L288 566.3 L288.4 565.1 L288.7 566.6 L289.1 565.9 L289.4 565.8 L289.8 568.2 L290.2 564.9 L290.5 566.7 L290.9 565.3 L291.2 562.9 L291.6 564.4 L291.9 561.1 L292.3 562.5 L292.7 563.6 L293.1 563.4 L293.5 564.3 L293.9 564 L294.3 564.5 L294.7 565.4 L295.1 564.5 L295.5 561.8 L295.9 560.2 L296.2 559.8 L296.6 558 L297 559.4 L297.4 557 L297.8 557.6 L298.2 555.3 L298.6 556.7 L299 557.4 L299.4 557.1 L299.7 558.4 L300.1 557.4 L300.5 557 L300.9 559.9 L301.3 559.2 L301.6 559 L302 560.8 L302.4 559.2 L302.8 560.3 L303.1 561.3 L303.5 562.8 L303.9 562.4 L304.2 562.5 L304.6 563.4 L305 564.5 L305.4 563 L305.7 562.6 L306.1 563.8 L306.5 562.8 L306.9 563.3 L307.3 564.7 L307.6 564.3 L308 563.7 L308.4 563.3 L308.8 566.2 L309.1 565.7 L309.5 565 L309.9 564.7 L310.2 564.4 L310.6 565.8 L311 565.9 L311.4 565.7 L311.7 564.7 L312.1 564.7 L312.5 565.5 L312.8 563.5 L313.2 564.4 L313.6 564.6 L314 564 L314.3 564.8 L314.7 564.9 L315.1 566 L315.4 564.6 L315.8 564.5 L316.2 565.5 L316.6 564.3 L317 564.9 L317.4 565.5 L317.8 568.5 L318.2 569 L318.6 567.4 L318.9 564.7 L319.3 564.6 L319.6 561.9 L320 561.9 L320.3 560.6 L320.7 559.8 L321.1 558.8 L321.4 561.8 L321.8 561.4 L322.1 563.3 L322.5 561.1 L322.8 563.7 L323.2 564.6" fill="none" stroke="#0000ff" stroke-width="2.7" stroke-linejoin="round" stroke-linecap="round"/>
<path d="M57.4 536 L58 537.6 L58.7 542.5 L59.3 545.3 L59.9 548 L60.5 551.6 L61.1 552 L61.8 553.6 L62.4 554.9 L63 555.7 L63.6 556.4 L64.2 556.9 L64.8 558.2 L65.3 559.3 L65.8 560.6 L66.3 559.7 L66.9 560.8 L67.4 560.9 L67.9 563.2 L68.5 561.4 L69.2 561.8 L69.8 559.7 L70.3 559.2 L70.9 558.1 L71.5 556.3 L72 555.7 L72.5 555.8 L73 555.5 L73.5 555.5 L74.1 553.5 L74.6 553.1 L75.1 552.2 L75.6 550.6 L76.1 550.4 L76.6 550.1 L77.1 551 L77.6 550.8 L78.2 549.9 L78.7 549.7 L79.2 548.8 L79.7 547.1 L80.2 548.1 L80.7 549.4 L81.2 550.2 L81.8 550.6 L82.3 551.9 L82.8 551.9 L83.3 552.2 L83.9 554.1 L84.4 554 L85 553.8 L85.5 554.3 L86.1 553.5 L86.6 555 L87.2 555.4 L87.7 555.7 L88.3 556.9 L88.8 557 L89.4 557 L89.9 555.9 L90.5 557 L91 557.5 L91.6 558.9 L92.1 559.1 L92.7 558.6 L93.2 558.9 L93.8 559.3 L94.3 560.5 L94.9 561.3 L95.4 560.7 L95.9 561 L96.5 561.4 L97 561.4 L97.5 562.1 L98 561.5 L98.5 561.3 L99.1 561.7 L99.6 562.4 L100.1 561.8 L100.6 561.9 L101.2 562.8 L101.7 562 L102.2 562.8 L102.8 563.4 L103.3 565.1 L103.8 563 L104.4 565.8 L104.9 566.4 L105.5 567.6 L106 566.9 L106.5 566.3 L107.1 564.7 L107.7 564.8 L108.2 564.8 L108.8 565 L109.3 562.6 L109.9 563.2 L110.4 560.9 L110.9 562.4 L111.5 563.8 L112 564.3 L112.5 564.7 L113 565.4 L113.6 565.6 L114.1 565.6 L114.6 566.2 L115.1 565.6 L115.7 565.5 L116.2 565.1 L116.7 564.9 L117.2 565 L117.7 564.2 L118.2 562.8 L118.8 561.1 L119.3 558.3 L119.8 555.9 L120.3 557.1 L120.8 557.9 L121.3 559 L121.8 559.6 L122.4 559.7 L122.9 561.3 L123.4 561.3 L123.9 561 L124.5 561.5 L125 560.9 L125.5 560.3 L126 560.1 L126.6 559.9 L127.1 557.7 L127.6 557.4 L128.2 558.8 L128.7 560.5 L129.2 561.4 L129.7 561.3 L130.3 561.2 L130.8 560.9 L131.3 561.3 L131.9 559.2 L132.4 557.9 L132.9 555.7 L133.4 555.5 L134 555.3 L134.5 552.4 L135 554.5 L135.5 555.1 L136.1 556.4 L136.6 557.6 L137.1 556.2 L137.6 558.2 L138.1 557 L138.6 557.4 L139.1 555.8 L139.7 555.7 L140.2 553.4 L140.7 553.1 L141.2 554.9 L141.8 554.2 L142.3 554 L142.8 554.1 L143.3 553.6 L143.9 555 L144.4 555.2 L144.9 554.5 L145.5 555.5 L146 554.7 L146.5 556.3 L147 557.2 L147.6 557 L148.1 557.3 L148.6 557.8 L149.2 560.6 L149.7 560.5 L150.2 561 L150.8 561.5 L151.3 561 L151.9 562.7 L152.4 564.5 L152.9 562.8 L153.4 561.2 L153.9 559.8 L154.5 558.3 L155 556.1 L155.5 554.4 L156 555.6 L156.5 554.9 L157 554.8 L157.5 555.3 L158 553.5 L158.6 554 L159.1 552.6 L159.6 554.1 L160.1 554.9 L160.6 554.7 L161.2 553.3 L161.7 554.9 L162.2 555.9 L162.7 556.1 L163.2 555.1 L163.8 557.8 L164.3 558.1 L164.8 558 L165.3 556.5 L165.8 556.6 L166.3 555.7 L166.8 555.7 L167.3 554.8 L167.8 554.4 L168.4 557.9 L169 558.3 L169.6 559.8 L170.2 561.2 L170.7 560.2 L171.2 559.7 L171.8 560 L172.3 560.2 L172.8 559.6 L173.3 558.3 L173.8 559.2 L174.3 559.1 L174.8 558.7 L175.3 558.4 L175.8 557.3 L176.3 558.1 L176.8 559.3 L177.3 559.6 L177.8 561.2 L178.3 561.7 L178.8 563.3 L179.4 562.7 L179.9 560.6 L180.4 562.1 L180.9 562.9 L181.5 563.8 L182 563 L182.5 561.7 L183 558.9 L183.5 561 L184 559.7 L184.5 558.2 L185 559.2 L185.5 559.7 L186 558.5 L186.5 559.6 L187 560.7 L187.5 561.8 L188 560.3 L188.5 559.5 L189 559.2 L189.5 557.7 L190 559.4 L190.5 560 L191 560.7 L191.6 562 L192.1 561.6 L192.6 563.5 L193.1 563.8 L193.6 564 L194.2 561.9 L194.7 562.1 L195.2 562.6 L195.7 562.1 L196.3 561.7 L196.8 561.5 L197.3 561.8 L197.8 561.4 L198.4 560.5 L198.9 559.6 L199.4 557.2 L199.9 557.8 L200.4 557.6 L200.9 558.7 L201.4 558.8 L202 559.4 L202.5 560.7 L203 560.3 L203.5 556.9 L204.1 557.5 L204.6 557.5 L205.1 557 L205.6 554.8 L206.2 555.7 L206.7 553.3 L207.2 555 L207.8 556 L208.3 555.3 L208.8 555.5 L209.3 556.7 L209.9 557.7 L210.4 558 L210.9 557.5 L211.4 556.5 L211.9 556.6 L212.5 554.5 L213 557.6 L213.5 557.3 L214 557 L214.5 555.5 L215 554.5 L215.5 554.8 L216 553.3 L216.5 554.2 L217 552.3 L217.5 555.8 L218.1 554.7 L218.6 556.7 L219.1 557.7 L219.6 556.2 L220.1 556.5 L220.6 557.7 L221.1 559.2 L221.7 559.3 L222.2 559.8 L222.7 559.8 L223.2 560.8 L223.8 558.6 L224.3 558.4 L224.8 558 L225.3 557 L225.9 557.3 L226.4 555.8 L226.9 556.2 L227.5 557 L228 557.5 L228.5 559.4 L229 561.3 L229.6 561.4 L230.1 560.1 L230.6 561.7 L231.2 561.8 L231.7 560.5 L232.2 560.6 L232.7 559.7 L233.3 560.4 L233.8 559.8 L234.3 559.4 L234.8 559.5 L235.4 557.3 L235.9 558.2 L236.4 559.1 L236.9 558.7 L237.4 557.8 L238 558.1 L238.5 557 L239 555.3 L239.5 552.8 L240.1 554.4 L240.6 554.2 L241.1 556.3 L241.6 557.2 L242.1 556.2 L242.7 557 L243.2 557.4 L243.7 557.5 L244.2 559 L244.8 558.4 L245.3 557.7 L245.8 558.4 L246.3 558 L246.9 558 L247.4 557.2 L247.9 558.2 L248.4 556.7 L248.9 556.3 L249.4 555.8 L249.9 554.3 L250.4 555.4 L250.9 555 L251.4 556.2 L251.9 557.1 L252.4 557.4 L252.9 559.1 L253.4 560.4 L253.9 560.8 L254.4 561.6 L254.9 563.1 L255.4 563.2 L255.9 562.1 L256.4 560.9 L256.9 560.7 L257.5 560.7 L258 560.2 L258.5 558.5 L259.1 559.9 L259.6 559.6 L260.1 560 L260.7 559.3 L261.2 560.1 L261.8 559.6 L262.3 558.2 L262.9 560.9 L263.5 560.1 L264.1 559.6 L264.7 558.5 L265.3 558.3 L265.8 557.5 L266.3 557 L266.9 556.4 L267.4 553.9 L267.9 554.9 L268.4 553.6 L268.9 554.4 L269.4 556.2 L269.9 557.4 L270.5 556.9 L271 556.4 L271.5 558.7 L272.1 556.8 L272.6 558.1 L273.1 560.2 L273.7 560.3 L274.2 560.4 L274.8 560.6 L275.3 560.1 L275.8 562 L276.3 561.4 L276.9 558.9 L277.4 560.2 L277.9 561.9 L278.5 561.1 L279 560.5 L279.5 559.6 L280 558.4 L280.6 557.2 L281.1 557.1 L281.6 557.9 L282.1 558.4 L282.6 558.1 L283.2 559 L283.7 558.7 L284.2 558.8 L284.7 559 L285.2 558.7 L285.8 561.1 L286.3 561.3 L286.8 562 L287.3 561.6 L287.8 561.8 L288.3 563.4 L288.8 563.2 L289.3 564.6 L289.8 564.9 L290.3 564 L290.8 562.4 L291.3 561.4 L291.8 561.1 L292.3 559.5 L292.9 560.6 L293.5 562 L294.1 562.1 L294.7 562.4 L295.2 562.3 L295.7 559.4 L296.2 558.2 L296.8 556.9 L297.3 555.3 L297.8 555 L298.3 554.8 L298.8 555.2 L299.4 556.2 L299.9 556.7 L300.4 556.7 L300.9 555.5 L301.4 556.8 L302 557.4 L302.5 558 L303 558.8 L303.5 560 L304.1 560.2 L304.6 561.4 L305.1 562.4 L305.7 561.6 L306.2 561.6 L306.8 561.5 L307.3 562.3 L307.9 562.7 L308.4 562.9 L308.9 563.3 L309.5 563.8 L310 564 L310.5 564.1 L311 562 L311.6 561.6 L312.1 561.5 L312.6 560.9 L313.2 562.6 L313.7 561.3 L314.2 563 L314.7 561.1 L315.3 561.1 L315.8 562.8 L316.4 560.4 L317 563.8 L317.6 564.6 L318.2 565.6 L318.7 564 L319.2 561.2 L319.7 560.2 L320.2 558.7 L320.7 555.9 L321.2 559.5 L321.7 559.9 L322.2 561 L322.7 561.5 L323.2 561.9 L323.2 567.5 L322.7 565.3 L322.2 565 L321.7 564 L321.2 562.6 L320.7 562 L320.2 562.7 L319.7 564.3 L319.2 565.7 L318.7 567.8 L318.2 569.2 L317.6 569 L317 567.6 L316.4 565.8 L315.8 565.5 L315.3 565.7 L314.7 566.3 L314.2 567.1 L313.7 566.4 L313.2 566.3 L312.6 566.3 L312.1 566.5 L311.6 565.6 L311 566.1 L310.5 567 L310 567.2 L309.5 568.2 L308.9 567 L308.4 568.1 L307.9 566.5 L307.3 566.7 L306.8 566.7 L306.2 566.3 L305.7 565.1 L305.1 565.7 L304.6 565.7 L304.1 564.4 L303.5 563.2 L303 562.9 L302.5 563.3 L302 561.2 L301.4 561 L300.9 560.1 L300.4 560.8 L299.9 560.2 L299.4 559.2 L298.8 561.4 L298.3 559.5 L297.8 558.5 L297.3 559 L296.8 560.2 L296.2 562.9 L295.7 563.8 L295.2 566 L294.7 566.3 L294.1 566.9 L293.5 565.4 L292.9 564.8 L292.3 564.3 L291.8 564.6 L291.3 565.7 L290.8 567.3 L290.3 568 L289.8 568.9 L289.3 567.6 L288.8 567.8 L288.3 566.7 L287.8 566.1 L287.3 565.5 L286.8 567 L286.3 565.2 L285.8 566.4 L285.2 564.7 L284.7 564.5 L284.2 564.8 L283.7 562.5 L283.2 562.4 L282.6 562.2 L282.1 563.2 L281.6 561.7 L281.1 560.8 L280.6 562.2 L280 562.7 L279.5 563.3 L279 564.4 L278.5 566.4 L277.9 565.4 L277.4 564.9 L276.9 564.2 L276.3 564.7 L275.8 565.8 L275.3 564.7 L274.8 564.3 L274.2 563.3 L273.7 564.3 L273.1 563.5 L272.6 563.8 L272.1 562.8 L271.5 562.3 L271 561.8 L270.5 562.2 L269.9 560.3 L269.4 559.4 L268.9 558.8 L268.4 556.9 L267.9 558.8 L267.4 559.4 L266.9 560.3 L266.3 559.9 L265.8 560.7 L265.3 561.4 L264.7 562.2 L264.1 563.3 L263.5 564.2 L262.9 564.4 L262.3 564 L261.8 563.8 L261.2 565.2 L260.7 563.5 L260.1 564 L259.6 564.5 L259.1 564.4 L258.5 562.4 L258 564.8 L257.5 563.8 L256.9 565.5 L256.4 566 L255.9 566.1 L255.4 566.7 L254.9 566.4 L254.4 565.4 L253.9 564.4 L253.4 563.6 L252.9 562.8 L252.4 562.1 L251.9 561.7 L251.4 560.5 L250.9 560.9 L250.4 559.4 L249.9 559.9 L249.4 559.4 L248.9 559.7 L248.4 560.5 L247.9 561.5 L247.4 561.9 L246.9 561.5 L246.3 561.7 L245.8 562.4 L245.3 561.1 L244.8 561.9 L244.2 561.9 L243.7 563.1 L243.2 561.8 L242.7 562.5 L242.1 560.1 L241.6 561.1 L241.1 559.2 L240.6 558.8 L240.1 557.6 L239.5 559.1 L239 559 L238.5 560.1 L238 561.5 L237.4 561.6 L236.9 561.4 L236.4 562.5 L235.9 562.1 L235.4 562.4 L234.8 563.2 L234.3 563.3 L233.8 563.3 L233.3 563.6 L232.7 563.9 L232.2 563.8 L231.7 566.4 L231.2 566.3 L230.6 565.8 L230.1 566.8 L229.6 565.2 L229 565.2 L228.5 563.6 L228 562.1 L227.5 560.6 L226.9 560.4 L226.4 559.6 L225.9 561.6 L225.3 562.3 L224.8 561.5 L224.3 563.8 L223.8 564.1 L223.2 564.3 L222.7 564.3 L222.2 563.5 L221.7 563 L221.1 563.3 L220.6 562.1 L220.1 562.3 L219.6 561.7 L219.1 560.5 L218.6 560.3 L218.1 560.8 L217.5 559.6 L217 557.6 L216.5 557.5 L216 557.8 L215.5 558.8 L215 558.7 L214.5 559.8 L214 563.1 L213.5 561.8 L213 561.1 L212.5 559.6 L211.9 559.7 L211.4 560.3 L210.9 560.5 L210.4 561.9 L209.9 560.9 L209.3 559.7 L208.8 560.8 L208.3 559.5 L207.8 559 L207.2 559.6 L206.7 558.2 L206.2 559.7 L205.6 560.3 L205.1 561.9 L204.6 560.5 L204.1 561 L203.5 562.7 L203 564.1 L202.5 565.1 L202 564.2 L201.4 562.3 L200.9 562.6 L200.4 562.1 L199.9 561.6 L199.4 562.7 L198.9 563.4 L198.4 564.3 L197.8 564.6 L197.3 565.4 L196.8 565.6 L196.3 565.4 L195.7 566.6 L195.2 566.3 L194.7 565.5 L194.2 566.9 L193.6 566.9 L193.1 567.6 L192.6 566.7 L192.1 565.3 L191.6 565.7 L191 564 L190.5 563.8 L190 563 L189.5 563.1 L189 562.3 L188.5 563.4 L188 564.1 L187.5 565.1 L187 564.4 L186.5 563.2 L186 564.6 L185.5 563.1 L185 563.4 L184.5 562.1 L184 563.5 L183.5 564.8 L183 565.3 L182.5 564.8 L182 567.3 L181.5 566.9 L180.9 566.4 L180.4 565.3 L179.9 566.5 L179.4 567.3 L178.8 567.4 L178.3 567.3 L177.8 564.4 L177.3 563.6 L176.8 562.8 L176.3 562.1 L175.8 561.1 L175.3 561.9 L174.8 564.6 L174.3 562.4 L173.8 563.2 L173.3 563.3 L172.8 563.8 L172.3 563.2 L171.8 563.2 L171.2 564.4 L170.7 564.9 L170.2 564.3 L169.6 565.1 L169 562.9 L168.4 562.1 L167.8 560.4 L167.3 560.7 L166.8 559.7 L166.3 559.9 L165.8 561 L165.3 560.6 L164.8 562.1 L164.3 561.5 L163.8 561.3 L163.2 560.1 L162.7 560.1 L162.2 561.5 L161.7 558.6 L161.2 558.6 L160.6 558.9 L160.1 559.6 L159.6 558.3 L159.1 557 L158.6 559.2 L158 558.8 L157.5 558.6 L157 560.7 L156.5 560.1 L156 559.2 L155.5 558.5 L155 559.4 L154.5 561.4 L153.9 562.9 L153.4 566.6 L152.9 567.1 L152.4 568.5 L151.9 566.8 L151.3 565 L150.8 564.5 L150.2 564.9 L149.7 564.6 L149.2 564.9 L148.6 564.1 L148.1 562.5 L147.6 561.2 L147 561 L146.5 560.4 L146 559.9 L145.5 559.2 L144.9 559.4 L144.4 559 L143.9 558.4 L143.3 559 L142.8 557.2 L142.3 560.1 L141.8 557.6 L141.2 558.9 L140.7 557.1 L140.2 557.8 L139.7 559.4 L139.1 559.4 L138.6 560.9 L138.1 561.4 L137.6 562.7 L137.1 561.9 L136.6 560.3 L136.1 560.1 L135.5 558.8 L135 558.6 L134.5 557.9 L134 559.1 L133.4 560.8 L132.9 560.9 L132.4 561.9 L131.9 562.9 L131.3 564.2 L130.8 565.3 L130.3 565.3 L129.7 566.3 L129.2 564.4 L128.7 564.3 L128.2 563.1 L127.6 563.4 L127.1 562.6 L126.6 563 L126 564.2 L125.5 564.2 L125 564.6 L124.5 565.2 L123.9 565.9 L123.4 565.7 L122.9 565.8 L122.4 563.4 L121.8 562.9 L121.3 561.9 L120.8 562.4 L120.3 560.6 L119.8 560.8 L119.3 562.5 L118.8 564.9 L118.2 568 L117.7 567.1 L117.2 569.5 L116.7 568.6 L116.2 569.8 L115.7 569.7 L115.1 569.9 L114.6 570 L114.1 569.9 L113.6 571.1 L113 568.9 L112.5 570.8 L112 568.7 L111.5 567 L110.9 566 L110.4 566 L109.9 566.1 L109.3 567.1 L108.8 568.9 L108.2 571.2 L107.7 569.4 L107.1 569.8 L106.5 569.7 L106 571.5 L105.5 571.3 L104.9 570.9 L104.4 569.7 L103.8 568.4 L103.3 568.8 L102.8 567.4 L102.2 567.2 L101.7 566.8 L101.2 566.4 L100.6 566.5 L100.1 565.5 L99.6 566.1 L99.1 565.7 L98.5 565.8 L98 566 L97.5 565.5 L97 566 L96.5 567.2 L95.9 566.7 L95.4 564.9 L94.9 564.6 L94.3 564.3 L93.8 563 L93.2 561.9 L92.7 562.7 L92.1 563.4 L91.6 563 L91 561.9 L90.5 561.3 L89.9 561.1 L89.4 560.2 L88.8 560.3 L88.3 560.3 L87.7 559.7 L87.2 558.7 L86.6 558.6 L86.1 558.7 L85.5 558.7 L85 557.6 L84.4 558.6 L83.9 558.4 L83.3 558.4 L82.8 555.8 L82.3 556.9 L81.8 554.8 L81.2 553.8 L80.7 552.5 L80.2 553.2 L79.7 552.7 L79.2 552.2 L78.7 553.6 L78.2 554.1 L77.6 554.2 L77.1 554.5 L76.6 554.7 L76.1 554.8 L75.6 555.3 L75.1 555.6 L74.6 556.4 L74.1 557.4 L73.5 560 L73 560.9 L72.5 559.6 L72 560.5 L71.5 561.6 L70.9 562.3 L70.3 563.1 L69.8 564.8 L69.2 564.6 L68.5 565.1 L67.9 565.9 L67.4 565.2 L66.9 564.7 L66.3 564 L65.8 564.7 L65.3 562.6 L64.8 562 L64.2 561.3 L63.6 559.7 L63 559.4 L62.4 560 L61.8 556.8 L61.1 555.4 L60.5 555.4 L59.9 552.1 L59.3 549.3 L58.7 546.6 L58 542.8 L57.4 539.1Z" fill="#0000ff"/>
<text x="180.7" y="611" class="xl" text-anchor="middle" textLength="54.6" lengthAdjust="spacingAndGlyphs">Iterations</text>
<text transform="translate(10.5 452.2) rotate(-90)" class="xl" text-anchor="middle" textLength="61.5" lengthAdjust="spacingAndGlyphs">MSD(dB)</text>
<text x="172.7" y="640.8" class="p" text-anchor="middle">(b)</text>
<rect x="243.2" y="338.3" width="73.8" height="52.3" class="lg" stroke="#8c8c8c"/>
<line x1="246" y1="348" x2="271.9" y2="348" stroke="#00ff00" stroke-width="2"/>
<text transform="translate(272.6 353.8) skewX(-6)" class="tau">τ</text>
<text transform="translate(279.2 352.8) scale(0.87 1)" class="l">=0.001</text>
<line x1="246" y1="364.4" x2="271.9" y2="364.4" stroke="#ff0000" stroke-width="2"/>
<text transform="translate(272.6 370.2) skewX(-6)" class="tau">τ</text>
<text transform="translate(279.2 369.2) scale(0.87 1)" class="l">=0.01</text>
<line x1="246" y1="380.8" x2="271.9" y2="380.8" stroke="#0000ff" stroke-width="2"/>
<text transform="translate(272.6 386.6) skewX(-6)" class="tau">τ</text>
<text transform="translate(279.2 385.6) scale(0.87 1)" class="l">=0.1</text>
<line x1="440.6" y1="334.6" x2="440.6" y2="574" class="g"/>
<line x1="497.6" y1="334.6" x2="497.6" y2="574" class="g"/>
<line x1="554.7" y1="334.6" x2="554.7" y2="574" class="g"/>
<line x1="611.7" y1="334.6" x2="611.7" y2="574" class="g"/>
<line x1="383.6" y1="394.5" x2="668.7" y2="394.5" class="g"/>
<line x1="383.6" y1="454.3" x2="668.7" y2="454.3" class="g"/>
<line x1="383.6" y1="514.1" x2="668.7" y2="514.1" class="g"/>
<line x1="383.1" y1="334.5" x2="669.2" y2="334.5" stroke="#777777"/>
<line x1="383.1" y1="574.5" x2="669.2" y2="574.5" stroke="#909090"/>
<line x1="383.5" y1="334.1" x2="383.5" y2="574.5" stroke="#999999"/>
<line x1="668.5" y1="334.1" x2="668.5" y2="574.5" stroke="#808080"/>
<text transform="translate(383.6 592.1) scale(0.91 1)" class="n" text-anchor="middle">0</text>
<line x1="440.6" y1="574" x2="440.6" y2="570.5" class="t"/>
<line x1="440.6" y1="334.6" x2="440.6" y2="338.1" class="t"/>
<text transform="translate(440.6 592.1) scale(0.91 1)" class="n" text-anchor="middle">2000</text>
<line x1="497.6" y1="574" x2="497.6" y2="570.5" class="t"/>
<line x1="497.6" y1="334.6" x2="497.6" y2="338.1" class="t"/>
<text transform="translate(497.6 592.1) scale(0.91 1)" class="n" text-anchor="middle">4000</text>
<line x1="554.7" y1="574" x2="554.7" y2="570.5" class="t"/>
<line x1="554.7" y1="334.6" x2="554.7" y2="338.1" class="t"/>
<text transform="translate(554.7 592.1) scale(0.91 1)" class="n" text-anchor="middle">6000</text>
<line x1="611.7" y1="574" x2="611.7" y2="570.5" class="t"/>
<line x1="611.7" y1="334.6" x2="611.7" y2="338.1" class="t"/>
<text transform="translate(611.7 592.1) scale(0.91 1)" class="n" text-anchor="middle">8000</text>
<text transform="translate(668.7 592.1) scale(0.91 1)" class="n" text-anchor="middle">10000</text>
<text transform="translate(378.9 338.7) scale(0.91 1)" class="n" text-anchor="end">0</text>
<line x1="383.6" y1="394.5" x2="387.1" y2="394.5" class="t"/>
<line x1="668.7" y1="394.5" x2="665.2" y2="394.5" class="t"/>
<text transform="translate(378.9 398.6) scale(0.91 1)" class="n" text-anchor="end">-5</text>
<line x1="383.6" y1="454.3" x2="387.1" y2="454.3" class="t"/>
<line x1="668.7" y1="454.3" x2="665.2" y2="454.3" class="t"/>
<text transform="translate(378.9 458.4) scale(0.91 1)" class="n" text-anchor="end">-10</text>
<line x1="383.6" y1="514.1" x2="387.1" y2="514.1" class="t"/>
<line x1="668.7" y1="514.1" x2="665.2" y2="514.1" class="t"/>
<text transform="translate(378.9 518.2) scale(0.91 1)" class="n" text-anchor="end">-15</text>
<text transform="translate(378.9 578.1) scale(0.91 1)" class="n" text-anchor="end">-20</text>
<path d="M383.9 334.8 L384.3 339.8 L384.6 344.8 L385 349.9 L385.3 354.9 L385.7 359.9 L386 364.9 L386.4 370 L386.7 375 L387.1 380 L387.5 384.6 L387.9 389.2 L388.2 393.8 L388.6 398.4 L389 403 L389.4 407.6 L389.8 412.2 L390.1 416.8 L390.5 421.4 L390.9 426 L391.3 429.5 L391.7 433 L392.1 436.5 L392.5 440 L392.9 442.8 L393.3 445.7 L393.6 448.5 L394 451.4 L394.4 454.2 L394.6 460 L395 462.6 L395.4 465.3 L395.8 467.9 L396.2 470.6 L396.6 473.2" fill="none" stroke="#00ff00" stroke-width="1.8" stroke-linejoin="round" stroke-linecap="round"/>
<path d="M396.6 473.5 L397 476.2 L397.3 475.2 L397.7 479.1 L398.1 479.6 L398.5 479.3 L398.8 481.7 L399.2 482.6 L399.6 485.8 L399.9 486.1 L400.3 487.7 L400.7 486.1 L401.1 488.2 L401.4 490.4 L401.8 489.2 L402.2 488.5 L402.6 488 L403 487.4 L403.4 484.2 L403.8 482.9 L404.2 483.6 L404.6 486.5 L405 488.1 L405.4 487.6 L405.8 489.2 L406.2 490.8 L406.5 491.8 L406.9 490.7 L407.3 493.8 L407.6 493.3 L408 494.1 L408.4 494.8 L408.7 494.6 L409.1 495.8 L409.5 493.9 L409.9 493.6 L410.3 491.6 L410.7 488.9 L411.1 488.5 L411.5 487.1 L411.9 489 L412.2 486.1 L412.6 486.6 L413 487 L413.4 484.9 L413.8 482.6 L414.2 482 L414.5 481.5 L414.9 479.9 L415.3 480.5 L415.7 477.6 L416.1 481.3 L416.5 482.1 L416.8 482.3 L417.2 484.5 L417.6 486.5 L418 487.9 L418.5 492.8 L418.9 493.1 L419.3 493.4 L419.6 491.6 L420 491.3 L420.4 489 L420.8 489.1 L421.2 490.3 L421.6 489.3 L422 489.2 L422.4 490.4 L422.7 492.7 L423.1 492.9 L423.4 492.6 L423.8 495.1 L424.1 494.5 L424.4 495 L424.8 496.7 L425.2 496.9 L425.5 497 L425.9 496.1 L426.3 495.6 L426.6 497.5 L427 495.1 L427.4 496.2 L427.8 496.9 L428.1 495.3 L428.5 496.1 L428.9 494.6 L429.2 495.3 L429.6 493.2 L430 495.5 L430.4 495.1 L430.7 494.8 L431.1 493.5 L431.5 492.5 L431.8 492.6 L432.2 492.8 L432.6 494 L432.9 493.7 L433.2 494.2 L433.6 494.7 L433.9 495.9 L434.3 498.1 L434.6 497.1 L435 499.6 L435.4 496.8 L435.7 497.9 L436.1 495.1 L436.5 494.7 L436.9 494.8 L437.2 493.3 L437.6 490.3 L438 490.8 L438.3 488.9 L438.7 489.6 L439.1 486.6 L439.4 487.1 L439.8 485.9 L440.1 485.4 L440.4 485.1 L440.8 483.7 L441.1 484.1 L441.5 483 L441.9 481.8 L442.2 481.7 L442.6 483 L443 482.7 L443.5 482.9 L443.9 485.1 L444.4 488 L444.8 488.1 L445.1 489.4 L445.4 492 L445.8 491.9 L446.1 494.4 L446.5 497.8 L446.9 496.3 L447.2 497.8 L447.6 499.7 L447.9 500.5 L448.2 501.2 L448.6 503.8 L448.9 505.3 L449.3 504.8 L449.7 504.9 L450.1 502.4 L450.5 500.6 L450.8 497.5 L451.2 496.7 L451.6 495.8 L452 493.5 L452.4 493.3 L452.7 493.6 L453.1 496 L453.4 498.6 L453.8 499 L454.1 500.9 L454.5 500.5 L454.9 499 L455.3 497.7 L455.7 498.6 L456.1 497.1 L456.5 496.6 L456.9 495.3 L457.2 497.3 L457.6 498.9 L457.9 500.9 L458.3 502 L458.6 502.9 L459 505.2 L459.3 506.3 L459.7 507.7 L460.1 504.7 L460.4 506.3 L460.8 503.9 L461.1 502.4 L461.4 502.8 L461.8 500.1 L462.1 500.5 L462.5 497.9 L462.9 499.4 L463.2 499.4 L463.6 498.9 L463.9 498 L464.2 498.4 L464.6 496.3 L464.9 496.8 L465.3 496.7 L465.7 496.5 L466 499.2 L466.4 499.9 L466.7 499.4 L467.1 498.5 L467.4 500.1 L467.8 502 L468.1 502.1 L468.5 501.9 L468.9 500.6 L469.3 500.5 L469.6 499.9 L470 499.4 L470.4 497.3 L470.8 497.2 L471.2 496.8 L471.5 494.4 L471.9 495.7 L472.2 492.5 L472.6 492.9 L472.9 491 L473.2 492.7 L473.6 491.6 L473.9 488.9 L474.3 489 L474.7 490.8 L475 490.1 L475.4 490.7 L475.7 491.7 L476.1 492.7 L476.4 493.7 L476.8 493.6 L477.1 494.5 L477.5 497.7 L477.9 496.5 L478.4 498.3 L478.8 499.7 L479.2 502 L479.6 500.7 L479.9 498.5 L480.2 498.1 L480.6 495 L480.9 492.2 L481.3 490.5 L481.7 492.8 L482 492.3 L482.4 495.2 L482.7 496 L483.1 495.6 L483.4 498.7 L483.8 499.7 L484.1 498.8 L484.5 497.8 L484.9 498.3 L485.3 497.4 L485.7 498.6 L486.1 496.2 L486.5 496.9 L486.9 496.2 L487.3 498.2 L487.7 497.8 L488.1 497.7 L488.4 498.2 L488.8 500.2 L489.2 500.8 L489.6 501.7 L490 502.3 L490.4 500.7 L490.9 500.8 L491.3 499.1 L491.7 498.4 L492.1 500.3 L492.4 501.7 L492.8 501.2 L493.1 503.7 L493.4 501.7 L493.8 502.4 L494.1 503.4 L494.5 503.9 L494.9 504 L495.2 504.5 L495.6 507.3 L495.9 505.7 L496.2 507.7 L496.6 508.1 L496.9 507.1 L497.3 508.4 L497.7 508.5 L498 508.4 L498.4 508.4 L498.7 508.6 L499.1 507.2 L499.4 509 L499.8 509.1 L500.1 510.1 L500.5 509.1 L500.9 507.6 L501.2 507.2 L501.6 505.5 L502 504.7 L502.4 503.8 L502.7 504.4 L503.1 502.8 L503.5 503.6 L503.9 506.1 L504.3 507.6 L504.7 506.3 L505.1 509.8 L505.5 509 L505.9 510.2 L506.2 509.5 L506.6 508.8 L506.9 507.3 L507.3 505.9 L507.6 503.8 L508 502.4 L508.3 499.2 L508.7 499.4 L509 496.6 L509.4 497.7 L509.8 496.3 L510.2 497.9 L510.6 496.6 L510.9 499.4 L511.3 498 L511.7 498.1 L512.1 499.3 L512.5 501.2 L512.9 501.8 L513.3 501.7 L513.7 502.8 L514.1 502.4 L514.5 503.8 L514.9 504.3 L515.2 506.2 L515.6 503.2 L516 503.9 L516.3 503.1 L516.6 500.7 L517 502.1 L517.4 501.5 L517.7 500.7 L518.1 500.1 L518.5 501.4 L518.9 504.6 L519.3 506.9 L519.7 507.6 L520.1 506.9 L520.5 510.2 L520.9 507 L521.3 505.8 L521.7 504.9 L522.1 504.3 L522.5 501.7 L522.9 500 L523.3 499.9 L523.7 497.4 L524 496.2 L524.4 494.1 L524.8 493.3 L525.2 493.5 L525.5 489.9 L525.9 490.2 L526.3 488.2 L526.7 491.3 L527 492.2 L527.4 495 L527.7 497.6 L528.1 500.5 L528.4 500.2 L528.8 503.4 L529.1 503.9 L529.5 502.3 L529.9 502.8 L530.2 503.3 L530.5 504 L530.9 503 L531.2 503.8 L531.6 504.6 L532 505.2 L532.3 505.2 L532.6 504.5 L533 501.6 L533.4 501.1 L533.7 502.1 L534.1 501.4 L534.4 499.8 L534.8 500.4 L535.1 501.2 L535.5 499.4 L535.8 498.8 L536.1 498 L536.5 498.4 L536.9 498.9 L537.2 497.3 L537.6 496.1 L537.9 496.6 L538.2 495.7 L538.6 495.4 L539 496 L539.4 496.3 L539.8 499.4 L540.2 499.3 L540.6 499.7 L541 501.8 L541.4 502.5 L541.8 504.4 L542.1 502.7 L542.5 505.5 L542.8 505.1 L543.1 504 L543.5 506.2 L543.9 505.6 L544.2 506.5 L544.6 506.4 L545 506.8 L545.4 508.1 L545.7 509.7 L546.1 511.7 L546.5 511.5 L546.9 511.8 L547.2 513.1 L547.6 513.6 L548 513 L548.3 512.5 L548.6 515.5 L549 513.8 L549.4 514.4 L549.7 515.3 L550.1 516.4 L550.4 515.4 L550.8 515.2 L551.1 514.3 L551.5 516 L551.8 515.8 L552.2 515.3 L552.5 516 L552.9 513.3 L553.2 515.5 L553.6 513.7 L554 511.3 L554.4 509.4 L554.8 509.6 L555.2 507.4 L555.6 506.3 L556 502 L556.4 503.5 L556.8 501.5 L557.2 500.2 L557.6 502 L558 501.6 L558.4 500.7 L558.8 499.3 L559.2 500.6 L559.6 500.3 L560 503.2 L560.3 503.2 L560.7 506 L561.1 504.9 L561.5 503.8 L561.9 502.5 L562.3 501.8 L562.7 499.7 L563.1 498.4 L563.5 497.3 L563.9 494.7 L564.2 495.3 L564.6 493.2 L565 493.9 L565.3 493.8 L565.6 493 L566 490.9 L566.4 494.3 L566.8 497.4 L567.2 497.7 L567.6 499.4 L568 503 L568.4 502.6 L568.8 502.1 L569.2 500.7 L569.6 499.6 L570 498.9 L570.4 500 L570.8 498.2 L571.1 498.5 L571.5 495.8 L571.8 495.6 L572.2 495 L572.5 493.9 L572.9 491.7 L573.2 494.3 L573.6 497 L574 498.3 L574.3 499.1 L574.6 499.6 L575 501.4 L575.4 500.1 L575.8 497.9 L576.2 498.2 L576.6 496.3 L577 492.9 L577.4 494 L577.8 490.8 L578.1 493.1 L578.5 492.1 L578.9 494.5 L579.2 496.4 L579.5 496.7 L579.9 496.5 L580.2 499.5 L580.6 498.7 L581 500.3 L581.3 502 L581.7 502.7 L582 505.9 L582.4 506.1 L582.7 506.4 L583.1 507.2 L583.5 508.6 L583.9 509.1 L584.3 506.7 L584.7 508.8 L585.1 509.3 L585.5 506.8 L585.9 509.1 L586.3 510.9 L586.7 510.8 L587 512.4 L587.4 512.4 L587.8 511.7 L588.2 514.3 L588.6 511.7 L589 509 L589.4 508.4 L589.8 505.8 L590.2 506.9 L590.6 502.8 L591 503.8 L591.4 500.7 L591.7 499.4 L592 500.1 L592.4 498.8 L592.8 497.6 L593.1 495.9 L593.5 496.5 L593.8 496.9 L594.1 498.8 L594.5 498 L594.9 499.3 L595.2 498.7 L595.6 498.4 L595.9 498.1 L596.2 499.6 L596.6 500.4 L597 499.6 L597.3 501.7 L597.6 503.8 L598 503.7 L598.4 506.9 L598.7 506.8 L599.1 508.5 L599.4 507.9 L599.8 511 L600.1 510.6 L600.5 508.9 L600.8 508.8 L601.2 507 L601.5 506.8 L601.9 507.1 L602.2 504.5 L602.6 502.3 L603 502.2 L603.4 499.4 L603.8 498.4 L604.2 497.4 L604.6 495.8 L605 495.7 L605.4 495.3 L605.8 497 L606.2 495.2 L606.6 497.8 L607 495.2 L607.4 497.2 L607.7 496.6 L608 496.2 L608.4 496.5 L608.8 494.4 L609.1 495 L609.5 495.9 L609.8 495.4 L610.2 498.3 L610.5 500 L610.9 500.2 L611.2 501.3 L611.6 502 L612 503 L612.4 504.6 L612.8 505.5 L613.2 506.6 L613.6 508.6 L614 510.4 L614.4 510.6 L614.8 508.5 L615.2 510.5 L615.6 509.8 L616 508.3 L616.4 506.8 L616.8 507.8 L617.2 505.6 L617.5 505.4 L617.9 506.4 L618.3 505.1 L618.7 506.2 L619 504.8 L619.4 504.5 L619.8 504.4 L620.1 502.4 L620.5 501.2 L620.9 501 L621.2 498.4 L621.5 497.7 L621.9 496.5 L622.2 497.6 L622.6 496.2 L623 496.1 L623.4 499.5 L623.8 498.6 L624.2 500.1 L624.6 501.7 L625 504.4 L625.4 505.1 L625.8 506.7 L626.2 506.4 L626.6 506.9 L627 507.1 L627.4 507.6 L627.8 505.6 L628.1 505.5 L628.5 503.5 L628.8 501.4 L629.1 500.3 L629.5 498.5 L629.9 496.7 L630.2 496.3 L630.6 499.2 L631 501 L631.5 501.5 L631.9 504.9 L632.3 507.4 L632.6 509.6 L633 508 L633.4 508.5 L633.7 508.4 L634 508.8 L634.4 510.3 L634.8 511 L635.1 512 L635.5 511 L635.8 514.3 L636.1 514.5 L636.5 513.1 L636.9 514.4 L637.2 515.8 L637.6 514.5 L637.9 515.5 L638.2 516 L638.6 517.5 L639 517.3 L639.4 516.7 L639.8 514.6 L640.2 512.8 L640.6 512.2 L641 512.2 L641.4 510.6 L641.8 510.6 L642.1 511.6 L642.4 510.1 L642.8 509 L643.1 508.7 L643.5 509.5 L643.9 509.3 L644.2 507.9 L644.5 505.5 L644.9 507.2 L645.3 507.5 L645.7 506.4 L646.1 505.8 L646.4 507.5 L646.8 508.1 L647.2 508.8 L647.6 508.6 L648 505.3 L648.3 503.6 L648.7 504.4 L649 502.7 L649.4 500.6 L649.7 497.3 L650.1 498.2 L650.5 500.2 L650.9 502 L651.3 502 L651.7 502.2 L652.1 503 L652.5 503.3 L652.9 503.9 L653.3 502.3 L653.7 503.1 L654.1 501.2 L654.5 500.8 L654.9 501.9 L655.3 500.4 L655.6 499.1 L656 497.1 L656.4 497.6 L656.7 496.3 L657 496.2 L657.4 494.4 L657.8 494.8 L658.1 494 L658.5 496.1 L658.9 495.4 L659.3 497.5 L659.7 497.8 L660.1 498.6 L660.5 500 L660.9 501 L661.2 500 L661.6 501.6 L662 502 L662.3 504.8 L662.6 504.4 L663 506.3 L663.4 507.3 L663.7 505 L664 504.2 L664.4 503 L664.8 503.7 L665.1 502 L665.5 499.9 L665.8 498.9 L666.2 494.7 L666.5 492.2 L666.9 492.8 L667.3 493.9 L667.7 495.1 L668.1 496.7 L668.5 497.3" fill="none" stroke="#00ff00" stroke-width="2.7" stroke-linejoin="round" stroke-linecap="round"/>
<path d="M396.6 471.5 L397.1 473.8 L397.6 475.4 L398.2 476.9 L398.7 479.2 L399.2 480.1 L399.7 482.9 L400.2 483.9 L400.8 485.7 L401.3 485.8 L401.8 486.7 L402.3 487.1 L402.8 484.8 L403.3 483.3 L403.8 482.8 L404.3 484 L404.8 484.4 L405.3 485.7 L405.8 487.8 L406.4 488.9 L406.9 489.9 L407.5 488.8 L408 491.9 L408.6 493 L409.1 492.4 L409.6 492.2 L410.1 490.8 L410.6 488.1 L411.1 486.4 L411.7 486.2 L412.4 485.3 L413 484.4 L413.5 482.9 L414.1 481.3 L414.6 480.1 L415.2 478.5 L415.7 477.5 L416.3 479.3 L417 480.2 L417.6 484.7 L418.2 487.8 L418.9 492.1 L419.4 491.1 L420 488.3 L420.5 487.6 L421 487.9 L421.5 487.8 L422 488.9 L422.6 489.9 L423.1 491.2 L423.7 492.4 L424.2 494.2 L424.8 496 L425.3 494.7 L425.9 494.3 L426.4 494 L426.9 493.3 L427.4 493.3 L428 493.5 L428.5 492.3 L429 493 L429.6 493.2 L430.1 492.1 L430.6 489.2 L431.1 490.5 L431.7 491 L432.2 490.1 L432.8 491.6 L433.3 493.5 L433.9 494.5 L434.4 495.8 L435 497.6 L435.5 497.1 L436.1 494.5 L436.6 493.2 L437.1 491.9 L437.6 489.1 L438.2 486.6 L438.7 484.8 L439.3 483.1 L439.8 483.3 L440.4 482.7 L440.9 481.9 L441.5 479.8 L442 479.3 L442.5 479.7 L443 480.3 L443.7 483.6 L444.4 486.1 L444.9 488.1 L445.4 489.5 L446 492.4 L446.5 493 L447.1 496.1 L447.6 497.8 L448.2 500.9 L448.7 502.7 L449.3 505.4 L449.8 501.1 L450.4 498.8 L450.9 495.9 L451.5 492.8 L452 489.1 L452.5 491.2 L453.1 494.9 L453.6 496.5 L454.1 498.3 L454.7 498.3 L455.2 495.8 L455.8 496.6 L456.3 495.6 L456.9 494.6 L457.5 497 L458 498.4 L458.6 500 L459.1 502.7 L459.7 504.8 L460.3 503.5 L460.8 501.5 L461.4 500.4 L461.9 497.4 L462.5 497.6 L463.1 497.7 L463.6 497.1 L464.2 496 L464.7 494.7 L465.3 494.1 L465.9 495 L466.4 497.2 L467 498.1 L467.5 498.5 L468.1 498.5 L468.6 497.8 L469.2 497.7 L469.7 498 L470.3 495.9 L470.8 495.3 L471.3 493.5 L471.8 492.3 L472.3 491.8 L472.8 491.4 L473.3 490.2 L473.8 488.2 L474.3 487.8 L474.9 489.1 L475.4 490.8 L476 491.4 L476.5 492.7 L477.1 493 L477.6 495.8 L478.1 497.1 L478.7 499 L479.2 500.1 L479.7 497 L480.2 494.2 L480.8 491.4 L481.3 488.8 L481.9 492.1 L482.4 494 L483 494.4 L483.5 495.1 L484.1 497.5 L484.7 495.7 L485.2 496.3 L485.8 495.3 L486.3 494.1 L486.9 492.6 L487.4 494.7 L488 495.6 L488.5 497.7 L489.1 498.5 L489.6 498.4 L490.1 499.7 L490.6 499.8 L491.2 499.4 L491.7 497.7 L492.3 495.9 L492.8 499.5 L493.4 499.3 L493.9 501.7 L494.5 503.5 L495.1 504.8 L495.6 504.5 L496.2 505.1 L496.7 505.1 L497.3 505.4 L497.9 505.6 L498.4 505.9 L499 505.4 L499.5 506.3 L500.1 507 L500.6 504.7 L501.1 504.3 L501.6 502.8 L502.1 503.2 L502.6 503.2 L503.1 501.5 L503.7 502.5 L504.2 504.5 L504.8 505.8 L505.3 507.2 L505.9 509.2 L506.4 506.3 L506.9 502.3 L507.4 501.2 L507.9 500.4 L508.4 498.9 L508.9 496.9 L509.4 493.9 L509.9 494.9 L510.5 495 L511 496 L511.6 497.3 L512.1 497.3 L512.7 500.2 L513.2 501.5 L513.8 502.3 L514.3 502.8 L514.9 501.2 L515.5 501.9 L516 500.8 L516.6 500.4 L517.1 498.9 L517.7 498.5 L518.3 500.1 L518.8 500.9 L519.4 504.7 L519.9 505.8 L520.5 507.7 L521.1 503.8 L521.6 502 L522.2 502.2 L522.7 499.7 L523.3 496.2 L523.8 495.3 L524.3 494.7 L524.8 493.3 L525.3 490.5 L525.8 488.4 L526.3 487.9 L526.8 491.2 L527.3 492.7 L527.8 494.4 L528.3 498.7 L528.8 502.4 L529.4 502.8 L529.9 501.7 L530.5 502.1 L531 502.3 L531.6 503.1 L532.1 501.5 L532.6 501.8 L533.1 500.6 L533.6 500.4 L534.1 500.1 L534.6 498.5 L535.1 498.2 L535.6 496.8 L536.1 497 L536.6 494.5 L537.1 494.5 L537.6 494.8 L538.1 494.3 L538.6 493.8 L539.2 494.9 L539.7 497.5 L540.3 498.3 L540.8 499.8 L541.4 501.3 L542 501.7 L542.5 502.9 L543.1 502.8 L543.6 504.5 L544.2 504.4 L544.7 505.1 L545.3 506.7 L545.8 508.4 L546.4 508.5 L546.9 510.1 L547.5 510.9 L548 510 L548.6 511.9 L549.1 511.8 L549.7 514 L550.2 512.6 L550.7 513.2 L551.2 512.9 L551.7 514.6 L552.2 514.3 L552.7 513.3 L553.2 512.2 L553.8 509.5 L554.3 508.3 L554.9 505.4 L555.4 504.4 L556 502.2 L556.6 501 L557.1 500.5 L557.7 498.4 L558.2 498.7 L558.8 496.3 L559.4 497.7 L560 500.8 L560.5 502.9 L561.1 505.6 L561.7 502.2 L562.2 499.5 L562.8 497.1 L563.3 496 L563.9 494.5 L564.4 493.4 L565 492 L565.5 490.7 L566 489.5 L566.5 491.4 L567 494.2 L567.5 496.7 L568 499.7 L568.6 499.2 L569.1 498.9 L569.7 498.7 L570.2 498.6 L570.8 496.4 L571.3 496.1 L571.8 493.2 L572.4 492 L572.9 491.5 L573.4 493 L574 495 L574.5 496.3 L575 500.4 L575.6 499.3 L576.1 496.6 L576.7 493.8 L577.2 491 L577.8 488.7 L578.4 490.1 L578.9 491.6 L579.5 494 L580 495.9 L580.6 497.6 L581.1 499.5 L581.7 501.2 L582.2 503.2 L582.7 504.3 L583.3 506 L583.8 506.3 L584.4 507 L584.9 505.7 L585.5 505 L586 505.3 L586.6 507.8 L587.1 508.9 L587.7 509.8 L588.2 512.3 L588.8 510.5 L589.3 507.5 L589.9 506.3 L590.4 501.9 L591 499.8 L591.5 498.5 L592 497.1 L592.6 495 L593.1 494.2 L593.6 495.4 L594.1 494.2 L594.6 495.3 L595.1 496 L595.6 497.3 L596.1 498.4 L596.6 498.5 L597.1 500.1 L597.6 501 L598.1 502.8 L598.6 502.6 L599.1 505.3 L599.6 508.1 L600.1 507.4 L600.6 507.7 L601.2 505.8 L601.7 504.4 L602.2 504.1 L602.7 500.6 L603.2 498.5 L603.7 497.3 L604.2 494.2 L604.8 494.4 L605.3 493.2 L605.9 493.8 L606.4 494.6 L607 495.1 L607.5 494.9 L608 494 L608.6 492.9 L609.1 491.5 L609.6 495 L610.2 495.5 L610.7 497.1 L611.2 498.9 L611.8 500.7 L612.3 502.4 L612.9 504.9 L613.4 507.1 L614 508.4 L614.6 506.1 L615.1 507.2 L615.7 506.8 L616.2 506.4 L616.8 505.8 L617.3 505 L617.8 504.4 L618.3 502.8 L618.8 502.4 L619.3 501.9 L619.8 502.3 L620.4 500.6 L620.9 498.4 L621.5 496.8 L622 495 L622.6 492.5 L623.2 495.3 L623.7 496.6 L624.3 498.8 L624.8 499.8 L625.4 503.1 L625.9 504.4 L626.4 505.4 L626.9 506.1 L627.4 505.5 L628 502 L628.5 499.7 L629.1 497.2 L629.6 495.5 L630.2 494.4 L630.7 497.7 L631.2 499.6 L631.8 502.3 L632.3 505.5 L632.9 507.8 L633.4 509.1 L634 509 L634.5 509.5 L635.1 509.3 L635.6 511.3 L636.1 511.1 L636.6 513.4 L637.1 513.2 L637.6 513.7 L638.1 514.1 L638.6 515.2 L639.2 514.4 L639.7 513.3 L640.3 512.4 L640.8 509.8 L641.4 509.3 L641.9 509.5 L642.4 509.3 L642.9 508.5 L643.4 507.1 L643.9 506.2 L644.4 505.2 L644.9 503.7 L645.4 505 L646 504.2 L646.5 504.7 L647.1 504 L647.6 503.6 L648.1 502.5 L648.7 500.1 L649.2 497.4 L649.7 496.1 L650.3 498.3 L650.8 498.3 L651.4 499.1 L651.9 500.7 L652.5 501.2 L653.1 499.7 L653.6 499.8 L654.2 499.7 L654.7 500 L655.3 496.7 L655.9 497.4 L656.4 495.8 L657 494.2 L657.5 492.5 L658.1 492.6 L658.7 495 L659.2 495.1 L659.8 496 L660.3 497.4 L660.9 498 L661.4 499.6 L662 499 L662.5 503.9 L663 505.1 L663.5 504.9 L664 503.5 L664.6 502.1 L665.1 499.8 L665.7 496.7 L666.3 491.8 L666.9 489.6 L667.4 490.8 L668 492.8 L668.5 494.8 L668.5 497.8 L668 496.6 L667.4 494.5 L666.9 493.2 L666.3 497 L665.7 500.6 L665.1 503.7 L664.6 505.1 L664 507.1 L663.5 508.2 L663 509.5 L662.5 506.7 L662 504.4 L661.4 505.2 L660.9 502.6 L660.3 501.5 L659.8 499.7 L659.2 500.1 L658.7 498.1 L658.1 497 L657.5 496.8 L657 497.8 L656.4 498.8 L655.9 500.8 L655.3 501.7 L654.7 504.1 L654.2 503.8 L653.6 504.2 L653.1 504.8 L652.5 505.6 L651.9 505.3 L651.4 503.7 L650.8 503.4 L650.3 502.1 L649.7 500 L649.2 502.5 L648.7 503.6 L648.1 506.4 L647.6 509.3 L647.1 508.3 L646.5 508.2 L646 507.8 L645.4 508.7 L644.9 508.5 L644.4 509.2 L643.9 510 L643.4 510.9 L642.9 512.6 L642.4 512.6 L641.9 512.9 L641.4 513.1 L640.8 515 L640.3 515.4 L639.7 517.3 L639.2 518.4 L638.6 518.8 L638.1 518.1 L637.6 517.2 L637.1 517 L636.6 516.8 L636.1 517 L635.6 515 L635.1 514.1 L634.5 513.6 L634 513.1 L633.4 513.3 L632.9 512.7 L632.3 509.4 L631.8 506.3 L631.2 503.6 L630.7 501 L630.2 498.1 L629.6 499.5 L629.1 501.6 L628.5 504.9 L628 505.4 L627.4 509.4 L626.9 509.9 L626.4 509.7 L625.9 508.5 L625.4 506.9 L624.8 505.4 L624.3 501.5 L623.7 501.9 L623.2 498.3 L622.6 496.8 L622 498.9 L621.5 499.8 L620.9 503.4 L620.4 504.2 L619.8 506.2 L619.3 505.3 L618.8 505.5 L618.3 507.3 L617.8 507.3 L617.3 508.4 L616.8 509.2 L616.2 509.5 L615.7 512.8 L615.1 511.7 L614.6 512.1 L614 512.1 L613.4 510.2 L612.9 509.1 L612.3 507.3 L611.8 504.7 L611.2 503.3 L610.7 502.7 L610.2 500.5 L609.6 498.8 L609.1 497 L608.6 497 L608 498.9 L607.5 498.3 L607 498.9 L606.4 498.4 L605.9 497.3 L605.3 497.6 L604.8 498.6 L604.2 498 L603.7 499.9 L603.2 502.3 L602.7 504.3 L602.2 507.7 L601.7 509.1 L601.2 509.3 L600.6 510.8 L600.1 513.5 L599.6 512 L599.1 509.1 L598.6 509.3 L598.1 506.1 L597.6 504.7 L597.1 503.9 L596.6 502.7 L596.1 502.8 L595.6 502.5 L595.1 500.2 L594.6 499.3 L594.1 499 L593.6 498.7 L593.1 498.1 L592.6 499.5 L592 500.9 L591.5 501.5 L591 505.5 L590.4 507.9 L589.9 510.1 L589.3 512.2 L588.8 513.7 L588.2 515.1 L587.7 516.1 L587.1 514.3 L586.6 511.4 L586 510.7 L585.5 509.5 L584.9 510.3 L584.4 510.4 L583.8 510.2 L583.3 510.2 L582.7 508.2 L582.2 506.7 L581.7 505.5 L581.1 503.6 L580.6 501.1 L580 499.4 L579.5 497.7 L578.9 495.9 L578.4 493.2 L577.8 492.7 L577.2 495.4 L576.7 499.5 L576.1 501.3 L575.6 503 L575 504.9 L574.5 501.8 L574 499.7 L573.4 497.4 L572.9 494.6 L572.4 496.6 L571.8 498.3 L571.3 499.7 L570.8 501.3 L570.2 502.2 L569.7 503.7 L569.1 505.1 L568.6 504 L568 503.9 L567.5 501.6 L567 498.9 L566.5 496.7 L566 493.9 L565.5 493.7 L565 494.9 L564.4 496.7 L563.9 498.5 L563.3 502 L562.8 503 L562.2 503.7 L561.7 506.8 L561.1 509.6 L560.5 506.9 L560 504.1 L559.4 502.3 L558.8 500.2 L558.2 502.6 L557.7 504.3 L557.1 503.6 L556.6 505.9 L556 505.6 L555.4 507.6 L554.9 509.7 L554.3 512 L553.8 514.3 L553.2 515.8 L552.7 517.8 L552.2 518.1 L551.7 517.7 L551.2 516.5 L550.7 517.2 L550.2 516.5 L549.7 517.4 L549.1 517 L548.6 516.3 L548 516 L547.5 514.4 L546.9 516.2 L546.4 513.5 L545.8 512.4 L545.3 511.1 L544.7 509.6 L544.2 508.5 L543.6 509.2 L543.1 508.5 L542.5 508.1 L542 505.4 L541.4 504.7 L540.8 503 L540.3 502.1 L539.7 501.3 L539.2 499.3 L538.6 497.3 L538.1 499 L537.6 498 L537.1 498.5 L536.6 498.6 L536.1 500.3 L535.6 501.6 L535.1 501.8 L534.6 502.4 L534.1 503.1 L533.6 503.8 L533.1 504.5 L532.6 504.5 L532.1 506 L531.6 506.5 L531 506.3 L530.5 505 L529.9 505.1 L529.4 506.3 L528.8 507.5 L528.3 502.5 L527.8 498.5 L527.3 496.1 L526.8 494.7 L526.3 492 L525.8 493.6 L525.3 494 L524.8 497.3 L524.3 498.6 L523.8 499.3 L523.3 501 L522.7 502.7 L522.2 506.1 L521.6 509.5 L521.1 509.6 L520.5 511.7 L519.9 510.2 L519.4 507.8 L518.8 505.9 L518.3 503.5 L517.7 502 L517.1 503.5 L516.6 503.8 L516 505.4 L515.5 506.5 L514.9 507.3 L514.3 506.4 L513.8 505.9 L513.2 504.6 L512.7 505.3 L512.1 502.3 L511.6 501.5 L511 501 L510.5 499.1 L509.9 499.8 L509.4 498.4 L508.9 501.1 L508.4 502.3 L507.9 504.9 L507.4 505.7 L506.9 509.3 L506.4 509.8 L505.9 512.9 L505.3 511.1 L504.8 509.3 L504.2 507.2 L503.7 507.2 L503.1 505.3 L502.6 506.9 L502.1 507.7 L501.6 507.4 L501.1 507.9 L500.6 508.6 L500.1 510.9 L499.5 509.5 L499 509.9 L498.4 509.5 L497.9 509.7 L497.3 509.9 L496.7 510.3 L496.2 509.3 L495.6 508.6 L495.1 508.2 L494.5 507 L493.9 505.6 L493.4 503.5 L492.8 503.1 L492.3 501.6 L491.7 501.1 L491.2 502.4 L490.6 503.4 L490.1 502.6 L489.6 502.3 L489.1 501.8 L488.5 501.1 L488 500.1 L487.4 498.4 L486.9 497.2 L486.3 497.8 L485.8 498.5 L485.2 500 L484.7 500.4 L484.1 501 L483.5 499.8 L483 498.1 L482.4 498.1 L481.9 495.9 L481.3 494.1 L480.8 495.8 L480.2 497.9 L479.7 500.9 L479.2 503.6 L478.7 502.6 L478.1 501.7 L477.6 499.9 L477.1 497.7 L476.5 496.1 L476 494.2 L475.4 494.3 L474.9 492.9 L474.3 491.8 L473.8 492.6 L473.3 493.9 L472.8 494.6 L472.3 495.5 L471.8 496 L471.3 498 L470.8 498.3 L470.3 500.1 L469.7 501.3 L469.2 502 L468.6 501.9 L468.1 502.5 L467.5 503.1 L467 502.1 L466.4 500.5 L465.9 499.7 L465.3 498.1 L464.7 498.5 L464.2 500 L463.6 500 L463.1 502.9 L462.5 500.9 L461.9 503.7 L461.4 503.5 L460.8 505.9 L460.3 507.7 L459.7 508.3 L459.1 505.8 L458.6 504.8 L458 502.2 L457.5 500.7 L456.9 498.4 L456.3 499.9 L455.8 500.4 L455.2 501.5 L454.7 503.8 L454.1 502.1 L453.6 500.4 L453.1 498.1 L452.5 495.4 L452 492.9 L451.5 496.9 L450.9 500.1 L450.4 503.8 L449.8 505.1 L449.3 508.8 L448.7 506.9 L448.2 504 L447.6 502 L447.1 500.2 L446.5 497.5 L446 497.3 L445.4 493.8 L444.9 492.1 L444.4 490.3 L443.7 487.2 L443 485.2 L442.5 483.3 L442 483.3 L441.5 484.4 L440.9 485.8 L440.4 485.8 L439.8 488.2 L439.3 487.7 L438.7 489.2 L438.2 490.4 L437.6 493.3 L437.1 495.6 L436.6 498.1 L436.1 498.9 L435.5 499.9 L435 501.7 L434.4 500.2 L433.9 500 L433.3 497.8 L432.8 496.4 L432.2 494.2 L431.7 494.9 L431.1 494.9 L430.6 494.6 L430.1 496.7 L429.6 496.9 L429 497 L428.5 496.1 L428 497.2 L427.4 498.1 L426.9 497 L426.4 498.1 L425.9 498.8 L425.3 499.7 L424.8 499 L424.2 498.4 L423.7 495.6 L423.1 494.7 L422.6 495.4 L422 492 L421.5 491.7 L421 492 L420.5 491.2 L420 492.7 L419.4 494.5 L418.9 495.9 L418.2 493.1 L417.6 487.8 L417 486.5 L416.3 484 L415.7 481.2 L415.2 482.4 L414.6 483.2 L414.1 485.4 L413.5 486.3 L413 488.2 L412.4 489.2 L411.7 491.3 L411.1 490.3 L410.6 492.3 L410.1 494.5 L409.6 496 L409.1 498 L408.6 496.9 L408 496.1 L407.5 494.9 L406.9 493.2 L406.4 492.4 L405.8 491.3 L405.3 490.2 L404.8 488.5 L404.3 487.9 L403.8 486 L403.3 487.8 L402.8 489.5 L402.3 490.6 L401.8 493.7 L401.3 490 L400.8 489.8 L400.2 488.1 L399.7 487 L399.2 485.4 L398.7 482.8 L398.2 481.1 L397.6 479.8 L397.1 478.9 L396.6 475.6Z" fill="#00ff00"/>
<path d="M383.9 334.8 L384.3 340.4 L384.6 346.1 L385 351.8 L385.4 357.4 L385.8 363.1 L386.1 368.7 L386.5 374.4 L386.9 380 L387.2 384.6 L387.6 389.3 L387.9 393.9 L388.3 398.6 L388.6 403.2 L389 407.8 L389.3 412.5 L389.7 417.1 L390.1 421.7 L390.4 426.4 L390.8 431 L391.1 435.6 L391.4 440.3 L391.8 444.9 L392.1 449.6 L392.5 454.2 L392.6 460 L393 465.7 L393.5 471.4 L393.9 477.1 L394.2 481.4 L394.6 485.6 L394.9 489.9 L395.3 494.2 L395.7 495.5 L396.1 496.8 L396.4 498.2 L396.8 499.5 L397.2 500.8 L397.6 501.6 L398 502.4 L398.4 503.1 L398.8 503.9 L399.2 504.7" fill="none" stroke="#ff0000" stroke-width="1.8" stroke-linejoin="round" stroke-linecap="round"/>
<path d="M399.2 505.2 L399.6 507.1 L400.1 509.3 L400.5 510.6 L400.9 511.7 L401.3 509.9 L401.7 511.7 L402.1 510.2 L402.5 511.2 L402.9 508.8 L403.2 509 L403.6 509.3 L404 510.8 L404.4 509.7 L404.7 511.2 L405.1 510.2 L405.5 509.2 L406 509.9 L406.4 509.9 L406.8 510.6 L407.2 510 L407.6 512.8 L408 515.3 L408.4 514.4 L408.8 516.9 L409.2 517.1 L409.6 517.2 L409.9 517.1 L410.3 516.7 L410.7 516.4 L411.1 516.8 L411.5 515.6 L411.8 517 L412.2 515.5 L412.6 513.5 L413 513.9 L413.3 511.8 L413.7 511.3 L414.1 510 L414.4 513.3 L414.8 512 L415.2 512.9 L415.6 513.6 L415.9 514.5 L416.3 515.8 L416.7 515.9 L417.1 518.2 L417.5 519.1 L417.9 519.7 L418.3 522.7 L418.7 519.4 L419.1 519.4 L419.6 517.2 L420 517.4 L420.4 515.7 L420.7 516.6 L421.1 515.7 L421.5 517 L421.9 517.6 L422.3 518.1 L422.7 519.8 L423.1 520.8 L423.5 519.3 L423.9 520.2 L424.3 521 L424.6 521.1 L425 520.5 L425.3 519.8 L425.7 518.2 L426 518.2 L426.4 517.7 L426.7 515.7 L427.1 516.9 L427.4 514.4 L427.8 515.3 L428.1 514.5 L428.5 514.1 L428.9 515.5 L429.2 515.5 L429.6 515.5 L430 515.5 L430.4 516.5 L430.7 516.8 L431.1 516 L431.5 516.9 L431.8 516.4 L432.2 519.1 L432.6 518.7 L433 520.2 L433.3 522.3 L433.7 522 L434.1 523 L434.5 521.2 L434.8 521.7 L435.2 520.7 L435.6 520.5 L436 520.2 L436.3 519 L436.7 517.4 L437.1 518.5 L437.4 517.4 L437.8 515 L438.2 516.8 L438.5 515.3 L438.9 514.1 L439.3 515.4 L439.6 515.1 L440 515.1 L440.4 515.2 L440.8 513.9 L441.1 515.5 L441.5 512.8 L441.9 513.5 L442.2 516.5 L442.6 515.4 L443 517.6 L443.4 516.6 L443.7 517.4 L444.1 517.6 L444.4 518.4 L444.8 517.5 L445.1 519.3 L445.4 519.5 L445.8 518.7 L446.2 521.6 L446.5 520.7 L446.9 520.1 L447.2 523.6 L447.6 522.7 L447.9 523.8 L448.2 525.1 L448.6 526 L449 524.1 L449.4 523.3 L449.8 521.8 L450.2 520.4 L450.6 517.7 L451 515.5 L451.4 514 L451.8 515.9 L452.2 517.2 L452.6 517.9 L452.9 517.2 L453.3 518.8 L453.7 520.2 L454.1 522.3 L454.5 521.4 L454.9 521.3 L455.3 521.6 L455.7 520.4 L456.1 520.3 L456.5 518.4 L456.9 519.4 L457.2 520 L457.6 519.6 L457.9 518.6 L458.3 520.7 L458.6 519.2 L459 520 L459.3 519.5 L459.7 520 L460.1 520.8 L460.4 519.7 L460.8 520.2 L461.1 519.8 L461.4 517.1 L461.8 519.2 L462.1 519 L462.5 516.5 L462.9 519.3 L463.2 519.9 L463.6 520.9 L463.9 520.5 L464.2 523.7 L464.6 523.2 L464.9 524.6 L465.3 524.3 L465.7 525.1 L466 527.7 L466.4 526.1 L466.7 528.4 L467.1 526.6 L467.4 528.5 L467.8 528 L468.1 529 L468.5 527.6 L468.9 529.9 L469.3 530.1 L469.7 530.1 L470.1 531.7 L470.5 527.3 L470.9 524.7 L471.4 521.2 L471.8 520 L472.2 515.4 L472.6 518.7 L472.9 519.8 L473.2 518.4 L473.6 521.3 L473.9 519.5 L474.3 522.4 L474.6 523.5 L475 524.5 L475.4 523.5 L475.8 521.8 L476.1 523.2 L476.5 522.6 L476.9 520.9 L477.3 520.6 L477.7 519.9 L478.1 520.7 L478.4 518.4 L478.8 520 L479.2 518.7 L479.6 519.9 L479.9 521.3 L480.2 522.6 L480.6 523.9 L480.9 525.6 L481.3 525.9 L481.6 527.8 L482 530 L482.4 529.1 L482.7 527.3 L483.1 528 L483.4 527.3 L483.8 526.3 L484.1 524.9 L484.4 525.5 L484.8 526.1 L485.2 525.1 L485.6 525.6 L486 527.1 L486.3 528.8 L486.7 530.2 L487.1 530.8 L487.5 532.8 L487.9 531.5 L488.2 531.2 L488.6 530.6 L488.9 529.3 L489.2 526.3 L489.6 525.3 L489.9 525.9 L490.3 525.6 L490.7 525.8 L491 526 L491.4 524.8 L491.7 526 L492.1 526.8 L492.4 527.5 L492.8 527.7 L493.1 528.3 L493.5 526.8 L493.8 527.4 L494.2 527.3 L494.5 526 L494.9 526.1 L495.2 527.4 L495.6 526.7 L495.9 526.5 L496.2 527.8 L496.6 527.6 L497 526.4 L497.3 526.5 L497.7 526.9 L498 527.3 L498.4 526 L498.7 525.5 L499.1 524.2 L499.4 526 L499.8 523.8 L500.1 524.4 L500.5 523.2 L500.9 524.3 L501.2 522.8 L501.6 521.7 L502 519.2 L502.4 519 L502.7 520.2 L503.1 516.9 L503.5 518.6 L503.9 519.3 L504.3 519.9 L504.7 520.9 L505.1 523.8 L505.5 523.9 L505.9 524.4 L506.2 525.8 L506.6 524.7 L506.9 525.2 L507.3 523.7 L507.6 523.2 L508 524 L508.3 523.1 L508.7 525.5 L509 524.1 L509.4 523.1 L509.8 525.5 L510.2 524.4 L510.6 526.4 L510.9 526.3 L511.3 527.2 L511.7 525.5 L512.1 527.9 L512.5 526.8 L512.9 529.6 L513.3 529.8 L513.7 528 L514.1 529.4 L514.5 531.9 L514.9 531.5 L515.2 530.4 L515.6 530.5 L516 528.2 L516.3 528.9 L516.6 528 L517 529.1 L517.4 525.5 L517.7 526.8 L518.1 526.2 L518.5 526.3 L518.9 526.8 L519.3 527.6 L519.7 526 L520.1 527.5 L520.5 527.3 L520.9 526.9 L521.3 529.1 L521.7 530.3 L522.1 531 L522.5 531.1 L522.9 532.8 L523.3 533.4 L523.6 534.1 L524 532 L524.3 531.2 L524.7 531.1 L525 531.5 L525.4 529.3 L525.8 528.9 L526.1 529.2 L526.4 528.3 L526.8 529.5 L527.2 528.1 L527.6 526.7 L527.9 525.3 L528.3 523.5 L528.7 523.1 L529.1 523.8 L529.4 522.5 L529.8 520.6 L530.2 520.3 L530.6 519.5 L530.9 519.9 L531.2 517.8 L531.6 520.2 L532 520.3 L532.3 519.6 L532.7 519.9 L533 519.1 L533.4 517.7 L533.7 518 L534.1 518.8 L534.4 519.8 L534.8 519.7 L535.1 518.9 L535.5 521.2 L535.8 521.2 L536.2 521.2 L536.5 522.4 L536.9 522.8 L537.2 523.5 L537.6 523.6 L537.9 524.4 L538.2 524 L538.6 524.3 L539 521.9 L539.3 524 L539.7 522.7 L540 524.6 L540.4 522.5 L540.7 523.2 L541.1 524 L541.4 522.9 L541.8 525.2 L542.1 526.2 L542.5 524.3 L542.8 524.9 L543.2 525.2 L543.5 525.6 L543.9 526.9 L544.2 525.7 L544.6 527.9 L545 528.8 L545.4 527.7 L545.7 529.2 L546.1 528.3 L546.5 530.1 L546.9 529.4 L547.2 527.9 L547.6 527 L548 526.6 L548.3 527 L548.6 526.9 L549 523.2 L549.4 524.7 L549.7 521.9 L550.1 524.7 L550.4 524.2 L550.8 524.3 L551.1 526.7 L551.5 527.3 L551.8 526.9 L552.2 527.4 L552.5 529.1 L552.9 528.9 L553.2 531.2 L553.6 530.8 L553.9 529.2 L554.2 529.4 L554.6 526.8 L555 527.2 L555.3 526.6 L555.7 526.1 L556 525.4 L556.4 526.5 L556.7 524.1 L557.1 523.4 L557.5 522.8 L557.9 524.4 L558.2 522.2 L558.6 524.5 L559 523.2 L559.4 521.8 L559.7 522 L560 523.2 L560.4 520.7 L560.8 521.6 L561.1 521.1 L561.5 521 L561.8 521.7 L562.1 519.6 L562.5 520.2 L562.9 519.6 L563.3 521.2 L563.6 520.4 L564 521.1 L564.4 523 L564.8 524 L565.1 524 L565.5 523 L565.9 525.4 L566.3 526.5 L566.6 527.1 L567 525.2 L567.4 527.9 L567.8 524.9 L568.2 526.2 L568.5 524.7 L568.9 522.7 L569.3 522.7 L569.7 521.7 L570 522.4 L570.4 520.5 L570.8 519.9 L571.1 520.2 L571.5 519.2 L571.8 519.4 L572.2 520.6 L572.5 522.2 L572.9 521.7 L573.2 521 L573.6 521.1 L573.9 523.2 L574.3 522.9 L574.6 521.6 L575 522.7 L575.3 524.8 L575.7 523.4 L576 524.9 L576.4 525.2 L576.8 522.5 L577.1 523.2 L577.4 525.3 L577.8 522.9 L578.1 523.1 L578.5 523.5 L578.8 524.5 L579.2 523.1 L579.5 522.1 L579.9 523.3 L580.2 522.7 L580.6 522.6 L580.9 521.1 L581.3 522.8 L581.6 522.7 L582 522.7 L582.3 525.4 L582.7 525.1 L583 526.4 L583.4 525.6 L583.8 527 L584.1 528.6 L584.4 529.4 L584.8 531 L585.2 529.1 L585.6 529.6 L585.9 529.5 L586.3 527.2 L586.7 527.7 L587.1 528.6 L587.4 526.3 L587.8 528.4 L588.2 527.2 L588.6 527 L588.9 527.4 L589.2 528.9 L589.6 527.6 L590 528.3 L590.3 529.2 L590.7 528.6 L591 529.3 L591.4 530.8 L591.7 530.9 L592.1 530.4 L592.5 528.3 L592.9 527.2 L593.3 525.7 L593.7 527 L594.1 523.7 L594.5 525 L594.9 525.5 L595.3 527 L595.7 525.8 L596.1 527.1 L596.5 529.3 L596.9 529.6 L597.3 530.5 L597.6 532.9 L598 531.6 L598.3 531.6 L598.7 532 L599 532.6 L599.4 533.2 L599.8 534.8 L600.1 533.3 L600.4 535.3 L600.8 535.8 L601.1 534.8 L601.5 533.6 L601.9 530.9 L602.2 531.3 L602.5 529.6 L602.9 529.2 L603.2 528.7 L603.6 527 L604 527.7 L604.4 527.8 L604.8 529.4 L605.1 528.9 L605.5 529 L605.9 529.1 L606.3 528 L606.6 527.4 L607 528.5 L607.4 527.1 L607.7 526.5 L608 525.9 L608.4 525.3 L608.8 525.3 L609.1 523.9 L609.5 525 L609.8 525.9 L610.1 525.7 L610.5 528.8 L610.9 529.6 L611.2 529.1 L611.6 530.8 L611.9 530.6 L612.2 531.4 L612.6 530.7 L613 531.5 L613.3 530.5 L613.6 528.1 L614 527 L614.4 526.9 L614.7 526.3 L615.1 525.6 L615.4 524.4 L615.8 522.9 L616.1 523.2 L616.5 524.1 L616.8 524 L617.2 522.8 L617.5 523.4 L617.9 523.7 L618.3 521 L618.6 522.6 L619 522.7 L619.4 520.8 L619.8 520.8 L620.1 523.5 L620.5 523.4 L620.9 521.1 L621.2 522.7 L621.5 520.4 L621.9 520.9 L622.2 519.7 L622.6 518.2 L623 520.1 L623.3 518.5 L623.6 517.8 L624 516 L624.4 516.7 L624.8 518.2 L625.1 518.9 L625.5 518.2 L625.9 518.8 L626.3 518.8 L626.6 518.2 L627 517.5 L627.4 517.9 L627.8 516.7 L628.1 518.2 L628.5 516.4 L628.8 517.6 L629.1 515.5 L629.5 514.7 L629.9 514.6 L630.2 515.6 L630.6 516.1 L631 517.5 L631.4 516 L631.8 517.9 L632.2 516 L632.6 516.2 L633 518.6 L633.4 518.7 L633.7 518.8 L634 520.6 L634.4 521.2 L634.8 522.7 L635.1 522.6 L635.5 522.9 L635.9 523.9 L636.3 524.2 L636.7 524 L637.1 524.5 L637.5 526.1 L637.9 525.4 L638.2 525.1 L638.6 523.4 L639 523.2 L639.3 524 L639.6 524 L640 522.3 L640.4 522.8 L640.8 524.7 L641.2 526.4 L641.6 528.1 L642 526.3 L642.4 527.5 L642.8 529.7 L643.2 527.9 L643.5 528.9 L643.9 527.8 L644.3 526.2 L644.7 525.9 L645 526.5 L645.4 527.1 L645.8 524.6 L646.2 524.4 L646.5 524.5 L646.9 524.7 L647.2 524.6 L647.6 525.6 L647.9 525 L648.3 525.4 L648.6 527.8 L649 527.8 L649.4 526.9 L649.7 529.3 L650 528 L650.4 530.8 L650.8 531.4 L651.1 532.8 L651.4 532.3 L651.8 532.7 L652.1 535.7 L652.5 533.9 L652.9 536.2 L653.2 536.5 L653.5 536.8 L653.9 538 L654.2 539.2 L654.6 535.3 L655 536.6 L655.3 533.6 L655.6 533.5 L656 531.3 L656.4 529 L656.7 529.6 L657.1 528.6 L657.5 529 L658 529.8 L658.4 532.7 L658.8 531.4 L659.1 532.6 L659.5 532.3 L659.8 532.6 L660.2 532.2 L660.5 532.3 L660.9 535 L661.2 533.8 L661.6 536.1 L661.9 533.9 L662.3 536.5 L662.6 535.9 L663 535.3 L663.4 533.7 L663.7 531.7 L664 533.2 L664.4 532.8 L664.8 530.4 L665.1 531.4 L665.5 529.5 L665.9 531.5 L666.2 530 L666.6 530.7 L667 532 L667.4 533.7 L667.7 533.8 L668.1 533.8 L668.5 532" fill="none" stroke="#ff0000" stroke-width="2.7" stroke-linejoin="round" stroke-linecap="round"/>
<path d="M399.2 502.7 L399.9 506.6 L400.5 509.3 L401 508.6 L401.5 508.4 L402 508.4 L402.5 508.3 L403 507.3 L403.5 508.5 L404.1 508.8 L404.6 509.7 L405.1 509.6 L405.8 508.4 L406.4 506.9 L406.9 508.3 L407.4 510 L407.9 512.3 L408.4 514.1 L408.9 514.5 L409.5 515 L410 514.9 L410.6 516.7 L411.1 516.6 L411.6 516 L412.1 512.8 L412.7 512 L413.2 510 L413.7 509.3 L414.2 509.5 L414.7 509.6 L415.3 510.1 L415.8 512.9 L416.3 514.8 L416.8 516 L417.3 517.7 L417.8 518.9 L418.3 520.3 L418.9 518.1 L419.4 516 L420 514.8 L420.6 514.4 L421.1 514.5 L421.7 514.8 L422.2 514.4 L422.8 516.8 L423.3 519.1 L423.9 518.3 L424.4 518.7 L424.9 516.1 L425.4 517.6 L425.9 516.4 L426.5 515.2 L427 513.8 L427.5 512.8 L428 512.4 L428.5 512.5 L429 512.5 L429.6 514.1 L430.1 513.5 L430.6 513.9 L431.1 514.8 L431.7 516 L432.2 515.7 L432.8 517.7 L433.5 519.3 L434.1 519.6 L434.6 520.4 L435.2 517.8 L435.7 518.1 L436.2 518.1 L436.7 516.8 L437.3 515.8 L437.8 514.3 L438.3 514.1 L438.9 511.9 L439.4 513.2 L439.9 512.1 L440.4 512.1 L441 511.5 L441.5 512.1 L442 513.5 L442.5 514.1 L443 515.5 L443.6 516.7 L444.1 516.8 L444.7 516.9 L445.2 518.2 L445.8 517.2 L446.4 518.4 L446.9 519.8 L447.5 521 L448 521.7 L448.6 521.1 L449.2 521.7 L449.7 519.9 L450.3 516.8 L450.8 514.2 L451.4 512.2 L451.9 514.5 L452.5 515.5 L453 516.1 L453.6 517.7 L454.1 518.9 L454.7 517.8 L455.2 518.1 L455.8 517.8 L456.3 517.1 L456.9 515 L457.5 516.5 L458 517.1 L458.6 517.2 L459.1 518.1 L459.7 518.3 L460.3 517.3 L460.8 516.7 L461.4 516.9 L461.9 516.2 L462.5 515.8 L463.1 516.2 L463.6 518.5 L464.2 519.1 L464.7 521.3 L465.3 523.6 L465.9 524.2 L466.4 524.4 L467 525.1 L467.5 526.7 L468.1 525.5 L468.6 528.1 L469.1 528.6 L469.6 529.3 L470.1 529.6 L470.6 526 L471.1 520.3 L471.7 516.6 L472.2 515.2 L472.8 515.5 L473.3 516 L473.9 518.7 L474.4 520.5 L475 522.9 L475.5 522.2 L476.1 520.7 L476.6 520.4 L477.1 519.6 L477.6 519.1 L478.1 518.6 L478.7 516.8 L479.2 515.9 L479.8 518 L480.3 520.6 L480.9 523.4 L481.4 525.9 L482 528.3 L482.6 527.4 L483.1 525.6 L483.7 524.4 L484.2 524.4 L484.8 522.3 L485.3 524.3 L485.9 525.1 L486.4 525.6 L487 529.1 L487.5 531 L488.1 529.6 L488.6 526.4 L489.2 525.3 L489.7 524.3 L490.3 522.3 L490.9 523.3 L491.4 522.5 L492 523.6 L492.5 524.3 L493.1 526 L493.6 525.8 L494.1 525 L494.6 523.9 L495.1 525.5 L495.6 525.1 L496.1 526.3 L496.6 524.8 L497.1 524.3 L497.6 523.8 L498.1 523 L498.6 524 L499.1 525 L499.6 525 L500.1 523.3 L500.6 522.2 L501.1 520.8 L501.6 519.6 L502.1 516.8 L502.6 517.5 L503.1 516.2 L503.7 517.6 L504.2 517.5 L504.8 520.3 L505.3 521.8 L505.9 523.3 L506.4 522.8 L506.9 522.9 L507.4 522.7 L507.9 521.6 L508.4 519.6 L508.9 521.9 L509.4 522.4 L509.9 523.2 L510.5 522.2 L511 523.5 L511.6 524.3 L512.1 525.6 L512.7 527.4 L513.2 526.8 L513.8 527.9 L514.3 528.2 L514.9 529.1 L515.5 528.6 L516 527.9 L516.6 526.4 L517.1 525.1 L517.7 524.8 L518.3 524.7 L518.8 524.6 L519.4 524.4 L519.9 525.9 L520.5 525.7 L521.1 527 L521.6 528.9 L522.2 529.2 L522.7 530.9 L523.3 531.9 L523.8 530.9 L524.3 530.7 L524.8 528.6 L525.3 529.2 L525.8 528.4 L526.3 526 L526.8 527.1 L527.4 525.4 L527.9 524.3 L528.5 522.2 L529.1 521.2 L529.6 519.8 L530.2 518.2 L530.7 517.6 L531.2 517.4 L531.7 516.7 L532.2 516.2 L532.7 515.4 L533.2 516.2 L533.7 516.5 L534.2 516.9 L534.7 516.8 L535.2 519.2 L535.7 520.2 L536.2 519.6 L536.7 519.5 L537.2 518.9 L537.7 520.7 L538.2 521 L538.7 521.3 L539.2 521.1 L539.7 521.5 L540.2 522.7 L540.7 521.6 L541.2 523 L541.7 522.7 L542.2 523.6 L542.7 523.5 L543.2 524.5 L543.7 525.1 L544.2 524.1 L544.7 524.9 L545.3 524.9 L545.8 526.4 L546.4 527.6 L546.9 527.6 L547.5 527.1 L548 525.4 L548.6 523.6 L549.1 522.1 L549.7 521.6 L550.2 523 L550.7 523.3 L551.2 524.7 L551.7 524.9 L552.2 526.3 L552.7 528 L553.2 528.6 L553.7 527.8 L554.2 526.1 L554.7 525.5 L555.2 523.8 L555.7 524.1 L556.2 523.4 L556.7 522.2 L557.3 520.6 L557.9 520.6 L558.4 520.6 L559 520.3 L559.5 520.1 L560 519.9 L560.5 518.7 L561 518.5 L561.5 519.1 L562 518.1 L562.5 518.8 L563 518.5 L563.6 521 L564.1 520.3 L564.7 522.3 L565.2 522.6 L565.8 523.7 L566.3 524.3 L566.9 525.3 L567.4 524 L568 522.9 L568.5 523.7 L569.1 522.4 L569.7 520.9 L570.2 520.4 L570.8 518.5 L571.3 519.7 L571.8 518.6 L572.3 519 L572.8 520 L573.3 520.9 L573.8 521.9 L574.3 521.9 L574.8 519.9 L575.3 521 L575.8 522 L576.3 522.6 L576.8 522.5 L577.3 523.2 L577.8 523.5 L578.3 523 L578.8 521.8 L579.3 521 L579.8 520.8 L580.3 520.3 L580.8 520.3 L581.3 519.7 L581.8 522.4 L582.3 521.5 L582.8 523.6 L583.3 524.6 L583.8 526.2 L584.3 527.9 L584.8 528.9 L585.4 528.2 L585.9 527.5 L586.5 526.2 L587.1 526.4 L587.6 524.9 L588.2 525.2 L588.7 524.2 L589.2 526.8 L589.7 527.6 L590.2 527.4 L590.7 528 L591.2 527 L591.7 527.4 L592.3 526 L592.8 525.7 L593.4 524.7 L593.9 524.1 L594.5 522.2 L595.1 523.9 L595.6 524.4 L596.2 526.2 L596.7 528.1 L597.3 529.1 L597.8 530.2 L598.3 530.5 L598.8 529.3 L599.3 530.3 L599.8 530.5 L600.3 531.9 L600.8 532.6 L601.4 530.7 L601.9 529.1 L602.5 528 L603 525.9 L603.6 524.8 L604.1 525 L604.7 526.4 L605.2 527 L605.8 526.7 L606.3 527.6 L606.9 526.2 L607.4 526.3 L608 524.2 L608.5 523.3 L609.1 522.6 L609.6 523.7 L610.1 524.8 L610.6 525.2 L611.1 526.5 L611.6 526.5 L612.1 527.6 L612.6 529 L613.1 527.6 L613.6 527.1 L614.1 526.2 L614.6 526.1 L615.1 523.7 L615.6 522.2 L616.1 519.5 L616.7 519.9 L617.3 519.7 L617.8 520.8 L618.4 520.3 L619 521.1 L619.5 520.8 L620 520.1 L620.5 519.7 L621 519.8 L621.5 519 L622 518.2 L622.5 518.1 L623 516.4 L623.5 516 L624 515.8 L624.6 516 L625.1 516.7 L625.7 516.5 L626.3 515.9 L626.8 515.9 L627.4 516.9 L628 516.1 L628.5 514.7 L629.1 514.1 L629.6 513.6 L630.2 512.6 L630.8 514.4 L631.3 513.2 L631.9 512.1 L632.4 514.9 L633 516.1 L633.5 516.1 L634 518.9 L634.6 519 L635.1 521.2 L635.7 520.8 L636.2 522.4 L636.8 522.9 L637.3 522.6 L637.9 521.7 L638.4 521.9 L639 522.5 L639.5 521.1 L640 521 L640.6 522.7 L641.1 523.6 L641.7 524.8 L642.2 525.3 L642.8 528.3 L643.3 526.5 L643.8 526.1 L644.3 526 L644.8 524.3 L645.4 522.8 L645.9 523.3 L646.4 523.5 L646.9 522.4 L647.4 522.5 L647.9 523.4 L648.4 523.6 L648.9 525.7 L649.4 527.1 L649.9 527.7 L650.4 529 L650.9 529.1 L651.4 529.8 L651.9 531.3 L652.4 532.6 L652.9 535 L653.4 535.6 L653.9 535.5 L654.5 534.5 L655 530.9 L655.6 529 L656.1 530 L656.7 526.6 L657.2 528.2 L657.8 528.8 L658.3 530 L658.8 529.4 L659.3 529.9 L659.8 530.3 L660.3 531.6 L660.8 531.3 L661.3 532 L661.8 531.8 L662.3 533.3 L662.9 532.9 L663.4 532 L664 530.6 L664.5 529.7 L665.1 529.1 L665.7 530 L666.2 529.5 L666.8 529.2 L667.4 530 L667.9 531.8 L668.5 532.4 L668.5 536.2 L667.9 535.3 L667.4 533.4 L666.8 533 L666.2 532.6 L665.7 533.3 L665.1 532.2 L664.5 534.1 L664 535.6 L663.4 536.3 L662.9 536.6 L662.3 537.8 L661.8 536.3 L661.3 535.6 L660.8 535.1 L660.3 536.4 L659.8 536.3 L659.3 533.7 L658.8 533.9 L658.3 533.1 L657.8 533 L657.2 531.5 L656.7 530.9 L656.1 533.6 L655.6 534.9 L655 536.6 L654.5 537.5 L653.9 541.5 L653.4 540.3 L652.9 538.2 L652.4 535.8 L651.9 536 L651.4 535.8 L650.9 532.9 L650.4 532 L649.9 531.6 L649.4 531.6 L648.9 531 L648.4 528.2 L647.9 527.5 L647.4 526 L646.9 526.1 L646.4 526.5 L645.9 526.8 L645.4 526.7 L644.8 527.7 L644.3 529.4 L643.8 529.8 L643.3 530.2 L642.8 532.3 L642.2 530.4 L641.7 528.7 L641.1 527.9 L640.6 525.8 L640 525.1 L639.5 526.1 L639 526.7 L638.4 526.9 L637.9 527.6 L637.3 527.2 L636.8 526.7 L636.2 526.5 L635.7 525.8 L635.1 524 L634.6 523.5 L634 522.9 L633.5 521.5 L633 520.1 L632.4 518.8 L631.9 517.4 L631.3 519.3 L630.8 517.4 L630.2 517.2 L629.6 518.1 L629.1 517.9 L628.5 518.4 L628 519.5 L627.4 519.9 L626.8 520.3 L626.3 519.5 L625.7 519.8 L625.1 520.5 L624.6 519.4 L624 519.8 L623.5 520.1 L623 520.7 L622.5 523.3 L622 522.6 L621.5 523.7 L621 525.1 L620.5 524.3 L620 524.2 L619.5 523.7 L619 524.9 L618.4 524.5 L617.8 524.9 L617.3 523.8 L616.7 523.4 L616.1 524.5 L615.6 526.1 L615.1 527.3 L614.6 529.4 L614.1 529.6 L613.6 530.9 L613.1 530.7 L612.6 532.7 L612.1 531.8 L611.6 531.2 L611.1 530.1 L610.6 530.2 L610.1 529.2 L609.6 527.5 L609.1 527 L608.5 527 L608 528.6 L607.4 529.1 L606.9 530.3 L606.3 531 L605.8 532 L605.2 530.4 L604.7 530 L604.1 531 L603.6 528.7 L603 530.2 L602.5 531 L601.9 534.5 L601.4 534.4 L600.8 536.5 L600.3 535.5 L599.8 534.9 L599.3 534.2 L598.8 533.6 L598.3 533.5 L597.8 533.8 L597.3 534.9 L596.7 531.2 L596.2 530.3 L595.6 529.1 L595.1 527.8 L594.5 526.3 L593.9 527.8 L593.4 528 L592.8 528.9 L592.3 530.4 L591.7 530.7 L591.2 531.2 L590.7 531.9 L590.2 530.6 L589.7 532.1 L589.2 530.3 L588.7 530 L588.2 528.3 L587.6 529.1 L587.1 529.5 L586.5 530 L585.9 531.3 L585.4 532.3 L584.8 533.5 L584.3 532.2 L583.8 530.5 L583.3 528.9 L582.8 527.2 L582.3 527 L581.8 526.6 L581.3 524.1 L580.8 524.2 L580.3 525.4 L579.8 524.4 L579.3 524.6 L578.8 525.5 L578.3 525.7 L577.8 526.8 L577.3 528.4 L576.8 527.8 L576.3 526 L575.8 526.6 L575.3 525.1 L574.8 525.2 L574.3 526 L573.8 525.7 L573.3 525.2 L572.8 524.1 L572.3 522.6 L571.8 523 L571.3 522.6 L570.8 522 L570.2 523.8 L569.7 524.6 L569.1 526.3 L568.5 527.2 L568 528.5 L567.4 530.8 L566.9 529.2 L566.3 528.1 L565.8 527.7 L565.2 526.4 L564.7 525.8 L564.1 525 L563.6 524.4 L563 522.9 L562.5 522.2 L562 522.8 L561.5 522.7 L561 522.5 L560.5 522.9 L560 524.4 L559.5 524.3 L559 525.9 L558.4 525.2 L557.9 526.5 L557.3 526.6 L556.7 526.3 L556.2 527.7 L555.7 527.2 L555.2 529.2 L554.7 530.2 L554.2 530.3 L553.7 533.4 L553.2 532.7 L552.7 531.1 L552.2 531.8 L551.7 529.4 L551.2 528.3 L550.7 526.9 L550.2 526 L549.7 525.8 L549.1 527.8 L548.6 527.2 L548 530.3 L547.5 530.9 L546.9 531.5 L546.4 530.9 L545.8 530.8 L545.3 529.7 L544.7 529.5 L544.2 528.4 L543.7 528.6 L543.2 528.1 L542.7 527.4 L542.2 526.9 L541.7 526.6 L541.2 526.5 L540.7 525.6 L540.2 527.9 L539.7 525.3 L539.2 525.1 L538.7 526.2 L538.2 524.9 L537.7 524.6 L537.2 524.3 L536.7 523.3 L536.2 523.5 L535.7 524 L535.2 523.6 L534.7 522.6 L534.2 520.5 L533.7 520.3 L533.2 519.6 L532.7 519.6 L532.2 521.6 L531.7 520 L531.2 521.9 L530.7 523.5 L530.2 521.9 L529.6 523.7 L529.1 527.1 L528.5 525.6 L527.9 527.9 L527.4 528.9 L526.8 530.7 L526.3 530.2 L525.8 531.9 L525.3 532 L524.8 534 L524.3 534.1 L523.8 537.2 L523.3 536.4 L522.7 534.6 L522.2 533.4 L521.6 532.5 L521.1 531.1 L520.5 529.3 L519.9 529.5 L519.4 528.8 L518.8 528.1 L518.3 528.3 L517.7 528.2 L517.1 529 L516.6 531.1 L516 531.4 L515.5 532.4 L514.9 532.7 L514.3 532.9 L513.8 531.7 L513.2 531.9 L512.7 530.6 L512.1 529.5 L511.6 527.9 L511 527.5 L510.5 527.1 L509.9 528.7 L509.4 526.1 L508.9 525.8 L508.4 525.4 L507.9 526.1 L507.4 526.2 L506.9 527.9 L506.4 527.3 L505.9 526.8 L505.3 525.6 L504.8 523.9 L504.2 523.2 L503.7 522.2 L503.1 520.3 L502.6 522.7 L502.1 522.1 L501.6 524.1 L501.1 526.4 L500.6 525.5 L500.1 527.4 L499.6 528.8 L499.1 528 L498.6 528.5 L498.1 529.2 L497.6 527.7 L497.1 528.3 L496.6 529.1 L496.1 529.9 L495.6 530.6 L495.1 528.7 L494.6 528.6 L494.1 528.6 L493.6 529.1 L493.1 531.3 L492.5 528.6 L492 527.2 L491.4 526.3 L490.9 528.7 L490.3 526 L489.7 528.8 L489.2 530.4 L488.6 532.6 L488.1 532.9 L487.5 536.4 L487 532.6 L486.4 530.2 L485.9 529.2 L485.3 528.7 L484.8 527.5 L484.2 527.9 L483.7 528.8 L483.1 530.1 L482.6 532.9 L482 532.1 L481.4 529.3 L480.9 528.8 L480.3 524.2 L479.8 522.5 L479.2 520.8 L478.7 522.6 L478.1 521.8 L477.6 522.9 L477.1 522.9 L476.6 524 L476.1 525.3 L475.5 525.3 L475 525.6 L474.4 523.5 L473.9 522.3 L473.3 521.1 L472.8 519.6 L472.2 518.4 L471.7 521.3 L471.1 525.4 L470.6 529.8 L470.1 533.3 L469.6 533.6 L469.1 532.3 L468.6 531.4 L468.1 530.2 L467.5 530.6 L467 529.2 L466.4 528.4 L465.9 527.8 L465.3 527.9 L464.7 526.2 L464.2 524.8 L463.6 521.9 L463.1 520 L462.5 519.2 L461.9 519.7 L461.4 520.8 L460.8 520.6 L460.3 522.2 L459.7 522.9 L459.1 522.4 L458.6 521.4 L458 522.4 L457.5 520.6 L456.9 520.2 L456.3 520.6 L455.8 521.5 L455.2 521.7 L454.7 521.4 L454.1 522.8 L453.6 522.2 L453 520.8 L452.5 519.4 L451.9 518.3 L451.4 515.6 L450.8 517.8 L450.3 520.6 L449.7 523.5 L449.2 524.6 L448.6 526.8 L448 525.4 L447.5 524.3 L446.9 523.6 L446.4 521.5 L445.8 521.3 L445.2 522 L444.7 521.9 L444.1 520 L443.6 520 L443 520.7 L442.5 518.9 L442 519.2 L441.5 515.3 L441 516 L440.4 515 L439.9 515.8 L439.4 518.1 L438.9 517.3 L438.3 517.8 L437.8 518.6 L437.3 519.3 L436.7 521.2 L436.2 521.8 L435.7 524.4 L435.2 523.3 L434.6 524 L434.1 525.5 L433.5 523.6 L432.8 521.3 L432.2 519.3 L431.7 520.6 L431.1 518.4 L430.6 518.3 L430.1 516.9 L429.6 517.7 L429 516.6 L428.5 515.7 L428 516.6 L427.5 517.7 L427 517.8 L426.5 518.9 L425.9 519.5 L425.4 521.8 L424.9 522 L424.4 522.6 L423.9 522.9 L423.3 522.4 L422.8 520.4 L422.2 518.6 L421.7 518.5 L421.1 517.3 L420.6 518.1 L420 519 L419.4 519.4 L418.9 522 L418.3 524.5 L417.8 522.3 L417.3 521 L416.8 519.6 L416.3 518.7 L415.8 517.4 L415.3 515.4 L414.7 513.2 L414.2 512.4 L413.7 512.8 L413.2 514.3 L412.7 516 L412.1 517 L411.6 519.7 L411.1 520.9 L410.6 519.6 L410 518.7 L409.5 519.2 L408.9 518.5 L408.4 518.2 L407.9 516.4 L407.4 515.6 L406.9 512.8 L406.4 511.1 L405.8 512.8 L405.1 513.4 L404.6 513.2 L404.1 512.1 L403.5 513.2 L403 513.8 L402.5 512.4 L402 511.8 L401.5 511.3 L401 512.5 L400.5 512.7 L399.9 510.6 L399.2 507.5Z" fill="#ff0000"/>
<path d="M383.9 334.8 L384.3 338.3 L384.6 341.8 L385 345.2 L385.3 348.7 L385.7 352.2 L386 355.7 L386.4 359.1 L386.7 362.6 L387.1 366.1 L387.4 369.6 L387.8 373 L388.1 376.5 L388.5 380 L388.9 383 L389.2 385.9 L389.6 388.9 L389.9 391.9 L390.3 394.8 L390.7 397.8 L391 400.8 L391.4 403.7 L391.7 406.7 L392.1 409.7 L392.5 412.6 L392.8 415.6 L393.2 418.6 L393.5 421.6 L393.9 424.5 L394.3 427.5 L394.6 430.5 L395 433.4 L395.3 436.4 L395.7 439.4 L396.1 442.3 L396.4 445.3 L396.8 448.3 L397.1 451.2 L397.5 454.2 L397.9 460 L398.3 463.4 L398.7 466.8 L399.1 470.3 L399.5 473.7 L399.9 477.1 L400.3 480.5 L400.7 483.9 L401 487.4 L401.4 490.8 L401.8 494.2 L402.2 497.9 L402.6 501.6 L403 505.2 L403.4 508.9 L403.8 512.6 L404.2 514.7 L404.6 516.8 L405 519 L405.4 521.1 L405.8 523.2" fill="none" stroke="#0000ff" stroke-width="1.8" stroke-linejoin="round" stroke-linecap="round"/>
<path d="M405.8 524 L406.2 525.5 L406.6 526.6 L407 530.1 L407.4 531.3 L407.8 532.5 L408.2 532.7 L408.6 533.4 L408.9 536.3 L409.3 537.2 L409.7 538.7 L410.1 535.6 L410.5 537 L410.9 535.9 L411.3 534.2 L411.7 534.6 L412.1 536.5 L412.4 534.5 L412.8 536.7 L413.2 536 L413.6 536.7 L413.9 535.8 L414.3 537.4 L414.7 536.1 L415.1 535.2 L415.5 536.5 L415.8 536.4 L416.2 535.7 L416.6 535 L417 536.1 L417.4 535.4 L417.8 537.8 L418.1 536.6 L418.5 539 L418.9 538.8 L419.3 540.1 L419.6 541.8 L420 541.3 L420.4 542.3 L420.7 542.7 L421.1 543.9 L421.5 544.5 L421.8 544.8 L422.2 544.8 L422.6 544.4 L423 544.5 L423.3 543.3 L423.7 544.4 L424.1 544.2 L424.4 544.5 L424.8 545.5 L425.2 545 L425.5 544 L425.9 544.6 L426.3 545.3 L426.6 545 L427 545.5 L427.4 544.6 L427.8 543.8 L428.1 544.3 L428.5 545 L428.9 543.5 L429.2 543.1 L429.6 544.5 L430 543.8 L430.4 542.8 L430.7 542.2 L431.1 541.4 L431.5 542.9 L431.8 543.2 L432.2 541.6 L432.6 543.5 L432.9 544.7 L433.3 543.3 L433.7 545.6 L434 544.7 L434.4 547.7 L434.8 547 L435.2 546.7 L435.5 547.9 L435.9 548.7 L436.3 550.4 L436.6 548.5 L437 547 L437.4 547 L437.8 548.3 L438.1 547.4 L438.5 545.9 L438.9 545.8 L439.2 546.6 L439.6 546.4 L440 544.4 L440.4 546.2 L440.7 544.4 L441.1 544.6 L441.5 544.2 L441.9 545.4 L442.2 543.6 L442.6 544.1 L443 543.7 L443.4 543.9 L443.7 544.5 L444.1 545.1 L444.4 543.9 L444.8 545 L445.1 543.8 L445.4 543.9 L445.8 543.4 L446.1 543.9 L446.5 545 L446.9 543.3 L447.2 543.2 L447.6 542.1 L447.9 542.5 L448.2 542 L448.6 541.3 L448.9 540.1 L449.3 539.9 L449.6 541.4 L450 540.6 L450.4 541.5 L450.8 539.1 L451.1 541.7 L451.5 541.2 L451.9 539.8 L452.3 540.1 L452.6 539.8 L453 541.6 L453.4 540.6 L453.8 538.8 L454.1 539 L454.4 538.8 L454.8 538.9 L455.1 538.6 L455.5 539.2 L455.8 537.3 L456.2 538.4 L456.5 537.7 L456.9 537.1 L457.2 537.6 L457.6 538.3 L457.9 538.3 L458.3 538 L458.6 536.5 L459 536.9 L459.3 537 L459.7 537.1 L460 537.7 L460.4 538.6 L460.8 538.9 L461.1 539.4 L461.4 539.6 L461.8 540.3 L462.1 539.6 L462.5 541 L462.8 541.4 L463.2 539.6 L463.5 541.4 L463.9 540.8 L464.2 543 L464.6 542.7 L464.9 542.9 L465.3 545.1 L465.6 545.3 L466 548 L466.4 545.6 L466.7 547.2 L467.1 547.1 L467.4 547.6 L467.8 547 L468.1 545.4 L468.4 547.4 L468.8 546.7 L469.2 545.8 L469.6 549.1 L470 547.1 L470.3 547.8 L470.7 549.4 L471.1 551.3 L471.5 551.3 L471.9 552 L472.2 551.7 L472.6 551.8 L472.9 551.4 L473.2 554 L473.6 553 L473.9 554 L474.3 553.4 L474.7 552.7 L475 553.4 L475.4 550.8 L475.7 550.9 L476.1 550.8 L476.4 549.9 L476.8 548.8 L477.1 547.1 L477.5 549.3 L477.8 549.3 L478.2 548.8 L478.5 549.1 L478.9 549.4 L479.2 546.7 L479.6 547.2 L479.9 547.6 L480.2 546.7 L480.6 548.3 L481 549.2 L481.3 549.5 L481.7 551 L482 550.7 L482.4 551.5 L482.7 552.5 L483.1 553.2 L483.4 554.3 L483.8 552.2 L484.1 554.5 L484.5 552.8 L484.9 554.1 L485.2 553.5 L485.6 552.9 L486 550.2 L486.4 549.9 L486.7 549.5 L487.1 551.4 L487.5 550.5 L487.9 550.1 L488.2 549.5 L488.6 548.8 L488.9 549 L489.2 547.9 L489.6 549 L489.9 548 L490.3 546.8 L490.6 546.1 L491 546.9 L491.4 546 L491.8 544.8 L492.1 543.8 L492.5 545.5 L492.9 545.1 L493.3 542.6 L493.7 541.1 L494.1 540.8 L494.4 541.9 L494.8 541.2 L495.2 541.1 L495.6 541.6 L495.9 541.9 L496.2 542.7 L496.6 543.9 L496.9 543.5 L497.3 544.5 L497.6 544.4 L498 544.4 L498.4 545.6 L498.7 546 L499.1 549.7 L499.4 550.2 L499.8 550.3 L500.1 552.4 L500.4 553.9 L500.8 552 L501.2 553.7 L501.5 552.4 L501.9 552.2 L502.3 550.7 L502.6 550.7 L503 551.7 L503.4 551.5 L503.8 548.9 L504.1 549.7 L504.5 549.3 L504.9 548.1 L505.2 546.9 L505.6 548.4 L505.9 547.4 L506.2 547.9 L506.6 545.1 L506.9 546.2 L507.3 545 L507.7 543.5 L508.1 543.3 L508.5 542.1 L508.8 541.1 L509.2 540.4 L509.6 541.4 L510 538.1 L510.4 539.1 L510.7 539 L511.1 541.4 L511.4 541.9 L511.8 540.4 L512.1 541 L512.5 541.3 L512.8 541.4 L513.1 541.1 L513.5 541.6 L513.9 543.6 L514.2 541.6 L514.5 543.7 L514.9 543.5 L515.2 543.9 L515.6 543 L516 542.3 L516.3 542.6 L516.6 543 L517 541.8 L517.4 544.2 L517.7 543.2 L518 544.7 L518.4 545.4 L518.8 544.7 L519.1 544 L519.5 546.4 L519.8 544.5 L520.1 545.7 L520.5 546.2 L520.9 544 L521.3 545.8 L521.7 546.2 L522.1 543 L522.5 544.6 L522.9 542.9 L523.3 542.5 L523.6 542.1 L524 543.8 L524.3 545 L524.7 544.4 L525 546.2 L525.4 545.5 L525.8 546.2 L526.1 547.1 L526.5 548.2 L526.8 548.9 L527.1 547.6 L527.5 549 L527.9 549.2 L528.3 547 L528.6 546.8 L529 547.5 L529.4 545.9 L529.8 544.7 L530.1 544.9 L530.5 543.8 L530.9 542.5 L531.2 543.4 L531.6 542.3 L532 544 L532.3 543.9 L532.6 545 L533 544.5 L533.4 544.8 L533.7 547 L534.1 544.4 L534.4 544.3 L534.8 541.6 L535.1 539.8 L535.5 540.7 L535.8 539.4 L536.2 538.1 L536.5 536.2 L536.9 533.3 L537.3 536.9 L537.7 537.3 L538.1 539.3 L538.5 541.5 L538.9 541.8 L539.3 542.6 L539.6 543.8 L540 542.4 L540.3 543.6 L540.7 543.3 L541 543.6 L541.4 542.4 L541.8 541 L542.1 542.4 L542.4 541.8 L542.8 540.8 L543.1 543.1 L543.5 542.8 L543.8 542.5 L544.2 540.6 L544.5 541.9 L544.9 543 L545.2 541.2 L545.6 542.5 L546 542.6 L546.3 541 L546.6 543.5 L547 542.4 L547.4 542.6 L547.8 543.4 L548.1 543.9 L548.5 543.2 L548.9 545.3 L549.3 544.4 L549.6 546.3 L550 546.5 L550.4 546.6 L550.8 545.8 L551.1 547.2 L551.4 545.6 L551.8 548.5 L552.1 546.7 L552.5 547 L552.9 548.7 L553.2 548.2 L553.5 549.2 L553.9 549 L554.2 548.8 L554.6 547.4 L554.9 547.6 L555.3 547.8 L555.6 547 L556 547.4 L556.4 545.6 L556.7 546.1 L557 544.9 L557.4 546 L557.8 544.2 L558.2 545.4 L558.6 543.9 L559 543.8 L559.4 546 L559.8 544.5 L560.2 548.1 L560.6 546.4 L561 547.6 L561.4 548.6 L561.8 550.7 L562.1 551.3 L562.5 552.3 L562.8 551.6 L563.2 550.7 L563.5 551.3 L563.9 550.9 L564.2 552.3 L564.6 553.2 L564.9 553 L565.3 553 L565.7 553 L566.1 551.3 L566.4 552.2 L566.8 551.2 L567.2 551.3 L567.6 550.4 L567.9 551.1 L568.3 549.7 L568.7 548.1 L569.1 549.3 L569.4 550.3 L569.8 549.3 L570.1 550.9 L570.5 550.1 L570.8 552.3 L571.2 551.3 L571.5 552.9 L571.9 550.8 L572.2 551.5 L572.6 552.2 L573 551.7 L573.3 552.4 L573.7 552.3 L574.1 554 L574.5 552.8 L574.8 554.6 L575.2 554.8 L575.6 553.6 L576 553.4 L576.3 554.7 L576.7 556 L577.1 553.7 L577.5 555.6 L577.9 554.1 L578.2 553.6 L578.6 552.6 L579 554.4 L579.4 551.8 L579.8 551.4 L580.2 552.8 L580.5 550.4 L580.9 551.6 L581.3 549.2 L581.6 550.9 L582 549.6 L582.3 551.6 L582.7 551.2 L583 550.5 L583.4 550.7 L583.8 550.6 L584.1 553.2 L584.4 552 L584.8 550.7 L585.2 550.5 L585.6 550 L585.9 550.6 L586.3 548.8 L586.7 547.5 L587.1 549.9 L587.4 548 L587.8 548.1 L588.2 545.1 L588.6 546.3 L588.9 548.7 L589.2 549.4 L589.6 551.5 L590 552.5 L590.3 550.6 L590.7 552.8 L591 552.4 L591.4 555 L591.7 557 L592.1 554.3 L592.5 553.2 L592.9 552.9 L593.3 552.5 L593.7 552.2 L594.1 549 L594.5 548.4 L594.9 548.6 L595.3 547.5 L595.7 548.6 L596.1 547 L596.5 546.3 L596.9 545.9 L597.3 545.3 L597.6 547 L598 545.9 L598.3 544.7 L598.7 543.1 L599 544.3 L599.4 543 L599.8 544.4 L600.1 544 L600.4 541.3 L600.8 540.9 L601.2 543.5 L601.6 542.5 L601.9 541.4 L602.3 541.4 L602.7 542.9 L603.1 542.8 L603.4 541.9 L603.8 541.4 L604.2 541.5 L604.6 543.5 L604.9 542.5 L605.2 544.1 L605.6 545.7 L606 546.3 L606.3 546.8 L606.7 545.3 L607 547 L607.4 547.8 L607.7 549.1 L608.1 547.3 L608.4 548.7 L608.8 549.7 L609.1 549.5 L609.5 547.8 L609.8 547.6 L610.2 546.8 L610.5 547.5 L610.9 548.1 L611.2 547 L611.6 547.1 L611.9 548.4 L612.2 548.9 L612.6 546.9 L613 549.8 L613.3 549.1 L613.7 550.1 L614 550.2 L614.4 550.5 L614.7 548.9 L615.1 549.3 L615.5 550.8 L615.9 550.4 L616.3 550.1 L616.7 552.1 L617.1 553.3 L617.5 551.9 L617.9 553.8 L618.3 551 L618.7 553.2 L619.1 552.2 L619.5 551.6 L619.9 553 L620.3 553.7 L620.7 553.9 L621.1 555.8 L621.5 556.3 L621.9 557.2 L622.2 555.2 L622.6 556.1 L623 553 L623.3 553.1 L623.6 553.2 L624 552.1 L624.4 550.3 L624.7 551.6 L625.1 550.7 L625.5 549.1 L625.9 546.9 L626.2 547.7 L626.6 546.4 L627 545.8 L627.4 543.9 L627.8 543.6 L628.1 543.2 L628.5 543.6 L628.8 542.3 L629.1 541.6 L629.5 542.3 L629.9 542.1 L630.2 543.1 L630.5 545.8 L630.9 544.2 L631.2 547.5 L631.6 547.8 L632 548 L632.4 546.9 L632.8 546 L633.2 544.3 L633.6 543.7 L634 545.4 L634.4 544.8 L634.8 543.5 L635.1 546.3 L635.4 546 L635.8 546.9 L636.1 547.4 L636.5 546.7 L636.9 547.4 L637.2 547.6 L637.5 547.8 L637.9 549.6 L638.2 549.3 L638.6 550.9 L639 549.7 L639.3 549.4 L639.6 549.5 L640 551.1 L640.4 552.9 L640.7 552.9 L641 552.5 L641.4 553.1 L641.8 551.2 L642.1 553.7 L642.5 552.6 L642.8 550.9 L643.2 549.8 L643.6 551.2 L644 548.7 L644.3 549.5 L644.7 547.5 L645.1 548.7 L645.5 546.4 L645.8 548.5 L646.2 547.4 L646.6 545.8 L647 546.1 L647.4 549.5 L647.8 549.6 L648.2 549.9 L648.6 549.5 L649 551 L649.4 550.2 L649.8 549.9 L650.2 547.6 L650.6 546.5 L651 547 L651.4 546.8 L651.8 547.1 L652.1 546.4 L652.5 545.9 L652.9 545.8 L653.2 546.7 L653.5 549.4 L653.9 547 L654.2 549.4 L654.6 550.7 L655 549 L655.4 549.7 L655.8 548.6 L656.2 547.5 L656.6 547 L657 545.7 L657.4 545.7 L657.8 545.5 L658.1 547.6 L658.5 547.7 L658.8 546 L659.1 547.5 L659.5 546.6 L659.9 548.5 L660.2 547.9 L660.5 549 L660.9 547.9 L661.2 550.4 L661.6 549.9 L662 550.3 L662.3 550.7 L662.6 549.6 L663 548.6 L663.4 550.3 L663.7 550.5 L664.1 551.1 L664.4 550.7 L664.8 550.7 L665.1 549.9 L665.5 549.8 L665.9 549.6 L666.2 550.3 L666.6 551.5 L667 549.5 L667.4 550.6 L667.7 551.1 L668.1 549.6 L668.5 549.6" fill="none" stroke="#0000ff" stroke-width="2.7" stroke-linejoin="round" stroke-linecap="round"/>
<path d="M405.8 522.1 L406.3 524.4 L406.8 526.8 L407.3 529.6 L407.8 531.5 L408.4 532.7 L409.1 534 L409.7 536.2 L410.2 534.8 L410.7 535.3 L411.2 534 L411.7 533.3 L412.2 532.3 L412.7 533.6 L413.3 534.3 L413.8 533.9 L414.3 534.8 L414.8 534.9 L415.4 534.4 L415.9 533.8 L416.5 531.5 L417 532.6 L417.6 534.6 L418.3 535.6 L418.9 536.3 L419.4 537.7 L420 539.7 L420.6 539.6 L421.1 539.9 L421.6 540.2 L422.2 541.9 L422.7 542.5 L423.2 543.4 L423.7 542.7 L424.3 544 L424.8 541.8 L425.3 543.6 L425.9 542.8 L426.4 541.9 L426.9 542.7 L427.4 539.7 L428 541.2 L428.5 542 L429 543 L429.6 542.7 L430.1 541.9 L430.6 541 L431.1 539.7 L431.7 540.4 L432.2 540 L432.7 541.2 L433.3 541.9 L433.8 543.1 L434.3 543.1 L434.8 545 L435.4 546.3 L435.9 547.7 L436.4 547.3 L437 547 L437.5 547.1 L438 546.1 L438.5 544.7 L439.1 545 L439.6 543.6 L440.2 542 L440.7 542.2 L441.3 542.2 L441.9 539.6 L442.4 541 L443 541.9 L443.5 542.6 L444 541.9 L444.5 541.9 L445 540.1 L445.5 542.1 L446 543.4 L446.5 542.7 L447 543.2 L447.5 541.8 L448 541.3 L448.5 539 L449 538.9 L449.5 538.9 L450 539.4 L450.6 539.3 L451.1 538.3 L451.7 538 L452.3 537.9 L452.8 538.3 L453.4 538.5 L453.9 537.9 L454.4 536.8 L454.9 536.9 L455.4 536.8 L455.9 535.2 L456.4 535 L456.9 534.3 L457.4 534 L457.9 535 L458.4 536 L458.9 534.6 L459.4 536.4 L459.9 536.2 L460.4 536.7 L460.9 536.9 L461.4 538.1 L461.9 538.8 L462.4 539.1 L462.9 539.2 L463.4 538.8 L463.9 539 L464.4 541.4 L464.9 542.3 L465.5 543.7 L466 544.7 L466.6 544.7 L467.1 544.6 L467.7 544.1 L468.2 544.9 L468.8 546.1 L469.3 547.1 L469.9 546.8 L470.4 548 L471 547.8 L471.5 549.2 L472.1 548.6 L472.6 549.7 L473.2 550.9 L473.7 551.9 L474.3 551.8 L474.9 550.7 L475.4 548.8 L476 548.4 L476.5 548.9 L477.1 546.9 L477.6 547.2 L478.1 546 L478.6 546.7 L479.1 543.6 L479.6 545.1 L480.1 545.7 L480.6 545.8 L481.1 547.1 L481.6 546.9 L482.1 548.7 L482.6 548.9 L483.1 550.5 L483.6 551.4 L484.1 552.4 L484.7 550.8 L485.2 549.9 L485.8 550.6 L486.4 549.4 L486.9 548.1 L487.5 547.3 L488 547.2 L488.5 545.7 L489 545.4 L489.5 545.7 L490 545.6 L490.5 544.9 L491 544.8 L491.5 543.5 L492.1 542.1 L492.6 542 L493.1 542 L493.6 540.2 L494.1 541 L494.7 539.6 L495.2 538.6 L495.8 539.1 L496.3 540.6 L496.9 541.8 L497.4 543 L498 544.3 L498.6 545 L499.1 547.4 L499.7 548.9 L500.2 550.3 L500.8 551.9 L501.3 551.5 L501.9 549.2 L502.4 549.1 L502.9 549.9 L503.4 548.7 L504 547.9 L504.5 547.7 L505.1 546.2 L505.6 544.6 L506.2 543 L506.7 544.1 L507.3 542.7 L507.8 543.3 L508.4 541.8 L508.9 540.6 L509.5 539.5 L510 537.8 L510.5 537.9 L511 538.3 L511.5 539.1 L512 538.6 L512.5 540.1 L513 539.9 L513.5 540 L514 540.6 L514.5 540.1 L515 539.6 L515.5 539.6 L516 541.6 L516.5 540.7 L517 541.4 L517.5 541.4 L518 543.4 L518.5 543.4 L519 544.6 L519.5 543.8 L520 543.8 L520.5 544.8 L521.1 542.5 L521.6 542.5 L522.2 541.7 L522.7 542 L523.3 542.4 L523.8 543.1 L524.3 541.9 L524.9 544.4 L525.4 543.8 L525.9 544.2 L526.5 544.4 L527 545.7 L527.5 547.9 L528.1 547.1 L528.6 546.1 L529.2 543 L529.8 542.3 L530.3 540.7 L530.9 539.9 L531.5 541.4 L532 541.9 L532.6 540.8 L533.1 543.8 L533.7 545.5 L534.2 543.8 L534.8 541 L535.3 538.4 L535.8 536.8 L536.4 534.6 L536.9 532.9 L537.5 534.5 L538.1 538 L538.7 540.2 L539.3 541.3 L539.8 541 L540.3 541.3 L540.8 541.4 L541.3 540.4 L541.8 539.9 L542.3 540.2 L542.8 539.5 L543.3 539.2 L543.8 538.1 L544.4 539.7 L544.9 538.8 L545.4 539.1 L546 538.7 L546.5 539.9 L547 540.4 L547.6 541.1 L548.1 540.3 L548.7 541.7 L549.3 542.3 L549.8 542.7 L550.4 544.3 L550.9 545.8 L551.4 545.5 L551.9 545.1 L552.4 545.5 L552.9 546.7 L553.4 546.1 L553.9 547.3 L554.4 546.9 L554.9 544.9 L555.4 545 L555.9 544 L556.4 545.5 L556.9 545.1 L557.4 543.6 L557.9 542.9 L558.5 543.2 L559 539.5 L559.6 542.7 L560.1 544.1 L560.7 546.3 L561.2 547.8 L561.8 549.4 L562.3 548.7 L562.8 549.4 L563.3 550 L563.8 551.1 L564.3 551.3 L564.8 550.9 L565.3 551.1 L565.9 549.9 L566.4 550.7 L567 548.4 L567.6 548.2 L568.1 546.6 L568.7 547.3 L569.2 547.5 L569.7 546.6 L570.2 548 L570.7 549.9 L571.2 549.5 L571.7 549.2 L572.2 549.5 L572.7 549.5 L573.3 552 L573.8 551.5 L574.4 551.2 L574.9 552.1 L575.5 552.4 L576 551.8 L576.6 553.6 L577.1 552.7 L577.6 554 L578.1 552 L578.7 552.4 L579.2 551.5 L579.7 551.4 L580.2 548.7 L580.8 549.1 L581.3 549.2 L581.8 549.2 L582.3 548.5 L582.8 548.9 L583.3 548.5 L583.8 550.7 L584.3 551.2 L584.8 551.1 L585.4 548.9 L585.9 547.3 L586.5 547 L587.1 546.1 L587.6 545.8 L588.2 543.4 L588.7 546.1 L589.2 547.3 L589.7 547.8 L590.2 550.4 L590.7 550.4 L591.2 551.2 L591.7 551.8 L592.3 550.9 L592.8 551.4 L593.4 548.4 L593.9 548 L594.5 545.8 L595.1 546.8 L595.6 545.9 L596.2 546.9 L596.7 545.5 L597.3 542.8 L597.8 542.7 L598.3 542.9 L598.8 542.9 L599.3 541.1 L599.8 540.5 L600.3 538.4 L600.8 541 L601.4 539.9 L601.9 540.9 L602.5 539.9 L603.1 540.9 L603.6 540.4 L604.2 540.7 L604.7 542 L605.2 543.1 L605.7 543.1 L606.2 542.6 L606.7 543.6 L607.2 545.2 L607.7 546.4 L608.2 545.2 L608.7 544.3 L609.2 544.7 L609.7 545.5 L610.2 545 L610.7 545.3 L611.2 546 L611.7 545 L612.2 546.8 L612.7 546.1 L613.2 547.1 L613.7 547.5 L614.2 546.7 L614.7 549 L615.3 550.1 L615.8 550.8 L616.4 550.1 L616.9 550.5 L617.5 551.5 L618 550.6 L618.6 549.2 L619.1 549.2 L619.7 551.2 L620.2 551.6 L620.8 551.3 L621.3 550.8 L621.9 553.5 L622.5 553.4 L623 550.7 L623.6 550.2 L624.1 550 L624.7 548.9 L625.2 548.5 L625.8 544.2 L626.3 543.7 L626.9 543 L627.4 541.2 L627.9 541.4 L628.5 540.7 L629 540.7 L629.5 540.7 L630 539.4 L630.5 542.8 L631.1 543.6 L631.6 544.7 L632.2 544.7 L632.7 542.5 L633.3 542.9 L633.8 542.5 L634.4 540.5 L634.9 541.3 L635.4 543.4 L635.9 544.1 L636.4 545.6 L636.9 546.5 L637.4 547.3 L637.9 548.3 L638.4 548.5 L639 548.6 L639.5 548 L640 548.7 L640.5 549.6 L641 550.7 L641.6 550.7 L642.1 551.6 L642.6 549.5 L643.1 550.4 L643.6 548.6 L644.2 547.6 L644.7 547.4 L645.2 545.8 L645.7 546.2 L646.2 544.7 L646.8 545.2 L647.3 545.1 L647.9 546.6 L648.4 548.7 L649 548.5 L649.6 548.3 L650.1 547.5 L650.7 546.1 L651.2 544.2 L651.8 543.9 L652.4 545.2 L652.9 544.7 L653.5 546.9 L654 546.8 L654.6 546.5 L655.2 546.1 L655.7 545.9 L656.3 546.3 L656.8 544.7 L657.4 544.6 L657.9 544.9 L658.5 546.2 L659 547.2 L659.5 546.6 L660 546.9 L660.5 545.4 L661.1 546.2 L661.6 546.7 L662.1 548.4 L662.6 546.1 L663.1 548 L663.6 548.1 L664.1 548.2 L664.6 548.9 L665.1 548.4 L665.7 548.2 L666.2 549.3 L666.8 549.1 L667.4 549.7 L667.9 548.8 L668.5 549.1 L668.5 552.8 L667.9 554.8 L667.4 553.7 L666.8 553.2 L666.2 553.2 L665.7 552.6 L665.1 552.4 L664.6 553.1 L664.1 553.5 L663.6 551.8 L663.1 551.5 L662.6 551.4 L662.1 551.2 L661.6 550.9 L661.1 550.5 L660.5 549.8 L660 549.7 L659.5 551.5 L659 551.1 L658.5 549.8 L657.9 549.2 L657.4 549.1 L656.8 549 L656.3 549.6 L655.7 550.2 L655.2 550 L654.6 550.5 L654 550.2 L653.5 550 L652.9 552.1 L652.4 548.9 L651.8 548.3 L651.2 548.8 L650.7 549.5 L650.1 551.1 L649.6 551.1 L649 552.5 L648.4 552.3 L647.9 551.1 L647.3 549.8 L646.8 548.1 L646.2 548.4 L645.7 550.6 L645.2 550.1 L644.7 551.2 L644.2 551.7 L643.6 553.4 L643.1 554.2 L642.6 553.9 L642.1 554.9 L641.6 553.8 L641 555.2 L640.5 554.9 L640 552.4 L639.5 552.4 L639 551.9 L638.4 551.9 L637.9 552.1 L637.4 550.8 L636.9 549.5 L636.4 548.7 L635.9 547.2 L635.4 546.2 L634.9 545.4 L634.4 544.3 L633.8 546 L633.3 547.3 L632.7 547.5 L632.2 547.5 L631.6 550.2 L631.1 547.3 L630.5 546.1 L630 544.6 L629.5 544 L629 544 L628.5 545 L627.9 545.2 L627.4 545.1 L626.9 545.9 L626.3 548.3 L625.8 550.6 L625.2 552 L624.7 552.2 L624.1 553.6 L623.6 554.5 L623 556.9 L622.5 556.7 L621.9 557.8 L621.3 556.7 L620.8 555.8 L620.2 556 L619.7 554.4 L619.1 553.6 L618.6 555.2 L618 555.1 L617.5 555.8 L616.9 554.1 L616.4 554.2 L615.8 554.5 L615.3 553.8 L614.7 551.8 L614.2 550.5 L613.7 551.3 L613.2 551 L612.7 551 L612.2 550.4 L611.7 549.3 L611.2 551.3 L610.7 549.1 L610.2 549.3 L609.7 549.7 L609.2 548.4 L608.7 548 L608.2 549 L607.7 550.6 L607.2 549.4 L606.7 548 L606.2 546.9 L605.7 546.9 L605.2 548.4 L604.7 545.9 L604.2 544.6 L603.6 544.9 L603.1 544.9 L602.5 544.2 L601.9 544.5 L601.4 544.7 L600.8 544.9 L600.3 544.5 L599.8 544.6 L599.3 545.8 L598.8 546.5 L598.3 546.8 L597.8 546.8 L597.3 548.2 L596.7 551 L596.2 549.9 L595.6 550.1 L595.1 550.6 L594.5 549.7 L593.9 554.1 L593.4 554.2 L592.8 554.3 L592.3 555.6 L591.7 557.7 L591.2 554.9 L590.7 554.3 L590.2 554 L589.7 551.9 L589.2 550.7 L588.7 549.7 L588.2 549.3 L587.6 549.8 L587.1 550.4 L586.5 550.7 L585.9 551.3 L585.4 553.2 L584.8 554.3 L584.3 555.7 L583.8 554 L583.3 553.2 L582.8 552 L582.3 552.8 L581.8 554.5 L581.3 552.8 L580.8 553.4 L580.2 554 L579.7 555.4 L579.2 557.1 L578.7 556.7 L578.1 555.6 L577.6 558.8 L577.1 556.7 L576.6 557.5 L576 555.6 L575.5 555.7 L574.9 555.2 L574.4 555.2 L573.8 555.4 L573.3 555.9 L572.7 555.4 L572.2 553.9 L571.7 554.3 L571.2 552.8 L570.7 553.6 L570.2 552.7 L569.7 552.1 L569.2 552 L568.7 552.6 L568.1 550.5 L567.6 551.8 L567 553.6 L566.4 554 L565.9 553.8 L565.3 554.9 L564.8 554.8 L564.3 554.7 L563.8 554.6 L563.3 553.7 L562.8 553 L562.3 553.4 L561.8 553.1 L561.2 551.8 L560.7 549.6 L560.1 546.8 L559.6 547 L559 547.1 L558.5 547 L557.9 546.7 L557.4 547.9 L556.9 549 L556.4 550.4 L555.9 548.8 L555.4 548.7 L554.9 549.7 L554.4 549.8 L553.9 551.2 L553.4 552.6 L552.9 550 L552.4 549.2 L551.9 549.2 L551.4 548.7 L550.9 549.4 L550.4 547.2 L549.8 548.9 L549.3 546.3 L548.7 545.5 L548.1 544.3 L547.6 543.8 L547 544.5 L546.5 544.3 L546 544.2 L545.4 543.6 L544.9 544 L544.4 543.8 L543.8 543.5 L543.3 543 L542.8 542.8 L542.3 543.2 L541.8 544.3 L541.3 544.1 L540.8 544.3 L540.3 544.5 L539.8 545 L539.3 545.1 L538.7 545.6 L538.1 543.1 L537.5 538.4 L536.9 536.6 L536.4 538.6 L535.8 542.1 L535.3 542.3 L534.8 545.2 L534.2 547.1 L533.7 549.7 L533.1 547.3 L532.6 545.6 L532 545.5 L531.5 545.3 L530.9 544 L530.3 544.6 L529.8 546 L529.2 548.5 L528.6 549.1 L528.1 550.4 L527.5 552.1 L527 550.6 L526.5 549.2 L525.9 547.9 L525.4 548.3 L524.9 549.5 L524.3 547.8 L523.8 549 L523.3 545.5 L522.7 546.3 L522.2 546.4 L521.6 547.9 L521.1 546.4 L520.5 548.4 L520 548.2 L519.5 548.1 L519 547.4 L518.5 547.4 L518 546.3 L517.5 545.4 L517 544.7 L516.5 544.7 L516 544.6 L515.5 545.6 L515 546.5 L514.5 544.7 L514 544.5 L513.5 543.5 L513 543.9 L512.5 545.5 L512 544.7 L511.5 543.4 L511 541.3 L510.5 541.3 L510 540.6 L509.5 543.3 L508.9 544.7 L508.4 545.5 L507.8 546.2 L507.3 547.7 L506.7 550 L506.2 548.7 L505.6 548.4 L505.1 551.7 L504.5 550.6 L504 551.9 L503.4 553.2 L502.9 553.2 L502.4 554.7 L501.9 554 L501.3 555.8 L500.8 554.9 L500.2 554.8 L499.7 552.7 L499.1 551.4 L498.6 549.3 L498 547.1 L497.4 549 L496.9 545.2 L496.3 544.8 L495.8 543.7 L495.2 542.8 L494.7 543.4 L494.1 544.7 L493.6 545.4 L493.1 546.2 L492.6 546.1 L492.1 546.9 L491.5 547.4 L491 547.5 L490.5 548.2 L490 550 L489.5 549.2 L489 549.3 L488.5 551.8 L488 550.9 L487.5 551.3 L486.9 551.2 L486.4 552.5 L485.8 553.9 L485.2 554.2 L484.7 554.8 L484.1 555.4 L483.6 555.8 L483.1 554.3 L482.6 552.8 L482.1 552.2 L481.6 551.4 L481.1 549.8 L480.6 550.1 L480.1 550.5 L479.6 549.1 L479.1 550.3 L478.6 550.5 L478.1 550.5 L477.6 550.4 L477.1 551.1 L476.5 552.4 L476 552.9 L475.4 553.1 L474.9 554 L474.3 555.6 L473.7 555.4 L473.2 555.9 L472.6 553.2 L472.1 552.9 L471.5 552.9 L471 552 L470.4 551.9 L469.9 550.6 L469.3 550.7 L468.8 549.7 L468.2 548.9 L467.7 547.6 L467.1 548.1 L466.6 548.2 L466 548 L465.5 547.6 L464.9 545.2 L464.4 544.6 L463.9 543 L463.4 543 L462.9 543.5 L462.4 544.2 L461.9 541.7 L461.4 541.5 L460.9 541.6 L460.4 542.4 L459.9 539.7 L459.4 539.2 L458.9 540.1 L458.4 539.5 L457.9 540.6 L457.4 538.5 L456.9 537.7 L456.4 538.2 L455.9 539.3 L455.4 540.3 L454.9 540.4 L454.4 541.2 L453.9 540.8 L453.4 542.2 L452.8 542.1 L452.3 542.6 L451.7 541.1 L451.1 541.8 L450.6 542.9 L450 542.5 L449.5 542.9 L449 543 L448.5 542.7 L448 546.9 L447.5 545.7 L447 547.2 L446.5 547.1 L446 546.9 L445.5 546.2 L445 545.6 L444.5 545.1 L444 546.4 L443.5 546.4 L443 545.3 L442.4 544.4 L441.9 544.7 L441.3 545.5 L440.7 546.6 L440.2 547.3 L439.6 547.2 L439.1 548.3 L438.5 549.1 L438 549.2 L437.5 549.8 L437 550.8 L436.4 551.8 L435.9 550.9 L435.4 549.6 L434.8 548.1 L434.3 547.5 L433.8 545.8 L433.3 545.1 L432.7 546.2 L432.2 543.5 L431.7 544.2 L431.1 544.1 L430.6 544.4 L430.1 544.8 L429.6 545.7 L429 546.9 L428.5 545.8 L428 545.5 L427.4 545.1 L426.9 546.5 L426.4 546.1 L425.9 546.9 L425.3 547.5 L424.8 547.8 L424.3 546.8 L423.7 546.6 L423.2 546.9 L422.7 547.2 L422.2 545.7 L421.6 543.5 L421.1 545.5 L420.6 543.7 L420 544.4 L419.4 542.1 L418.9 540.6 L418.3 539.7 L417.6 539 L417 536.9 L416.5 536.2 L415.9 537.8 L415.4 538.7 L414.8 538.4 L414.3 539.1 L413.8 537.5 L413.3 538.2 L412.7 537.5 L412.2 538.3 L411.7 536.3 L411.2 538.1 L410.7 539.2 L410.2 539 L409.7 539 L409.1 537.3 L408.4 535.8 L407.8 535.3 L407.3 533.2 L406.8 531.6 L406.3 528.3 L405.8 526.3Z" fill="#0000ff"/>
<text x="526.2" y="611.2" class="xl" text-anchor="middle" textLength="54.6" lengthAdjust="spacingAndGlyphs">Iterations</text>
<text transform="translate(356.2 454.3) rotate(-90)" class="xl" text-anchor="middle" textLength="61.5" lengthAdjust="spacingAndGlyphs">MSD(dB)</text>
<text x="523.4" y="641.3" class="p" text-anchor="middle">(c)</text>
<rect x="588.5" y="341.8" width="73.5" height="50.6" class="lg" stroke="#a8a8a8"/>
<line x1="591.2" y1="351.1" x2="617.3" y2="351.1" stroke="#00ff00" stroke-width="2"/>
<text transform="translate(618.3 356.9) skewX(-6)" class="tau">τ</text>
<text transform="translate(624.9 355.9) scale(0.87 1)" class="l">=0.001</text>
<line x1="591.2" y1="367.2" x2="617.3" y2="367.2" stroke="#ff0000" stroke-width="2"/>
<text transform="translate(618.3 373) skewX(-6)" class="tau">τ</text>
<text transform="translate(624.9 372) scale(0.87 1)" class="l">=0.01</text>
<line x1="591.2" y1="383.1" x2="617.3" y2="383.1" stroke="#0000ff" stroke-width="2"/>
<text transform="translate(618.3 388.9) skewX(-6)" class="tau">τ</text>
<text transform="translate(624.9 387.9) scale(0.87 1)" class="l">=0.1</text>
</svg>
</body></html>
